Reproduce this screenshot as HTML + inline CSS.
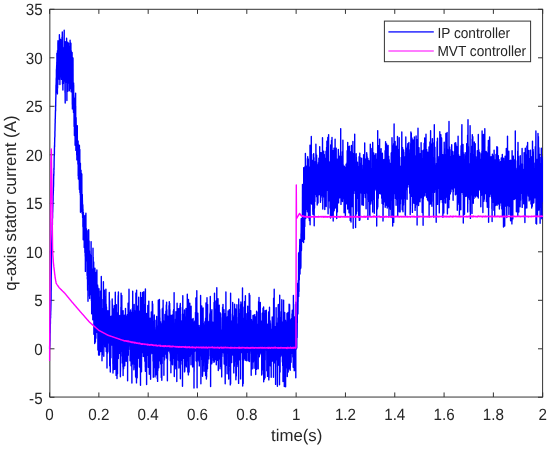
<!DOCTYPE html>
<html><head><meta charset="utf-8"><style>
html,body{margin:0;padding:0;background:#fff;}
svg{display:block;filter:blur(0.35px);}
text{font-family:"Liberation Sans",Arial,Helvetica,sans-serif;fill:#262626;text-rendering:geometricPrecision;}
</style></head><body>
<svg width="550" height="451" viewBox="0 0 550 451">
<rect width="550" height="451" fill="#fff"/>
<defs><clipPath id="ax"><rect x="48.55" y="8.80" width="494.46" height="388.75"/></clipPath></defs>
<g fill="none" stroke="#333333" stroke-width="1">
<rect x="49.85" y="9.30" width="492.75" height="387.75"/>
<path d="M49.55 397.05V392.45M49.55 9.30V13.90M98.87 397.05V392.45M98.87 9.30V13.90M148.18 397.05V392.45M148.18 9.30V13.90M197.50 397.05V392.45M197.50 9.30V13.90M246.81 397.05V392.45M246.81 9.30V13.90M296.13 397.05V392.45M296.13 9.30V13.90M345.45 397.05V392.45M345.45 9.30V13.90M394.76 397.05V392.45M394.76 9.30V13.90M444.08 397.05V392.45M444.08 9.30V13.90M493.39 397.05V392.45M493.39 9.30V13.90M542.71 397.05V392.45M542.71 9.30V13.90M49.85 397.30H54.45M542.60 397.30H538.00M49.85 348.80H54.45M542.60 348.80H538.00M49.85 300.30H54.45M542.60 300.30H538.00M49.85 251.80H54.45M542.60 251.80H538.00M49.85 203.30H54.45M542.60 203.30H538.00M49.85 154.80H54.45M542.60 154.80H538.00M49.85 106.30H54.45M542.60 106.30H538.00M49.85 57.80H54.45M542.60 57.80H538.00M49.85 9.30H54.45M542.60 9.30H538.00"/>
</g>
<g clip-path="url(#ax)" fill="none" stroke-linejoin="round">
<path d="M49.5 348.8L49.6 346.3L49.7 345.1L49.7 344.0L49.8 341.3L49.9 340.0L49.9 336.4L50.0 332.5L50.1 333.1L50.1 331.3L50.2 327.6L50.2 325.7L50.3 324.0L50.4 323.6L50.4 320.2L50.5 317.0L50.6 318.1L50.6 314.7L50.7 314.8L50.7 311.9L50.8 310.7L50.9 306.1L50.9 305.7L51.0 301.2L51.1 297.9L51.1 292.1L51.2 289.3L51.2 279.8L51.3 272.7L51.4 266.0L51.4 262.2L51.5 254.2L51.6 250.5L51.6 248.2L51.7 243.2L51.7 244.2L51.8 240.9L51.9 237.4L51.9 237.7L52.0 234.9L52.1 232.5L52.1 230.6L52.2 230.6L52.2 226.5L52.3 222.3L52.4 225.1L52.4 219.1L52.5 218.3L52.6 217.5L52.6 211.0L52.7 211.1L52.7 212.4L52.8 208.2L52.9 205.3L52.9 204.6L53.0 201.0L53.1 200.3L53.1 197.0L53.2 193.6L53.2 195.2L53.3 191.7L53.4 190.8L53.4 187.5L53.5 187.5L53.6 184.1L53.6 181.1L53.7 176.9L53.7 174.1L53.8 176.1L53.9 172.9L53.9 168.0L54.0 170.4L54.1 165.3L54.1 162.3L54.2 157.6L54.2 156.3L54.3 155.8L54.4 153.6L54.4 151.0L54.5 145.5L54.6 146.7L54.6 144.1L54.7 140.6L54.7 139.2L54.8 137.0L54.9 136.4L54.9 132.0L55.0 130.5L55.1 125.2L55.1 123.9L55.2 122.8L55.2 119.2L55.3 118.8L55.4 113.9L55.4 113.6L55.5 110.1L55.6 111.1L55.6 105.2L55.7 106.3L55.7 104.2L55.8 98.1L55.9 96.5L55.9 91.7L56.0 84.9L56.1 88.0L56.1 85.2L56.2 81.5L56.2 78.7L56.3 78.3L56.4 76.5L56.4 70.3L56.5 68.7L56.6 76.1L56.6 68.0L56.7 65.1L56.7 73.7L56.8 61.9L56.9 73.1L56.9 53.3L57.0 61.7L57.1 62.7L57.1 71.7L57.2 65.3L57.2 92.5L57.3 79.8L57.4 57.9L57.4 93.9L57.5 50.6L57.6 88.2L57.6 51.6L57.7 74.8L57.7 51.0L57.8 60.3L57.9 84.5L57.9 43.8L58.0 40.8L58.1 62.6L58.1 65.5L58.2 63.7L58.2 75.5L58.3 45.2L58.4 68.9L58.4 61.6L58.5 72.3L58.6 69.7L58.6 79.1L58.7 42.1L58.7 62.5L58.8 46.0L58.9 59.8L58.9 69.9L59.0 64.4L59.1 67.7L59.1 59.3L59.2 64.7L59.2 63.5L59.3 79.1L59.4 70.6L59.4 34.7L59.5 68.6L59.6 74.1L59.6 53.9L59.7 38.3L59.7 80.0L59.8 61.9L59.9 68.1L59.9 84.5L60.0 48.2L60.1 59.2L60.1 57.9L60.2 69.9L60.2 52.3L60.3 66.8L60.4 61.0L60.4 75.1L60.5 76.7L60.6 39.6L60.6 66.4L60.7 54.8L60.7 59.5L60.8 65.5L60.9 66.4L60.9 49.9L61.0 63.5L61.1 61.3L61.1 58.8L61.2 42.0L61.2 49.2L61.3 53.6L61.4 67.4L61.4 79.3L61.5 45.4L61.6 45.1L61.6 61.3L61.7 51.3L61.7 47.9L61.8 47.1L61.9 45.8L61.9 65.9L62.0 37.2L62.1 77.4L62.1 46.8L62.2 52.1L62.2 46.6L62.3 32.0L62.4 37.8L62.4 76.0L62.5 83.9L62.6 47.5L62.6 74.2L62.7 59.6L62.7 47.2L62.8 83.4L62.9 90.1L62.9 55.7L63.0 58.8L63.1 63.1L63.1 58.9L63.2 72.0L63.2 81.5L63.3 62.0L63.4 73.7L63.4 83.5L63.5 52.2L63.6 60.5L63.6 53.7L63.7 74.0L63.7 69.2L63.8 74.2L63.9 72.5L63.9 56.8L64.0 71.1L64.1 54.5L64.1 54.8L64.2 30.3L64.2 80.0L64.3 46.8L64.4 61.1L64.4 60.1L64.5 81.1L64.6 66.8L64.6 49.4L64.7 61.5L64.7 59.2L64.8 64.7L64.9 43.8L64.9 61.0L65.0 92.6L65.1 70.9L65.1 89.6L65.2 103.1L65.2 68.9L65.3 41.8L65.4 60.7L65.4 78.5L65.5 75.2L65.6 45.2L65.6 59.4L65.7 61.1L65.7 62.7L65.8 61.5L65.9 50.4L65.9 54.2L66.0 59.2L66.1 77.6L66.1 55.1L66.2 72.6L66.2 46.8L66.3 81.3L66.4 64.9L66.4 63.1L66.5 82.4L66.6 38.2L66.6 42.1L66.7 70.2L66.7 52.3L66.8 58.1L66.9 100.6L66.9 60.2L67.0 64.8L67.1 62.8L67.1 79.8L67.2 68.1L67.2 66.9L67.3 47.1L67.4 59.6L67.4 64.7L67.5 42.4L67.6 72.9L67.6 70.6L67.7 91.4L67.7 42.3L67.8 51.2L67.9 51.9L67.9 55.6L68.0 63.9L68.1 62.4L68.1 69.3L68.2 68.7L68.2 65.1L68.3 44.0L68.4 58.0L68.4 67.0L68.5 74.7L68.6 75.6L68.6 43.1L68.7 59.2L68.7 65.7L68.8 71.8L68.9 83.0L68.9 67.9L69.0 54.3L69.1 72.9L69.1 70.6L69.2 70.6L69.2 65.9L69.3 90.7L69.4 71.1L69.4 80.3L69.5 55.2L69.6 79.4L69.6 59.9L69.7 46.3L69.7 73.2L69.8 77.6L69.9 66.2L69.9 69.1L70.0 83.7L70.1 62.7L70.1 40.3L70.2 73.5L70.2 72.8L70.3 85.2L70.4 65.5L70.4 88.5L70.5 86.6L70.6 52.0L70.6 84.0L70.7 55.2L70.7 48.9L70.8 67.5L70.9 63.4L70.9 43.2L71.0 74.6L71.1 80.5L71.1 91.7L71.2 71.6L71.2 50.8L71.3 58.8L71.4 87.0L71.4 86.2L71.5 81.6L71.6 70.5L71.6 78.2L71.7 72.6L71.7 71.9L71.8 81.1L71.9 77.8L71.9 74.7L72.0 79.4L72.1 71.5L72.1 52.5L72.2 71.3L72.2 79.4L72.3 104.4L72.4 75.7L72.4 108.9L72.5 101.8L72.6 70.7L72.6 73.3L72.7 85.7L72.7 107.8L72.8 90.4L72.9 95.6L72.9 78.7L73.0 58.0L73.1 86.5L73.1 101.1L73.2 107.4L73.2 93.4L73.3 96.1L73.4 110.3L73.4 94.2L73.5 112.4L73.6 83.0L73.6 84.7L73.7 85.5L73.7 107.4L73.8 95.2L73.9 105.0L73.9 109.4L74.0 109.8L74.1 123.7L74.1 126.6L74.2 97.9L74.2 112.1L74.3 107.7L74.4 98.3L74.4 135.6L74.5 123.9L74.6 111.9L74.6 109.7L74.7 120.6L74.7 102.7L74.8 114.2L74.9 133.6L74.9 130.6L75.0 108.5L75.1 113.7L75.1 145.3L75.2 103.5L75.2 114.0L75.3 105.0L75.4 128.2L75.4 127.8L75.5 139.3L75.6 93.1L75.6 128.3L75.7 106.1L75.7 135.8L75.8 125.9L75.9 150.4L75.9 134.4L76.0 117.5L76.1 147.0L76.1 117.7L76.2 127.9L76.2 146.3L76.3 140.0L76.4 140.2L76.4 135.6L76.5 142.5L76.6 146.9L76.6 141.0L76.7 150.9L76.7 154.9L76.8 139.8L76.9 128.6L76.9 159.9L77.0 141.2L77.1 150.2L77.1 155.0L77.2 132.5L77.2 150.5L77.3 125.8L77.4 155.2L77.4 141.1L77.5 149.5L77.6 156.8L77.6 140.7L77.7 150.7L77.7 141.8L77.8 150.7L77.9 164.3L77.9 152.7L78.0 151.5L78.1 140.9L78.1 164.7L78.2 154.6L78.2 176.1L78.3 147.4L78.4 169.5L78.4 179.1L78.5 158.2L78.6 144.6L78.6 177.6L78.7 172.9L78.7 169.3L78.8 174.7L78.9 156.9L78.9 172.1L79.0 171.7L79.1 156.5L79.1 173.5L79.2 159.7L79.2 177.5L79.3 181.2L79.4 189.5L79.4 145.4L79.5 172.6L79.6 166.5L79.6 170.5L79.7 169.0L79.7 171.0L79.8 149.4L79.9 185.6L79.9 192.6L80.0 186.7L80.1 191.3L80.1 167.1L80.2 167.0L80.2 189.0L80.3 194.9L80.4 183.2L80.4 163.2L80.5 212.2L80.6 175.0L80.6 194.7L80.7 170.4L80.7 196.2L80.8 187.5L80.9 202.7L80.9 197.2L81.0 170.1L81.1 177.5L81.1 192.6L81.2 198.8L81.2 211.5L81.3 194.7L81.4 191.2L81.4 192.5L81.5 193.4L81.6 206.1L81.6 194.5L81.7 194.9L81.7 180.1L81.8 173.9L81.9 198.3L81.9 206.6L82.0 199.0L82.1 206.2L82.1 208.6L82.2 201.1L82.2 213.8L82.3 194.5L82.4 203.9L82.4 200.3L82.5 206.3L82.6 213.8L82.6 217.4L82.7 209.3L82.7 213.9L82.8 204.8L82.9 208.6L82.9 226.5L83.0 209.1L83.1 227.9L83.1 219.4L83.2 216.0L83.2 239.7L83.3 212.5L83.4 212.4L83.4 217.2L83.5 221.5L83.6 221.6L83.6 230.3L83.7 221.7L83.7 226.2L83.8 218.4L83.9 236.5L83.9 217.9L84.0 219.9L84.1 224.5L84.1 229.2L84.2 216.5L84.2 247.6L84.3 219.1L84.4 222.9L84.4 223.0L84.5 222.4L84.6 237.6L84.6 232.6L84.7 220.5L84.7 224.0L84.8 227.6L84.9 252.6L84.9 223.9L85.0 215.4L85.1 218.2L85.1 229.8L85.2 256.2L85.2 220.6L85.3 236.9L85.4 271.4L85.4 230.3L85.5 258.3L85.6 256.0L85.6 246.8L85.7 219.0L85.7 243.9L85.8 234.9L85.9 213.2L85.9 216.0L86.0 242.1L86.1 244.7L86.1 260.7L86.2 252.7L86.2 236.1L86.3 237.1L86.4 242.0L86.4 228.8L86.5 256.7L86.6 246.1L86.6 234.3L86.7 237.1L86.7 230.0L86.8 241.1L86.9 252.7L86.9 242.6L87.0 264.8L87.1 275.5L87.1 240.7L87.2 251.3L87.2 246.0L87.3 278.9L87.4 257.9L87.4 262.3L87.5 267.1L87.6 290.2L87.6 259.6L87.7 239.9L87.7 248.9L87.8 265.6L87.9 256.5L87.9 244.2L88.0 301.2L88.1 259.9L88.1 249.2L88.2 247.4L88.2 230.7L88.3 240.7L88.4 255.1L88.4 255.8L88.5 248.0L88.6 271.2L88.6 263.2L88.7 247.4L88.7 229.8L88.8 266.8L88.9 265.4L88.9 261.7L89.0 242.2L89.1 266.7L89.1 241.0L89.2 284.1L89.2 271.0L89.3 271.7L89.4 255.0L89.4 251.0L89.5 296.3L89.6 286.4L89.6 265.0L89.7 283.0L89.7 298.6L89.8 254.3L89.9 264.3L89.9 264.9L90.0 282.4L90.1 256.5L90.1 279.3L90.2 256.3L90.2 292.1L90.3 291.5L90.4 273.2L90.4 289.6L90.5 265.7L90.6 273.4L90.6 294.6L90.7 277.4L90.7 285.3L90.8 263.3L90.9 291.0L90.9 287.9L91.0 259.1L91.1 241.6L91.1 246.0L91.2 280.5L91.2 278.1L91.3 255.3L91.4 284.9L91.4 300.4L91.5 281.4L91.6 275.9L91.6 298.9L91.7 313.8L91.7 310.4L91.8 273.5L91.9 299.2L91.9 288.6L92.0 282.7L92.1 275.8L92.1 293.1L92.2 278.7L92.2 303.7L92.3 294.7L92.4 306.9L92.4 268.9L92.5 289.9L92.6 302.9L92.6 296.4L92.7 294.4L92.7 278.4L92.8 319.7L92.9 310.1L92.9 298.7L93.0 248.2L93.1 275.6L93.1 295.1L93.2 280.7L93.2 257.1L93.3 298.4L93.4 301.1L93.4 273.2L93.5 286.4L93.6 283.6L93.6 305.1L93.7 261.9L93.7 266.1L93.8 287.0L93.9 285.2L93.9 334.2L94.0 286.8L94.1 302.1L94.1 291.2L94.2 287.1L94.2 305.9L94.3 330.5L94.4 293.8L94.4 314.2L94.5 307.1L94.6 312.4L94.6 308.1L94.7 343.5L94.7 280.7L94.8 298.5L94.9 283.4L94.9 268.1L95.0 303.7L95.1 337.1L95.1 321.0L95.2 327.0L95.2 314.5L95.3 304.2L95.4 342.0L95.4 299.9L95.5 333.6L95.6 301.1L95.6 308.7L95.7 312.6L95.7 308.4L95.8 317.1L95.9 318.7L95.9 338.3L96.0 308.5L96.1 274.7L96.1 272.5L96.2 284.6L96.2 296.0L96.3 321.3L96.4 283.0L96.4 310.5L96.5 310.9L96.6 315.2L96.6 308.4L96.7 318.2L96.7 312.1L96.8 330.5L96.9 317.8L96.9 269.9L97.0 312.7L97.1 316.0L97.1 302.1L97.2 299.1L97.2 332.6L97.3 316.2L97.4 295.9L97.4 307.9L97.5 310.9L97.6 284.9L97.6 325.9L97.7 312.2L97.7 323.5L97.8 286.8L97.9 350.1L97.9 326.9L98.0 324.5L98.1 302.8L98.1 304.1L98.2 289.8L98.2 344.6L98.3 302.1L98.4 321.5L98.4 328.5L98.5 306.6L98.6 333.6L98.6 355.1L98.7 324.0L98.7 344.9L98.8 329.5L98.9 310.9L98.9 312.1L99.0 288.8L99.1 321.7L99.1 346.3L99.2 332.1L99.2 335.2L99.3 340.7L99.4 310.6L99.4 330.4L99.5 355.0L99.6 306.2L99.6 320.9L99.7 312.6L99.7 317.2L99.8 307.9L99.9 318.6L99.9 297.2L100.0 311.9L100.1 312.6L100.1 312.4L100.2 346.2L100.2 322.8L100.3 324.6L100.4 316.4L100.4 344.7L100.5 291.1L100.6 318.6L100.6 342.2L100.7 351.6L100.7 325.6L100.8 322.3L100.9 333.6L100.9 319.4L101.0 332.3L101.1 311.6L101.1 334.0L101.2 322.0L101.2 304.5L101.3 276.5L101.4 339.4L101.4 329.8L101.5 336.5L101.6 308.5L101.6 342.3L101.7 330.5L101.7 322.7L101.8 339.4L101.9 339.1L101.9 330.7L102.0 360.7L102.1 348.4L102.1 329.8L102.2 320.4L102.2 326.1L102.3 354.9L102.4 331.1L102.4 309.9L102.5 314.2L102.6 324.8L102.6 338.8L102.7 313.2L102.7 333.6L102.8 344.2L102.9 337.6L102.9 299.4L103.0 320.6L103.1 304.9L103.1 332.3L103.2 308.9L103.2 334.6L103.3 327.2L103.4 281.7L103.4 312.3L103.5 333.2L103.6 326.4L103.6 319.9L103.7 305.2L103.7 333.4L103.8 356.3L103.9 330.0L103.9 325.3L104.0 324.0L104.1 304.1L104.1 320.9L104.2 313.0L104.2 344.8L104.3 312.3L104.4 290.3L104.4 314.1L104.5 322.6L104.6 324.2L104.6 296.6L104.7 342.2L104.7 328.6L104.8 319.9L104.9 315.4L104.9 334.1L105.0 322.6L105.1 331.7L105.1 325.6L105.2 329.6L105.2 346.8L105.3 328.0L105.4 314.1L105.4 343.9L105.5 331.7L105.6 317.9L105.6 346.0L105.7 325.6L105.7 346.0L105.8 310.6L105.9 289.1L105.9 294.6L106.0 332.1L106.1 317.7L106.1 327.2L106.2 327.6L106.2 304.2L106.3 351.5L106.4 312.9L106.4 330.0L106.5 306.9L106.6 326.6L106.6 340.0L106.7 325.4L106.7 318.4L106.8 328.9L106.9 322.3L106.9 337.5L107.0 368.0L107.1 316.0L107.1 319.3L107.2 327.5L107.2 328.6L107.3 314.0L107.4 336.6L107.4 340.7L107.5 332.4L107.6 311.6L107.6 353.1L107.7 311.6L107.7 339.7L107.8 347.7L107.9 310.6L107.9 331.2L108.0 351.5L108.1 335.2L108.1 316.3L108.2 312.0L108.2 336.3L108.3 324.4L108.4 319.9L108.4 339.9L108.5 325.2L108.6 330.5L108.6 338.2L108.7 337.5L108.7 329.3L108.8 329.8L108.9 338.7L108.9 336.5L109.0 313.9L109.1 327.5L109.1 317.7L109.2 312.5L109.2 322.3L109.3 292.4L109.4 343.2L109.4 319.1L109.5 335.0L109.6 300.8L109.6 303.9L109.7 365.7L109.7 345.8L109.8 321.5L109.9 319.7L109.9 320.5L110.0 331.6L110.1 324.7L110.1 321.9L110.2 331.8L110.2 316.2L110.3 372.1L110.4 322.3L110.4 347.1L110.5 317.5L110.6 334.0L110.6 344.6L110.7 326.1L110.7 345.0L110.8 345.0L110.9 357.7L110.9 331.4L111.0 324.6L111.1 316.8L111.1 333.0L111.2 316.5L111.2 330.9L111.3 332.4L111.4 323.8L111.4 316.5L111.5 336.0L111.6 334.6L111.6 333.4L111.7 330.3L111.7 345.1L111.8 317.2L111.9 337.0L111.9 325.6L112.0 343.8L112.1 327.1L112.1 326.7L112.2 337.4L112.2 299.0L112.3 327.0L112.4 304.1L112.4 318.7L112.5 341.2L112.6 336.9L112.6 326.4L112.7 331.0L112.7 331.2L112.8 335.6L112.9 364.0L112.9 334.8L113.0 373.1L113.1 327.4L113.1 342.5L113.2 342.3L113.3 334.8L113.3 328.8L113.4 355.8L113.4 362.9L113.5 348.6L113.6 369.8L113.6 346.8L113.7 308.6L113.8 348.5L113.8 324.2L113.9 354.8L113.9 328.8L114.0 336.6L114.1 333.1L114.1 325.5L114.2 305.7L114.3 330.3L114.3 331.1L114.4 347.4L114.4 325.5L114.5 335.9L114.6 322.1L114.6 333.3L114.7 306.3L114.8 369.2L114.8 336.8L114.9 321.5L114.9 337.7L115.0 344.6L115.1 336.5L115.1 355.8L115.2 331.8L115.3 292.2L115.3 317.7L115.4 350.6L115.4 346.3L115.5 338.8L115.6 320.1L115.6 345.6L115.7 343.4L115.8 322.1L115.8 322.4L115.9 338.6L115.9 351.2L116.0 360.1L116.1 343.8L116.1 375.4L116.2 324.4L116.3 342.7L116.3 328.1L116.4 304.7L116.4 317.8L116.5 352.0L116.6 322.7L116.6 318.1L116.7 344.7L116.8 348.3L116.8 335.3L116.9 361.4L116.9 312.6L117.0 378.5L117.1 351.2L117.1 337.5L117.2 336.9L117.3 332.1L117.3 330.8L117.4 336.7L117.4 318.5L117.5 373.8L117.6 334.0L117.6 344.3L117.7 332.5L117.8 331.5L117.8 347.7L117.9 343.2L117.9 324.0L118.0 330.0L118.1 343.8L118.1 301.3L118.2 295.6L118.3 358.6L118.3 330.6L118.4 292.0L118.4 324.2L118.5 331.6L118.6 336.8L118.6 341.7L118.7 336.9L118.8 341.9L118.8 324.8L118.9 339.6L118.9 340.2L119.0 353.4L119.1 334.8L119.1 347.6L119.2 336.6L119.3 320.4L119.3 330.0L119.4 328.2L119.4 330.1L119.5 333.6L119.6 335.9L119.6 338.4L119.7 324.7L119.8 351.2L119.8 315.4L119.9 333.9L119.9 345.2L120.0 341.1L120.1 344.1L120.1 332.6L120.2 344.8L120.3 318.9L120.3 345.8L120.4 376.8L120.4 345.0L120.5 371.4L120.6 334.9L120.6 320.3L120.7 326.5L120.8 356.3L120.8 345.6L120.9 307.2L120.9 330.8L121.0 334.4L121.1 320.4L121.1 293.3L121.2 316.4L121.3 333.0L121.3 330.4L121.4 327.0L121.4 343.2L121.5 351.0L121.6 334.0L121.6 348.9L121.7 335.4L121.8 333.5L121.8 295.5L121.9 347.3L121.9 336.2L122.0 336.8L122.1 329.5L122.1 320.7L122.2 341.4L122.3 346.8L122.3 363.1L122.4 348.7L122.4 328.2L122.5 334.2L122.6 350.3L122.6 339.8L122.7 334.4L122.8 328.7L122.8 343.1L122.9 338.1L122.9 367.3L123.0 353.0L123.1 310.7L123.1 375.6L123.2 339.3L123.3 332.3L123.3 339.9L123.4 346.8L123.4 335.6L123.5 334.9L123.6 335.9L123.6 368.8L123.7 336.8L123.8 347.6L123.8 342.6L123.9 332.3L123.9 327.0L124.0 323.3L124.1 341.8L124.1 322.9L124.2 318.9L124.3 319.6L124.3 315.2L124.4 336.9L124.4 337.2L124.5 324.5L124.6 357.5L124.6 332.7L124.7 342.4L124.8 340.0L124.8 365.8L124.9 348.4L124.9 335.3L125.0 323.6L125.1 322.0L125.1 336.1L125.2 337.6L125.3 347.4L125.3 330.4L125.4 338.4L125.4 327.8L125.5 308.5L125.6 335.6L125.6 360.4L125.7 348.0L125.8 359.6L125.8 354.3L125.9 316.9L125.9 332.7L126.0 361.0L126.1 327.2L126.1 317.7L126.2 340.1L126.3 345.0L126.3 339.8L126.4 332.0L126.4 327.4L126.5 319.1L126.6 318.6L126.6 319.1L126.7 316.0L126.8 327.2L126.8 361.3L126.9 337.0L126.9 331.8L127.0 340.6L127.1 323.6L127.1 340.2L127.2 349.4L127.3 314.6L127.3 327.2L127.4 333.0L127.4 323.4L127.5 321.2L127.6 331.5L127.6 380.8L127.7 345.2L127.8 341.8L127.8 350.5L127.9 333.3L127.9 319.2L128.0 342.2L128.1 353.4L128.1 303.1L128.2 341.7L128.3 355.3L128.3 332.9L128.4 330.6L128.4 345.8L128.5 325.6L128.6 342.3L128.6 349.5L128.7 333.6L128.8 325.9L128.8 344.7L128.9 331.8L128.9 336.8L129.0 289.2L129.1 345.9L129.1 316.0L129.2 336.4L129.3 337.3L129.3 326.7L129.4 324.2L129.4 318.1L129.5 332.0L129.6 344.2L129.6 343.3L129.7 329.7L129.8 328.7L129.8 315.9L129.9 330.9L129.9 321.6L130.0 313.7L130.1 334.0L130.1 360.8L130.2 354.6L130.3 359.8L130.3 312.3L130.4 348.5L130.4 318.9L130.5 328.8L130.6 309.9L130.6 322.7L130.7 337.2L130.8 338.5L130.8 335.0L130.9 334.0L130.9 343.4L131.0 336.4L131.1 312.1L131.1 365.8L131.2 333.1L131.3 349.6L131.3 333.9L131.4 325.3L131.4 336.8L131.5 326.3L131.6 363.3L131.6 321.1L131.7 344.6L131.8 328.5L131.8 334.0L131.9 383.0L131.9 347.1L132.0 333.6L132.1 313.3L132.1 332.8L132.2 333.2L132.3 359.6L132.3 315.6L132.4 308.4L132.4 335.9L132.5 339.1L132.6 364.1L132.6 324.8L132.7 291.2L132.8 327.3L132.8 318.7L132.9 329.7L132.9 351.3L133.0 317.4L133.1 356.1L133.1 339.0L133.2 333.1L133.3 324.9L133.3 331.4L133.4 331.8L133.4 347.4L133.5 357.2L133.6 335.7L133.6 346.6L133.7 357.6L133.8 356.8L133.8 343.2L133.9 369.8L133.9 358.5L134.0 364.7L134.1 334.4L134.1 331.6L134.2 304.4L134.3 361.7L134.3 346.2L134.4 324.6L134.4 339.3L134.5 340.9L134.6 310.7L134.6 341.0L134.7 354.8L134.8 358.0L134.8 332.6L134.9 333.0L134.9 359.1L135.0 351.6L135.1 330.1L135.1 329.6L135.2 345.8L135.3 329.0L135.3 329.7L135.4 368.3L135.4 340.8L135.5 331.8L135.6 344.7L135.6 376.5L135.7 340.4L135.8 327.2L135.8 313.3L135.9 377.6L135.9 292.9L136.0 354.4L136.1 324.2L136.1 319.6L136.2 323.8L136.3 335.0L136.3 355.1L136.4 329.0L136.4 347.0L136.5 382.9L136.6 290.2L136.6 327.9L136.7 308.7L136.8 350.4L136.8 315.5L136.9 313.2L136.9 313.9L137.0 337.0L137.1 355.9L137.1 339.0L137.2 377.8L137.3 366.5L137.3 335.7L137.4 351.9L137.4 338.8L137.5 338.1L137.6 306.3L137.6 318.6L137.7 337.3L137.8 320.1L137.8 348.2L137.9 341.2L137.9 324.9L138.0 356.7L138.1 340.4L138.1 358.3L138.2 335.4L138.3 312.4L138.3 347.7L138.4 334.2L138.4 350.2L138.5 354.9L138.6 356.6L138.6 315.8L138.7 297.3L138.8 331.0L138.8 347.1L138.9 328.0L138.9 341.2L139.0 326.6L139.1 333.4L139.1 333.6L139.2 329.4L139.3 344.9L139.3 342.3L139.4 367.0L139.4 342.8L139.5 360.4L139.6 338.6L139.6 351.3L139.7 335.7L139.8 331.4L139.8 360.4L139.9 348.8L139.9 351.1L140.0 327.4L140.1 311.0L140.1 325.9L140.2 341.5L140.3 315.6L140.3 362.4L140.4 315.0L140.4 346.2L140.5 385.3L140.6 292.5L140.6 313.5L140.7 352.7L140.8 334.9L140.8 339.6L140.9 335.7L140.9 361.8L141.0 346.6L141.1 331.3L141.1 334.3L141.2 320.4L141.3 335.9L141.3 297.6L141.4 347.2L141.4 333.9L141.5 371.7L141.6 357.0L141.6 318.1L141.7 351.1L141.8 330.5L141.8 337.6L141.9 353.0L141.9 341.5L142.0 344.0L142.1 343.6L142.1 327.4L142.2 328.8L142.3 345.0L142.3 350.5L142.4 333.6L142.4 338.1L142.5 323.2L142.6 292.5L142.6 326.1L142.7 337.3L142.8 339.1L142.8 349.6L142.9 350.5L142.9 352.2L143.0 342.2L143.1 342.7L143.1 327.5L143.2 342.3L143.3 339.4L143.3 356.4L143.4 312.3L143.4 330.8L143.5 309.4L143.6 326.8L143.6 315.3L143.7 340.2L143.8 327.9L143.8 291.8L143.9 356.5L143.9 320.8L144.0 311.3L144.1 331.9L144.1 327.3L144.2 319.1L144.3 346.5L144.3 332.0L144.4 350.2L144.4 346.9L144.5 345.9L144.6 338.8L144.6 335.2L144.7 331.4L144.8 361.2L144.8 304.5L144.9 320.7L144.9 327.6L145.0 341.9L145.1 338.1L145.1 330.1L145.2 332.0L145.3 367.2L145.3 327.4L145.4 289.0L145.4 371.3L145.5 323.4L145.6 332.5L145.6 338.4L145.7 316.8L145.8 356.3L145.8 335.1L145.9 315.1L145.9 339.6L146.0 342.8L146.1 335.6L146.1 343.2L146.2 313.5L146.3 351.0L146.3 325.4L146.4 357.8L146.4 328.4L146.5 338.3L146.6 384.5L146.6 337.0L146.7 354.1L146.8 343.2L146.8 313.6L146.9 355.1L146.9 354.0L147.0 315.5L147.1 335.7L147.1 313.6L147.2 333.1L147.3 350.6L147.3 337.8L147.4 319.4L147.4 324.3L147.5 337.0L147.6 336.4L147.6 338.5L147.7 345.4L147.8 305.4L147.8 336.9L147.9 355.4L147.9 343.8L148.0 327.6L148.1 328.9L148.1 338.8L148.2 346.9L148.3 336.7L148.3 367.3L148.4 358.9L148.4 326.5L148.5 343.8L148.6 332.5L148.6 319.6L148.7 328.8L148.8 336.8L148.8 301.1L148.9 328.5L148.9 341.9L149.0 327.6L149.1 332.1L149.1 350.2L149.2 336.2L149.3 339.2L149.3 374.3L149.4 339.3L149.4 340.9L149.5 343.2L149.6 366.6L149.6 342.0L149.7 337.6L149.8 335.9L149.8 355.5L149.9 329.0L149.9 357.2L150.0 340.1L150.1 318.1L150.1 347.3L150.2 344.4L150.3 322.2L150.3 342.4L150.4 341.1L150.4 334.5L150.5 322.6L150.6 379.3L150.6 349.7L150.7 353.0L150.8 354.5L150.8 350.2L150.9 349.9L150.9 333.5L151.0 350.8L151.1 335.7L151.1 332.3L151.2 348.0L151.3 335.6L151.3 311.9L151.4 333.3L151.4 346.4L151.5 337.9L151.6 351.3L151.6 333.9L151.7 325.7L151.8 349.5L151.8 339.9L151.9 321.7L151.9 344.2L152.0 334.9L152.1 353.3L152.1 349.5L152.2 344.4L152.3 301.4L152.3 342.7L152.4 344.5L152.4 345.0L152.5 339.3L152.6 329.0L152.6 335.0L152.7 304.0L152.8 334.7L152.8 316.3L152.9 334.0L152.9 329.7L153.0 361.2L153.1 338.8L153.1 338.0L153.2 340.3L153.3 377.3L153.3 325.8L153.4 342.4L153.4 343.1L153.5 340.5L153.6 340.1L153.6 332.4L153.7 357.7L153.8 351.2L153.8 333.8L153.9 335.5L153.9 342.2L154.0 345.2L154.1 349.5L154.1 337.9L154.2 321.0L154.3 353.6L154.3 314.9L154.4 326.4L154.4 343.4L154.5 327.3L154.6 361.8L154.6 367.7L154.7 358.1L154.8 342.7L154.8 341.5L154.9 344.3L154.9 336.1L155.0 376.9L155.1 331.3L155.1 360.8L155.2 346.6L155.3 342.8L155.3 355.5L155.4 359.8L155.4 352.6L155.5 337.3L155.6 330.0L155.6 330.4L155.7 352.4L155.8 348.8L155.8 351.1L155.9 331.9L155.9 374.9L156.0 320.1L156.1 343.9L156.1 348.7L156.2 333.3L156.3 323.5L156.3 333.3L156.4 323.2L156.4 335.7L156.5 320.2L156.6 320.0L156.6 338.5L156.7 316.5L156.8 335.4L156.8 336.3L156.9 351.1L156.9 341.1L157.0 327.4L157.1 358.6L157.1 329.2L157.2 333.2L157.3 334.1L157.3 378.4L157.4 338.6L157.4 329.3L157.5 348.4L157.6 336.3L157.6 381.4L157.7 329.0L157.8 346.7L157.8 326.0L157.9 370.4L157.9 328.7L158.0 340.4L158.1 327.0L158.1 351.2L158.2 346.0L158.3 300.2L158.3 349.6L158.4 347.5L158.4 340.9L158.5 353.0L158.6 321.0L158.6 311.1L158.7 347.4L158.8 367.7L158.8 321.3L158.9 322.3L158.9 326.8L159.0 321.5L159.1 350.2L159.1 339.5L159.2 360.1L159.3 360.9L159.3 324.4L159.4 346.9L159.4 299.5L159.5 336.5L159.6 346.4L159.6 327.2L159.7 309.6L159.8 331.5L159.8 356.8L159.9 333.0L159.9 317.8L160.0 344.1L160.1 348.6L160.1 323.9L160.2 335.8L160.3 354.6L160.3 342.5L160.4 348.3L160.4 333.9L160.5 336.1L160.6 321.7L160.6 328.5L160.7 364.0L160.8 332.6L160.8 325.7L160.9 331.9L160.9 323.7L161.0 345.0L161.1 351.8L161.1 325.2L161.2 353.9L161.3 377.6L161.3 323.7L161.4 347.8L161.4 341.4L161.5 360.5L161.6 359.0L161.6 355.6L161.7 342.2L161.8 333.1L161.8 380.2L161.9 327.9L161.9 356.1L162.0 353.9L162.1 329.0L162.1 338.3L162.2 363.5L162.3 308.8L162.3 350.2L162.4 334.6L162.4 335.1L162.5 317.2L162.6 343.6L162.6 324.1L162.7 348.2L162.8 322.2L162.8 348.5L162.9 342.3L162.9 307.7L163.0 333.7L163.1 336.2L163.1 300.3L163.2 333.2L163.3 349.5L163.3 328.2L163.4 356.2L163.4 322.1L163.5 320.8L163.6 345.5L163.6 346.3L163.7 335.4L163.8 337.3L163.8 352.3L163.9 330.5L163.9 375.2L164.0 343.3L164.1 342.9L164.1 341.0L164.2 333.9L164.3 357.1L164.3 330.3L164.4 339.8L164.4 346.7L164.5 359.9L164.6 356.2L164.6 333.3L164.7 352.1L164.8 336.7L164.8 323.3L164.9 323.7L164.9 314.5L165.0 341.4L165.1 354.3L165.1 323.9L165.2 333.9L165.3 322.3L165.3 337.3L165.4 321.1L165.4 326.6L165.5 328.5L165.6 331.4L165.6 332.8L165.7 334.8L165.8 334.9L165.8 324.4L165.9 344.6L165.9 311.1L166.0 338.8L166.1 324.5L166.1 338.6L166.2 340.7L166.3 304.9L166.3 341.6L166.4 358.1L166.4 347.8L166.5 341.7L166.6 302.3L166.6 335.2L166.7 325.3L166.8 352.8L166.8 333.4L166.9 329.2L166.9 309.8L167.0 347.5L167.1 330.1L167.1 334.0L167.2 353.2L167.3 337.7L167.3 341.0L167.4 380.8L167.4 330.2L167.5 331.0L167.6 343.5L167.6 359.4L167.7 316.1L167.8 334.5L167.8 324.1L167.9 317.4L167.9 344.8L168.0 327.2L168.1 340.7L168.1 338.3L168.2 338.6L168.3 337.5L168.3 322.5L168.4 336.2L168.4 339.5L168.5 341.2L168.6 333.6L168.6 351.0L168.7 344.5L168.8 338.2L168.8 345.5L168.9 339.1L168.9 346.2L169.0 305.6L169.1 318.8L169.1 332.2L169.2 338.2L169.3 301.6L169.3 333.8L169.4 338.7L169.4 334.1L169.5 334.0L169.6 317.4L169.6 337.8L169.7 303.5L169.8 350.8L169.8 329.0L169.9 352.9L169.9 309.6L170.0 342.0L170.1 338.3L170.1 325.6L170.2 320.2L170.3 355.0L170.3 342.2L170.4 360.7L170.4 336.1L170.5 338.9L170.6 342.3L170.6 347.4L170.7 342.8L170.8 348.5L170.8 331.2L170.9 315.5L170.9 372.8L171.0 339.1L171.1 343.3L171.1 331.7L171.2 352.0L171.3 339.5L171.3 353.7L171.4 329.0L171.4 336.5L171.5 339.7L171.6 333.3L171.6 340.9L171.7 364.1L171.8 330.4L171.8 334.3L171.9 339.6L171.9 324.7L172.0 320.8L172.1 354.7L172.1 349.1L172.2 314.9L172.3 317.3L172.3 348.4L172.4 356.4L172.4 346.7L172.5 344.5L172.6 364.8L172.6 337.3L172.7 358.4L172.8 357.0L172.8 325.8L172.9 347.5L172.9 338.6L173.0 329.9L173.1 327.3L173.1 342.2L173.2 337.2L173.3 349.9L173.3 311.0L173.4 329.6L173.4 354.9L173.5 337.6L173.6 328.7L173.6 331.9L173.7 309.4L173.8 318.2L173.8 345.2L173.9 338.8L173.9 358.4L174.0 334.8L174.1 335.9L174.1 292.6L174.2 336.5L174.3 376.5L174.3 347.3L174.4 336.4L174.4 357.8L174.5 350.6L174.6 342.5L174.6 333.7L174.7 339.7L174.8 350.9L174.8 327.6L174.9 345.1L174.9 344.5L175.0 360.4L175.1 349.1L175.1 329.6L175.2 365.5L175.3 338.5L175.3 328.6L175.4 342.7L175.4 334.9L175.5 355.1L175.6 319.2L175.6 322.8L175.7 334.9L175.8 368.7L175.8 353.8L175.9 324.8L175.9 311.7L176.0 334.2L176.1 320.3L176.1 346.2L176.2 340.0L176.3 337.6L176.3 332.6L176.4 363.5L176.5 325.3L176.5 319.0L176.6 355.7L176.6 359.8L176.7 333.5L176.8 346.9L176.8 381.6L176.9 327.3L177.0 335.8L177.0 344.1L177.1 303.2L177.1 336.0L177.2 348.6L177.3 336.4L177.3 353.6L177.4 348.7L177.5 333.0L177.5 345.3L177.6 343.7L177.6 312.5L177.7 326.5L177.8 327.4L177.8 331.2L177.9 331.8L178.0 316.5L178.0 337.8L178.1 308.7L178.1 352.0L178.2 340.9L178.3 360.3L178.3 342.2L178.4 331.3L178.5 316.6L178.5 347.0L178.6 337.5L178.6 342.4L178.7 348.3L178.8 356.4L178.8 336.9L178.9 368.1L179.0 336.3L179.0 337.3L179.1 346.9L179.1 353.0L179.2 360.4L179.3 308.4L179.3 359.5L179.4 314.6L179.5 330.2L179.5 342.4L179.6 355.8L179.6 323.6L179.7 311.3L179.8 351.6L179.8 341.5L179.9 323.5L180.0 333.6L180.0 305.6L180.1 345.5L180.1 331.0L180.2 357.6L180.3 303.5L180.3 348.1L180.4 378.7L180.5 339.1L180.5 339.3L180.6 307.4L180.6 342.0L180.7 337.6L180.8 330.3L180.8 314.1L180.9 338.3L181.0 323.7L181.0 331.3L181.1 341.4L181.1 336.6L181.2 337.2L181.3 351.3L181.3 320.8L181.4 360.4L181.5 321.5L181.5 325.0L181.6 338.7L181.6 348.7L181.7 340.4L181.8 331.9L181.8 328.2L181.9 334.2L182.0 324.4L182.0 345.3L182.1 334.8L182.1 364.3L182.2 327.8L182.3 335.8L182.3 343.1L182.4 321.6L182.5 328.9L182.5 386.2L182.6 337.0L182.6 361.8L182.7 323.2L182.8 295.6L182.8 344.7L182.9 336.6L183.0 340.8L183.0 333.4L183.1 329.5L183.1 319.5L183.2 352.5L183.3 314.3L183.3 351.5L183.4 334.3L183.5 321.7L183.5 328.5L183.6 351.6L183.6 347.6L183.7 343.8L183.8 338.1L183.8 321.9L183.9 358.4L184.0 331.9L184.0 330.0L184.1 330.7L184.1 331.9L184.2 315.3L184.3 331.6L184.3 326.4L184.4 330.6L184.5 309.9L184.5 371.9L184.6 319.5L184.6 340.9L184.7 341.1L184.8 352.2L184.8 371.2L184.9 342.6L185.0 347.3L185.0 331.5L185.1 362.1L185.1 316.9L185.2 334.3L185.3 340.7L185.3 347.7L185.4 349.0L185.5 355.2L185.5 345.0L185.6 337.3L185.6 339.7L185.7 360.9L185.8 340.9L185.8 350.8L185.9 335.6L186.0 308.4L186.0 329.7L186.1 341.6L186.1 365.5L186.2 360.9L186.3 366.9L186.3 328.3L186.4 348.6L186.5 336.7L186.5 346.2L186.6 336.4L186.6 317.4L186.7 347.2L186.8 341.9L186.8 349.3L186.9 326.1L187.0 353.2L187.0 355.2L187.1 360.3L187.1 360.7L187.2 331.8L187.3 294.2L187.3 352.6L187.4 324.9L187.5 334.5L187.5 354.6L187.6 341.0L187.6 340.4L187.7 347.3L187.8 307.0L187.8 372.0L187.9 332.9L188.0 333.5L188.0 345.5L188.1 335.7L188.1 326.0L188.2 335.6L188.3 332.4L188.3 328.7L188.4 374.9L188.5 315.9L188.5 299.5L188.6 324.4L188.6 323.9L188.7 360.7L188.8 338.9L188.8 349.3L188.9 345.6L189.0 324.7L189.0 349.2L189.1 339.0L189.1 372.0L189.2 339.4L189.3 336.3L189.3 347.5L189.4 347.8L189.5 307.9L189.5 356.6L189.6 353.6L189.6 349.2L189.7 320.9L189.8 303.2L189.8 333.5L189.9 347.7L190.0 343.1L190.0 323.1L190.1 351.0L190.1 316.4L190.2 317.0L190.3 336.5L190.3 329.4L190.4 327.9L190.5 314.5L190.5 353.6L190.6 321.1L190.6 342.4L190.7 348.5L190.8 336.2L190.8 340.1L190.9 352.4L191.0 364.7L191.0 351.6L191.1 316.4L191.1 306.2L191.2 329.3L191.3 321.1L191.3 344.5L191.4 338.3L191.5 334.1L191.5 354.1L191.6 352.4L191.6 336.2L191.7 341.6L191.8 353.8L191.8 332.8L191.9 340.7L192.0 323.7L192.0 337.3L192.1 341.3L192.1 335.9L192.2 339.5L192.3 346.8L192.3 342.7L192.4 327.9L192.5 329.3L192.5 319.3L192.6 366.9L192.6 342.6L192.7 342.9L192.8 335.3L192.8 343.5L192.9 344.4L193.0 327.4L193.0 335.3L193.1 355.7L193.1 318.5L193.2 324.1L193.3 345.3L193.3 326.6L193.4 347.9L193.5 322.0L193.5 340.1L193.6 349.1L193.6 342.3L193.7 348.4L193.8 335.1L193.8 335.3L193.9 336.8L194.0 345.0L194.0 388.0L194.1 336.2L194.1 371.6L194.2 334.5L194.3 321.9L194.3 334.1L194.4 342.5L194.5 339.6L194.5 338.9L194.6 344.9L194.6 345.4L194.7 351.2L194.8 320.9L194.8 337.4L194.9 324.7L195.0 340.5L195.0 336.4L195.1 339.4L195.1 331.7L195.2 326.7L195.3 334.5L195.3 346.9L195.4 348.6L195.5 312.4L195.5 340.9L195.6 341.1L195.6 316.0L195.7 322.6L195.8 330.8L195.8 342.6L195.9 297.9L196.0 332.6L196.0 330.6L196.1 339.4L196.1 360.7L196.2 359.0L196.3 332.4L196.3 332.6L196.4 340.3L196.5 355.7L196.5 361.2L196.6 341.6L196.6 361.6L196.7 325.6L196.8 321.5L196.8 290.7L196.9 325.9L197.0 345.5L197.0 350.2L197.1 387.8L197.1 345.6L197.2 339.5L197.3 324.5L197.3 329.7L197.4 330.0L197.5 334.8L197.5 329.0L197.6 316.3L197.6 353.7L197.7 343.4L197.8 360.1L197.8 313.1L197.9 319.0L198.0 327.7L198.0 356.2L198.1 335.2L198.1 340.2L198.2 336.3L198.3 339.6L198.3 330.9L198.4 342.5L198.5 326.2L198.5 334.4L198.6 341.0L198.6 338.6L198.7 343.2L198.8 326.8L198.8 340.7L198.9 333.8L199.0 342.5L199.0 362.1L199.1 325.4L199.1 353.5L199.2 328.7L199.3 332.2L199.3 365.9L199.4 351.4L199.5 344.3L199.5 349.3L199.6 355.9L199.6 327.8L199.7 340.3L199.8 332.6L199.8 343.0L199.9 333.6L200.0 348.1L200.0 337.4L200.1 330.0L200.1 336.6L200.2 343.4L200.3 354.0L200.3 335.2L200.4 333.1L200.5 340.5L200.5 348.4L200.6 330.6L200.6 295.4L200.7 341.1L200.8 333.2L200.8 332.7L200.9 383.8L201.0 335.7L201.0 347.3L201.1 317.4L201.1 340.4L201.2 348.5L201.3 339.9L201.3 335.2L201.4 344.9L201.5 337.7L201.5 359.3L201.6 340.0L201.6 327.3L201.7 305.9L201.8 328.3L201.8 334.0L201.9 320.9L202.0 323.6L202.0 312.1L202.1 322.6L202.1 338.6L202.2 334.1L202.3 335.1L202.3 333.6L202.4 334.8L202.5 348.5L202.5 376.2L202.6 346.7L202.6 374.5L202.7 336.3L202.8 337.0L202.8 366.3L202.9 328.5L203.0 325.9L203.0 336.0L203.1 312.0L203.1 307.9L203.2 356.3L203.3 323.3L203.3 331.8L203.4 332.1L203.5 324.9L203.5 347.5L203.6 345.4L203.6 349.3L203.7 348.1L203.8 338.3L203.8 361.3L203.9 353.2L204.0 330.0L204.0 337.9L204.1 332.6L204.1 371.3L204.2 348.5L204.3 344.8L204.3 336.7L204.4 345.3L204.5 324.9L204.5 337.8L204.6 336.8L204.6 336.9L204.7 328.2L204.8 343.5L204.8 321.8L204.9 331.6L205.0 335.3L205.0 336.6L205.1 330.8L205.1 323.6L205.2 324.7L205.3 332.6L205.3 325.7L205.4 335.7L205.5 319.6L205.5 337.3L205.6 375.5L205.6 318.1L205.7 335.8L205.8 355.6L205.8 339.6L205.9 350.2L206.0 302.9L206.0 331.1L206.1 363.8L206.1 330.4L206.2 342.4L206.3 306.9L206.3 353.3L206.4 379.0L206.5 336.3L206.5 341.7L206.6 342.7L206.6 376.9L206.7 332.0L206.8 311.9L206.8 371.7L206.9 321.0L207.0 345.0L207.0 297.7L207.1 331.8L207.1 339.4L207.2 322.1L207.3 330.7L207.3 345.3L207.4 328.1L207.5 344.1L207.5 368.8L207.6 304.4L207.6 341.7L207.7 345.6L207.8 333.0L207.8 363.6L207.9 359.2L208.0 343.9L208.0 344.2L208.1 336.2L208.1 321.8L208.2 343.5L208.3 331.1L208.3 329.6L208.4 353.8L208.5 334.4L208.5 351.2L208.6 322.7L208.6 331.6L208.7 336.8L208.8 358.9L208.8 335.7L208.9 348.2L209.0 328.2L209.0 338.5L209.1 348.9L209.1 324.9L209.2 327.9L209.3 345.3L209.3 321.1L209.4 340.9L209.5 341.0L209.5 335.6L209.6 347.9L209.6 343.0L209.7 339.0L209.8 314.5L209.8 315.1L209.9 340.3L210.0 313.0L210.0 337.5L210.1 332.5L210.1 325.5L210.2 333.6L210.3 296.4L210.3 334.2L210.4 356.0L210.5 318.6L210.5 342.5L210.6 341.0L210.6 386.6L210.7 323.7L210.8 326.5L210.8 326.8L210.9 324.0L211.0 311.4L211.0 337.5L211.1 324.7L211.1 347.7L211.2 341.6L211.3 322.8L211.3 332.3L211.4 358.7L211.5 332.7L211.5 339.3L211.6 349.0L211.6 331.8L211.7 342.4L211.8 363.7L211.8 354.3L211.9 309.8L212.0 362.5L212.0 334.4L212.1 329.4L212.1 329.0L212.2 356.5L212.3 341.2L212.3 335.3L212.4 326.7L212.5 346.1L212.5 355.3L212.6 323.6L212.6 322.0L212.7 332.6L212.8 345.5L212.8 332.1L212.9 335.7L213.0 326.2L213.0 357.0L213.1 335.6L213.1 338.9L213.2 354.2L213.3 334.4L213.3 336.5L213.4 342.4L213.5 332.2L213.5 360.4L213.6 337.5L213.6 331.8L213.7 333.6L213.8 322.4L213.8 356.0L213.9 362.3L214.0 334.1L214.0 331.5L214.1 302.4L214.1 329.3L214.2 349.9L214.3 326.6L214.3 349.4L214.4 361.8L214.5 293.1L214.5 333.1L214.6 327.9L214.6 330.0L214.7 308.9L214.8 333.6L214.8 320.1L214.9 352.6L215.0 359.8L215.0 316.4L215.1 315.5L215.1 330.7L215.2 334.3L215.3 335.0L215.3 346.7L215.4 314.3L215.5 328.7L215.5 330.8L215.6 332.4L215.6 322.8L215.7 330.8L215.8 327.5L215.8 355.3L215.9 330.7L216.0 300.9L216.0 344.0L216.1 338.4L216.1 325.3L216.2 324.3L216.3 329.1L216.3 364.7L216.4 330.8L216.5 355.6L216.5 349.0L216.6 330.2L216.6 340.7L216.7 326.5L216.8 287.8L216.8 327.0L216.9 327.8L217.0 350.2L217.0 345.9L217.1 353.3L217.1 344.2L217.2 353.8L217.3 346.2L217.3 339.5L217.4 352.1L217.5 360.4L217.5 359.1L217.6 331.4L217.6 336.1L217.7 323.2L217.8 322.9L217.8 341.3L217.9 328.5L218.0 360.8L218.0 298.8L218.1 320.4L218.1 339.6L218.2 355.2L218.3 332.3L218.3 370.5L218.4 348.2L218.5 327.4L218.5 335.9L218.6 343.5L218.6 324.3L218.7 352.8L218.8 333.5L218.8 343.6L218.9 349.3L219.0 331.2L219.0 351.9L219.1 307.0L219.1 345.0L219.2 305.1L219.3 353.8L219.3 329.3L219.4 355.8L219.5 358.7L219.5 334.9L219.6 328.3L219.6 357.3L219.7 320.5L219.8 348.5L219.8 335.3L219.9 332.3L220.0 329.5L220.0 368.8L220.1 312.7L220.1 329.9L220.2 342.5L220.3 352.5L220.3 366.4L220.4 359.1L220.5 330.1L220.5 341.3L220.6 354.5L220.6 344.0L220.7 313.7L220.8 341.1L220.8 344.9L220.9 317.6L221.0 331.2L221.0 336.2L221.1 345.3L221.1 363.2L221.2 355.2L221.3 343.3L221.3 339.6L221.4 332.6L221.5 330.0L221.5 334.2L221.6 334.2L221.6 352.1L221.7 376.9L221.8 343.9L221.8 351.2L221.9 346.0L222.0 340.3L222.0 356.7L222.1 354.1L222.1 338.0L222.2 335.4L222.3 346.1L222.3 330.7L222.4 339.6L222.5 352.4L222.5 336.2L222.6 307.3L222.6 346.4L222.7 320.8L222.8 317.1L222.8 314.9L222.9 348.9L223.0 304.5L223.0 335.4L223.1 340.0L223.1 339.7L223.2 329.4L223.3 336.1L223.3 339.0L223.4 318.8L223.5 347.2L223.5 352.8L223.6 326.7L223.6 328.0L223.7 322.0L223.8 353.4L223.8 322.2L223.9 331.0L224.0 309.8L224.0 356.8L224.1 334.3L224.1 340.4L224.2 364.0L224.3 347.1L224.3 321.5L224.4 343.2L224.5 347.2L224.5 325.6L224.6 323.7L224.6 323.8L224.7 348.3L224.8 337.5L224.8 323.1L224.9 346.1L225.0 347.7L225.0 326.2L225.1 313.8L225.1 354.9L225.2 383.7L225.3 361.0L225.3 352.3L225.4 338.5L225.5 329.2L225.5 338.7L225.6 346.9L225.6 335.1L225.7 351.4L225.8 337.4L225.8 345.9L225.9 292.0L226.0 326.4L226.0 349.2L226.1 352.0L226.1 342.8L226.2 365.3L226.3 347.4L226.3 347.5L226.4 325.4L226.5 342.6L226.5 348.4L226.6 358.7L226.6 355.5L226.7 337.6L226.8 339.6L226.8 321.4L226.9 345.7L227.0 322.7L227.0 333.9L227.1 336.9L227.1 373.8L227.2 357.7L227.3 327.5L227.3 316.9L227.4 334.5L227.5 327.2L227.5 342.4L227.6 341.8L227.6 346.3L227.7 324.0L227.8 332.9L227.8 339.9L227.9 341.2L228.0 330.1L228.0 333.1L228.1 349.2L228.1 310.9L228.2 333.9L228.3 336.7L228.3 315.5L228.4 323.3L228.5 338.0L228.5 330.4L228.6 353.5L228.6 346.0L228.7 379.1L228.8 320.0L228.8 371.3L228.9 328.4L229.0 349.2L229.0 351.8L229.1 339.4L229.1 333.8L229.2 329.4L229.3 309.8L229.3 332.7L229.4 325.5L229.5 345.3L229.5 328.0L229.6 335.2L229.6 343.2L229.7 338.1L229.8 337.7L229.8 334.7L229.9 332.2L230.0 343.9L230.0 347.7L230.1 327.5L230.1 366.6L230.2 345.7L230.3 314.1L230.3 384.9L230.4 346.9L230.5 328.4L230.5 365.5L230.6 293.3L230.6 383.8L230.7 316.3L230.8 314.0L230.8 325.0L230.9 339.8L231.0 332.8L231.0 350.4L231.1 326.6L231.1 354.5L231.2 340.5L231.3 323.8L231.3 354.4L231.4 341.8L231.5 335.1L231.5 358.9L231.6 321.1L231.6 333.0L231.7 362.6L231.8 337.5L231.8 348.3L231.9 346.3L232.0 336.1L232.0 347.2L232.1 324.3L232.1 347.1L232.2 324.0L232.3 337.5L232.3 326.0L232.4 344.5L232.5 344.0L232.5 355.1L232.6 329.9L232.6 324.7L232.7 302.5L232.8 318.9L232.8 334.1L232.9 339.7L233.0 332.4L233.0 337.3L233.1 315.8L233.1 324.6L233.2 349.4L233.3 346.9L233.3 317.6L233.4 333.4L233.5 340.0L233.5 320.7L233.6 342.2L233.6 340.7L233.7 343.3L233.8 372.9L233.8 325.9L233.9 356.3L234.0 345.0L234.0 347.8L234.1 327.9L234.1 337.9L234.2 336.8L234.3 366.3L234.3 338.1L234.4 361.8L234.5 333.5L234.5 332.7L234.6 337.2L234.6 304.2L234.7 330.7L234.8 329.8L234.8 335.4L234.9 339.5L235.0 324.4L235.0 322.2L235.1 358.2L235.1 323.0L235.2 330.9L235.3 324.4L235.3 331.5L235.4 357.0L235.5 355.6L235.5 308.9L235.6 334.2L235.6 360.6L235.7 333.0L235.8 341.9L235.8 370.2L235.9 379.8L236.0 364.6L236.0 333.9L236.1 337.6L236.1 340.3L236.2 333.8L236.3 329.7L236.3 376.1L236.4 341.1L236.5 349.3L236.5 356.8L236.6 344.7L236.6 338.6L236.7 340.6L236.8 361.4L236.8 343.7L236.9 304.8L237.0 353.4L237.0 366.6L237.1 333.9L237.1 329.8L237.2 331.6L237.3 354.6L237.3 323.9L237.4 348.6L237.5 354.9L237.5 345.7L237.6 338.5L237.6 328.2L237.7 329.4L237.8 337.4L237.8 324.9L237.9 336.2L238.0 325.5L238.0 360.4L238.1 364.0L238.1 327.3L238.2 360.1L238.3 341.1L238.3 338.4L238.4 343.8L238.5 343.3L238.5 317.3L238.6 383.4L238.6 325.7L238.7 299.0L238.8 336.9L238.8 337.4L238.9 328.0L239.0 308.9L239.0 356.0L239.1 336.2L239.1 339.5L239.2 330.4L239.3 335.4L239.3 329.0L239.4 342.9L239.5 336.6L239.5 346.7L239.6 346.7L239.7 339.0L239.7 339.0L239.8 355.7L239.8 314.0L239.9 338.9L240.0 360.0L240.0 322.3L240.1 348.0L240.2 331.1L240.2 337.4L240.3 334.3L240.3 335.2L240.4 345.2L240.5 336.7L240.5 304.6L240.6 378.9L240.7 336.4L240.7 332.0L240.8 353.5L240.8 359.7L240.9 301.9L241.0 342.2L241.0 303.6L241.1 330.7L241.2 336.3L241.2 331.5L241.3 329.4L241.3 321.1L241.4 332.0L241.5 335.6L241.5 335.2L241.6 318.1L241.7 326.8L241.7 352.5L241.8 346.2L241.8 333.4L241.9 346.0L242.0 342.3L242.0 351.7L242.1 340.7L242.2 332.2L242.2 324.1L242.3 337.1L242.3 303.7L242.4 338.2L242.5 288.0L242.5 324.0L242.6 331.3L242.7 344.1L242.7 386.0L242.8 339.2L242.8 335.2L242.9 307.0L243.0 360.0L243.0 307.4L243.1 340.5L243.2 328.2L243.2 383.6L243.3 335.7L243.3 341.8L243.4 328.8L243.5 336.2L243.5 355.2L243.6 324.9L243.7 328.6L243.7 330.0L243.8 323.9L243.8 322.4L243.9 337.5L244.0 359.6L244.0 360.1L244.1 318.2L244.2 328.4L244.2 336.1L244.3 343.2L244.3 336.9L244.4 337.0L244.5 341.8L244.5 347.3L244.6 301.8L244.7 334.7L244.7 345.8L244.8 358.4L244.8 347.8L244.9 328.3L245.0 327.7L245.0 340.1L245.1 336.7L245.2 341.3L245.2 354.6L245.3 319.1L245.3 332.9L245.4 295.7L245.5 348.3L245.5 339.1L245.6 325.9L245.7 340.5L245.7 360.2L245.8 351.7L245.8 336.2L245.9 333.3L246.0 338.5L246.0 324.1L246.1 324.2L246.2 333.6L246.2 337.0L246.3 340.6L246.3 330.7L246.4 325.4L246.5 336.7L246.5 332.0L246.6 341.7L246.7 360.7L246.7 352.7L246.8 327.7L246.8 332.0L246.9 313.8L247.0 336.7L247.0 326.2L247.1 318.7L247.2 324.2L247.2 346.0L247.3 339.7L247.3 335.9L247.4 352.4L247.5 331.7L247.5 323.8L247.6 344.0L247.7 306.1L247.7 341.2L247.8 340.0L247.8 340.5L247.9 347.6L248.0 332.4L248.0 337.1L248.1 312.5L248.2 329.9L248.2 330.9L248.3 340.3L248.3 360.8L248.4 338.5L248.5 350.0L248.5 324.9L248.6 337.8L248.7 312.4L248.7 328.2L248.8 326.7L248.8 334.8L248.9 335.0L249.0 329.3L249.0 325.4L249.1 347.7L249.2 331.5L249.2 293.5L249.3 338.5L249.3 340.8L249.4 347.4L249.5 361.6L249.5 321.1L249.6 336.7L249.7 334.0L249.7 308.8L249.8 295.3L249.8 350.7L249.9 323.3L250.0 329.8L250.0 332.7L250.1 331.7L250.2 337.7L250.2 313.9L250.3 329.9L250.3 333.4L250.4 320.1L250.5 325.8L250.5 331.9L250.6 333.6L250.7 310.6L250.7 331.3L250.8 338.5L250.8 350.1L250.9 342.0L251.0 353.6L251.0 336.2L251.1 334.5L251.2 375.3L251.2 337.2L251.3 329.4L251.3 335.6L251.4 351.9L251.5 319.8L251.5 347.4L251.6 357.1L251.7 354.2L251.7 337.6L251.8 324.5L251.8 321.5L251.9 335.1L252.0 356.4L252.0 346.8L252.1 350.9L252.2 339.8L252.2 368.9L252.3 336.2L252.3 329.5L252.4 339.4L252.5 332.0L252.5 351.7L252.6 361.8L252.7 346.5L252.7 321.7L252.8 323.8L252.8 343.7L252.9 320.9L253.0 341.8L253.0 315.4L253.1 331.7L253.2 343.7L253.2 327.4L253.3 348.8L253.3 351.6L253.4 361.8L253.5 334.6L253.5 338.2L253.6 338.5L253.7 343.1L253.7 316.8L253.8 343.3L253.8 348.0L253.9 320.3L254.0 317.2L254.0 333.6L254.1 368.2L254.2 346.0L254.2 330.0L254.3 337.3L254.3 314.7L254.4 360.0L254.5 329.1L254.5 346.4L254.6 318.9L254.7 338.5L254.7 323.8L254.8 346.8L254.8 360.9L254.9 354.9L255.0 346.1L255.0 353.3L255.1 321.1L255.2 318.7L255.2 334.4L255.3 353.5L255.3 339.1L255.4 347.4L255.5 316.6L255.5 333.9L255.6 331.7L255.7 343.0L255.7 374.6L255.8 348.8L255.8 355.1L255.9 333.3L256.0 336.5L256.0 349.4L256.1 342.8L256.2 314.5L256.2 352.2L256.3 351.4L256.3 340.6L256.4 347.7L256.5 343.4L256.5 331.2L256.6 311.3L256.7 369.2L256.7 337.8L256.8 337.1L256.8 338.7L256.9 340.0L257.0 342.2L257.0 324.3L257.1 344.0L257.2 339.2L257.2 337.6L257.3 336.4L257.3 339.8L257.4 324.4L257.5 337.7L257.5 335.7L257.6 338.3L257.7 353.0L257.7 349.9L257.8 353.9L257.8 335.5L257.9 347.9L258.0 354.1L258.0 334.9L258.1 331.3L258.2 368.8L258.2 312.2L258.3 337.3L258.3 339.0L258.4 323.4L258.5 336.9L258.5 346.2L258.6 301.6L258.7 354.3L258.7 338.9L258.8 326.8L258.8 354.3L258.9 338.9L259.0 333.1L259.0 297.4L259.1 351.0L259.2 338.2L259.2 329.5L259.3 336.8L259.3 356.8L259.4 332.9L259.5 336.5L259.5 332.4L259.6 322.3L259.7 324.3L259.7 332.9L259.8 334.1L259.8 354.8L259.9 339.4L260.0 335.2L260.0 343.1L260.1 336.6L260.2 349.9L260.2 315.2L260.3 302.5L260.3 343.0L260.4 333.0L260.5 340.8L260.5 320.1L260.6 332.6L260.7 336.8L260.7 340.6L260.8 336.3L260.8 353.0L260.9 329.3L261.0 348.0L261.0 331.3L261.1 336.3L261.2 323.0L261.2 337.9L261.3 324.2L261.3 351.6L261.4 330.3L261.5 340.7L261.5 335.5L261.6 336.9L261.7 325.5L261.7 375.0L261.8 334.0L261.8 362.9L261.9 321.2L262.0 373.9L262.0 353.1L262.1 366.9L262.2 313.3L262.2 358.6L262.3 336.5L262.3 345.2L262.4 369.9L262.5 342.3L262.5 329.6L262.6 340.2L262.7 325.5L262.7 342.6L262.8 337.7L262.8 343.0L262.9 333.8L263.0 308.1L263.0 333.6L263.1 335.6L263.2 346.6L263.2 348.8L263.3 316.6L263.3 355.2L263.4 351.5L263.5 339.0L263.5 343.6L263.6 306.9L263.7 381.8L263.7 333.6L263.8 328.9L263.8 355.4L263.9 347.0L264.0 332.7L264.0 313.5L264.1 351.7L264.2 364.9L264.2 325.0L264.3 315.6L264.3 342.3L264.4 379.2L264.5 316.9L264.5 340.4L264.6 322.6L264.7 338.4L264.7 342.9L264.8 344.0L264.8 316.5L264.9 317.2L265.0 377.7L265.0 352.0L265.1 310.6L265.2 342.8L265.2 360.2L265.3 337.8L265.3 339.2L265.4 339.1L265.5 344.5L265.5 342.0L265.6 344.1L265.7 334.0L265.7 349.9L265.8 341.7L265.8 339.7L265.9 319.6L266.0 333.5L266.0 339.3L266.1 331.4L266.2 333.1L266.2 323.3L266.3 331.8L266.3 310.3L266.4 318.9L266.5 338.4L266.5 343.5L266.6 326.5L266.7 331.7L266.7 339.1L266.8 362.7L266.8 370.8L266.9 333.9L267.0 328.2L267.0 327.7L267.1 358.8L267.2 324.1L267.2 345.4L267.3 333.4L267.3 333.0L267.4 349.7L267.5 346.3L267.5 376.4L267.6 351.7L267.7 370.1L267.7 332.8L267.8 337.3L267.8 326.1L267.9 333.8L268.0 347.0L268.0 333.9L268.1 343.2L268.2 330.5L268.2 334.3L268.3 353.1L268.3 337.9L268.4 337.3L268.5 342.1L268.5 326.4L268.6 312.0L268.7 342.9L268.7 342.7L268.8 379.9L268.8 339.6L268.9 343.9L269.0 378.3L269.0 334.7L269.1 330.8L269.2 348.6L269.2 343.0L269.3 352.7L269.3 328.4L269.4 363.7L269.5 342.2L269.5 307.2L269.6 337.4L269.7 332.4L269.7 339.9L269.8 356.6L269.8 338.4L269.9 333.2L270.0 353.7L270.0 334.1L270.1 320.8L270.2 323.7L270.2 365.1L270.3 352.9L270.3 365.8L270.4 323.7L270.5 330.6L270.5 329.3L270.6 351.2L270.7 356.5L270.7 337.2L270.8 336.9L270.8 350.7L270.9 336.5L271.0 330.1L271.0 335.5L271.1 354.1L271.2 377.3L271.2 341.5L271.3 336.2L271.3 341.5L271.4 343.9L271.5 348.0L271.5 329.1L271.6 338.7L271.7 336.7L271.7 352.9L271.8 346.9L271.8 336.2L271.9 353.5L272.0 358.4L272.0 342.5L272.1 321.6L272.2 335.9L272.2 317.0L272.3 339.8L272.3 342.2L272.4 361.1L272.5 346.2L272.5 317.5L272.6 334.3L272.7 328.9L272.7 329.3L272.8 338.2L272.8 340.8L272.9 336.8L273.0 329.8L273.0 332.7L273.1 332.2L273.2 336.4L273.2 349.4L273.3 341.6L273.3 352.4L273.4 324.8L273.5 377.2L273.5 341.0L273.6 298.2L273.7 342.7L273.7 356.0L273.8 338.4L273.8 320.1L273.9 340.2L274.0 330.6L274.0 337.0L274.1 343.2L274.2 289.2L274.2 337.4L274.3 345.6L274.3 344.9L274.4 333.7L274.5 333.4L274.5 328.4L274.6 336.6L274.7 362.0L274.7 331.8L274.8 342.3L274.8 342.0L274.9 363.1L275.0 346.2L275.0 348.7L275.1 338.6L275.2 362.5L275.2 337.6L275.3 336.8L275.3 355.7L275.4 347.1L275.5 351.0L275.5 326.4L275.6 384.4L275.7 342.8L275.7 367.1L275.8 344.1L275.8 327.4L275.9 347.2L276.0 336.7L276.0 350.7L276.1 307.6L276.2 326.4L276.2 323.0L276.3 359.9L276.3 355.4L276.4 323.7L276.5 340.7L276.5 341.6L276.6 334.4L276.7 358.4L276.7 328.5L276.8 338.0L276.8 332.5L276.9 347.8L277.0 332.1L277.0 348.4L277.1 325.8L277.2 322.9L277.2 326.4L277.3 332.1L277.3 330.5L277.4 386.2L277.5 327.6L277.5 341.9L277.6 337.2L277.7 342.0L277.7 361.3L277.8 345.8L277.8 330.1L277.9 318.0L278.0 347.1L278.0 351.9L278.1 317.4L278.2 351.5L278.2 304.8L278.3 337.7L278.3 351.5L278.4 325.3L278.5 312.8L278.5 362.2L278.6 315.4L278.7 342.0L278.7 316.7L278.8 343.4L278.8 365.3L278.9 332.3L279.0 326.2L279.0 304.3L279.1 312.2L279.2 329.7L279.2 341.4L279.3 345.6L279.3 342.2L279.4 350.6L279.5 341.9L279.5 384.7L279.6 336.3L279.7 338.7L279.7 295.3L279.8 328.8L279.8 345.0L279.9 331.5L280.0 358.0L280.0 346.9L280.1 372.1L280.2 317.7L280.2 331.1L280.3 357.0L280.3 339.1L280.4 325.9L280.5 332.4L280.5 333.9L280.6 351.1L280.7 347.4L280.7 337.3L280.8 326.4L280.8 350.6L280.9 356.0L281.0 322.8L281.0 352.4L281.1 323.9L281.2 335.6L281.2 327.0L281.3 311.8L281.3 329.8L281.4 328.6L281.5 352.2L281.5 348.4L281.6 330.5L281.7 315.9L281.7 318.6L281.8 299.8L281.8 334.8L281.9 336.1L282.0 325.1L282.0 338.2L282.1 339.2L282.2 354.6L282.2 325.3L282.3 355.1L282.3 332.3L282.4 362.0L282.5 323.7L282.5 354.3L282.6 327.6L282.7 365.7L282.7 344.4L282.8 322.3L282.8 350.3L282.9 337.7L283.0 345.0L283.0 381.5L283.1 334.9L283.2 333.3L283.2 355.8L283.3 331.5L283.3 350.1L283.4 353.8L283.5 338.4L283.5 348.2L283.6 300.3L283.7 365.0L283.7 329.2L283.8 325.4L283.8 374.8L283.9 369.0L284.0 331.7L284.0 345.1L284.1 334.0L284.2 323.0L284.2 343.5L284.3 355.0L284.3 386.6L284.4 336.2L284.5 352.5L284.5 334.9L284.6 335.9L284.7 361.3L284.7 312.4L284.8 324.0L284.8 327.6L284.9 357.3L285.0 344.0L285.0 346.1L285.1 344.1L285.2 356.1L285.2 333.4L285.3 335.9L285.3 334.3L285.4 345.5L285.5 320.5L285.5 336.4L285.6 386.7L285.7 347.6L285.7 339.2L285.8 325.9L285.8 342.5L285.9 341.8L286.0 348.0L286.0 330.3L286.1 344.7L286.2 347.1L286.2 349.3L286.3 331.8L286.3 346.0L286.4 367.8L286.5 330.9L286.5 348.7L286.6 334.4L286.7 334.2L286.7 322.0L286.8 324.6L286.8 346.6L286.9 340.7L287.0 359.5L287.0 313.4L287.1 333.4L287.2 318.7L287.2 342.8L287.3 376.5L287.3 316.2L287.4 337.5L287.5 337.1L287.5 338.0L287.6 330.7L287.7 332.2L287.7 365.9L287.8 324.0L287.8 346.0L287.9 345.0L288.0 312.4L288.0 326.6L288.1 343.1L288.2 372.1L288.2 336.8L288.3 332.1L288.3 339.6L288.4 358.6L288.5 350.2L288.5 358.8L288.6 336.2L288.7 328.2L288.7 325.0L288.8 349.3L288.8 336.0L288.9 331.9L289.0 345.7L289.0 340.5L289.1 304.1L289.2 336.3L289.2 327.2L289.3 344.6L289.3 338.2L289.4 368.7L289.5 338.9L289.5 322.3L289.6 304.6L289.7 322.2L289.7 330.1L289.8 338.0L289.8 347.1L289.9 340.7L290.0 331.1L290.0 350.1L290.1 326.5L290.2 353.6L290.2 370.3L290.3 354.2L290.3 367.6L290.4 361.2L290.5 323.3L290.5 341.2L290.6 336.2L290.7 322.9L290.7 321.1L290.8 345.6L290.8 319.9L290.9 334.1L291.0 338.6L291.0 333.4L291.1 362.3L291.2 350.2L291.2 340.0L291.3 331.2L291.3 343.6L291.4 340.3L291.5 325.9L291.5 318.4L291.6 329.0L291.7 321.0L291.7 344.1L291.8 342.7L291.8 335.0L291.9 342.6L292.0 345.7L292.0 313.9L292.1 341.2L292.2 353.3L292.2 332.8L292.3 310.2L292.3 337.7L292.4 321.6L292.5 344.6L292.5 345.4L292.6 348.6L292.7 340.5L292.7 310.2L292.8 356.9L292.8 314.2L292.9 354.1L293.0 341.7L293.0 327.9L293.1 330.9L293.2 335.4L293.2 367.2L293.3 334.4L293.3 354.3L293.4 295.5L293.5 341.4L293.5 336.5L293.6 356.7L293.7 345.2L293.7 359.6L293.8 325.7L293.8 342.1L293.9 331.8L294.0 348.5L294.0 345.6L294.1 320.6L294.2 353.4L294.2 370.8L294.3 333.9L294.3 356.6L294.4 344.6L294.5 326.8L294.5 350.7L294.6 327.3L294.7 348.4L294.7 317.0L294.8 320.0L294.8 345.1L294.9 341.4L295.0 350.9L295.0 336.4L295.1 323.0L295.2 362.8L295.2 326.7L295.3 360.2L295.3 351.4L295.4 370.5L295.5 304.5L295.5 338.0L295.6 335.8L295.7 348.3L295.7 324.3L295.8 377.7L295.8 338.3L295.9 302.3L296.0 343.8L296.0 342.8L296.1 336.4L296.2 349.3L296.2 340.2L296.3 330.1L296.3 335.3L296.4 332.0L296.5 336.9L296.5 329.1L296.6 329.8L296.7 314.6L296.7 320.0L296.8 327.6L296.8 347.9L296.9 314.8L297.0 312.7L297.0 327.8L297.1 337.8L297.2 327.0L297.2 303.8L297.3 323.0L297.3 314.9L297.4 306.3L297.5 294.1L297.5 306.1L297.6 305.6L297.7 309.2L297.7 283.4L297.8 288.5L297.8 300.1L297.9 313.9L298.0 305.4L298.0 288.4L298.1 302.0L298.2 281.9L298.2 286.7L298.3 286.1L298.3 280.5L298.4 280.9L298.5 295.7L298.5 287.9L298.6 252.9L298.7 296.4L298.7 285.7L298.8 265.3L298.8 279.1L298.9 286.1L299.0 291.6L299.0 266.5L299.1 258.8L299.2 252.1L299.2 268.3L299.3 254.1L299.3 279.9L299.4 262.8L299.5 272.4L299.5 260.0L299.6 251.0L299.7 245.2L299.7 271.5L299.8 239.5L299.8 261.8L299.9 268.8L300.0 256.2L300.0 274.0L300.1 252.2L300.2 247.7L300.2 253.4L300.3 242.7L300.3 253.4L300.4 248.2L300.5 268.7L300.5 246.1L300.6 258.0L300.7 251.3L300.7 245.6L300.8 240.9L300.8 267.9L300.9 265.7L301.0 245.3L301.0 233.7L301.1 234.5L301.2 225.9L301.2 218.6L301.3 230.1L301.3 236.5L301.4 250.8L301.5 248.7L301.5 240.5L301.6 229.4L301.7 229.2L301.7 231.4L301.8 232.8L301.8 220.9L301.9 226.2L302.0 224.1L302.0 223.2L302.1 234.6L302.2 241.4L302.2 218.1L302.3 218.4L302.3 226.6L302.4 228.6L302.5 184.5L302.5 232.3L302.6 223.3L302.7 215.8L302.7 236.5L302.8 216.2L302.9 188.4L302.9 202.5L303.0 206.4L303.0 206.2L303.1 212.3L303.2 198.9L303.2 214.4L303.3 217.5L303.4 209.2L303.4 196.5L303.5 204.4L303.5 198.6L303.6 242.6L303.7 189.5L303.7 167.7L303.8 186.3L303.9 211.1L303.9 219.1L304.0 202.1L304.0 220.8L304.1 194.7L304.2 212.5L304.2 190.3L304.3 183.0L304.4 239.2L304.4 199.5L304.5 213.6L304.5 225.7L304.6 211.6L304.7 205.2L304.7 186.3L304.8 226.6L304.9 185.4L304.9 166.8L305.0 191.9L305.0 192.4L305.1 199.9L305.2 218.0L305.2 191.5L305.3 193.4L305.4 187.9L305.4 153.5L305.5 187.2L305.5 191.5L305.6 172.0L305.7 218.5L305.7 214.3L305.8 201.3L305.9 205.3L305.9 185.4L306.0 199.4L306.0 166.1L306.1 170.1L306.2 182.9L306.2 199.0L306.3 184.6L306.4 181.2L306.4 209.2L306.5 187.5L306.5 181.9L306.6 188.7L306.7 166.1L306.7 172.4L306.8 202.8L306.9 188.5L306.9 202.3L307.0 181.5L307.0 202.1L307.1 175.5L307.2 183.3L307.2 174.0L307.3 189.9L307.4 211.7L307.4 158.7L307.5 189.8L307.5 166.1L307.6 181.5L307.7 177.8L307.7 156.6L307.8 182.3L307.9 165.0L307.9 210.9L308.0 174.0L308.0 189.3L308.1 187.7L308.2 185.7L308.2 181.2L308.3 159.0L308.4 217.7L308.4 184.6L308.5 195.3L308.5 167.8L308.6 190.5L308.7 178.7L308.7 189.8L308.8 175.4L308.9 169.8L308.9 189.4L309.0 183.3L309.0 206.8L309.1 179.8L309.2 171.7L309.2 191.1L309.3 167.0L309.4 220.6L309.4 215.3L309.5 205.2L309.5 189.3L309.6 182.3L309.7 183.4L309.7 183.1L309.8 172.4L309.9 188.5L309.9 201.8L310.0 201.3L310.0 145.3L310.1 224.8L310.2 183.6L310.2 158.7L310.3 174.8L310.4 193.0L310.4 180.7L310.5 168.7L310.5 162.7L310.6 193.6L310.7 169.9L310.7 176.9L310.8 164.0L310.9 158.6L310.9 184.2L311.0 203.2L311.0 174.3L311.1 150.3L311.2 169.9L311.2 176.1L311.3 136.5L311.4 194.5L311.4 166.0L311.5 186.4L311.5 177.7L311.6 177.1L311.7 154.4L311.7 191.8L311.8 185.1L311.9 204.2L311.9 171.2L312.0 183.6L312.0 171.8L312.1 193.4L312.2 181.7L312.2 161.9L312.3 178.9L312.4 168.2L312.4 169.5L312.5 180.9L312.5 202.0L312.6 162.0L312.7 173.7L312.7 161.7L312.8 211.6L312.9 203.3L312.9 214.3L313.0 188.0L313.0 160.1L313.1 167.4L313.2 175.1L313.2 173.0L313.3 164.1L313.4 178.3L313.4 169.2L313.5 172.5L313.5 214.2L313.6 179.4L313.7 153.6L313.7 179.5L313.8 176.0L313.9 182.6L313.9 180.8L314.0 157.8L314.0 177.6L314.1 189.6L314.2 225.8L314.2 182.1L314.3 209.1L314.4 205.8L314.4 163.2L314.5 164.5L314.5 207.9L314.6 162.3L314.7 168.1L314.7 185.4L314.8 164.1L314.9 201.4L314.9 192.8L315.0 197.4L315.0 191.1L315.1 161.8L315.2 195.3L315.2 191.8L315.3 188.2L315.4 171.5L315.4 178.5L315.5 162.0L315.5 184.1L315.6 194.4L315.7 180.8L315.7 173.5L315.8 187.8L315.9 170.5L315.9 144.2L316.0 182.1L316.0 173.4L316.1 153.6L316.2 183.1L316.2 186.4L316.3 190.8L316.4 168.9L316.4 167.3L316.5 175.9L316.5 173.5L316.6 155.1L316.7 162.0L316.7 196.8L316.8 174.1L316.9 172.7L316.9 164.4L317.0 177.0L317.0 183.2L317.1 180.3L317.2 205.0L317.2 174.4L317.3 182.5L317.4 168.1L317.4 189.7L317.5 180.0L317.5 188.9L317.6 190.5L317.7 164.7L317.7 180.5L317.8 168.4L317.9 191.5L317.9 172.9L318.0 203.1L318.0 180.7L318.1 181.1L318.2 166.5L318.2 171.9L318.3 176.4L318.4 162.6L318.4 171.7L318.5 167.1L318.5 163.7L318.6 174.9L318.7 178.0L318.7 170.0L318.8 179.8L318.9 169.2L318.9 158.2L319.0 162.4L319.0 179.2L319.1 194.7L319.2 174.7L319.2 175.6L319.3 158.2L319.4 179.2L319.4 176.8L319.5 164.2L319.5 180.6L319.6 176.1L319.7 146.8L319.7 151.3L319.8 165.7L319.9 170.6L319.9 188.7L320.0 166.7L320.0 173.2L320.1 171.2L320.2 181.2L320.2 174.1L320.3 176.3L320.4 170.0L320.4 152.4L320.5 169.3L320.5 202.3L320.6 188.6L320.7 200.6L320.7 185.5L320.8 166.6L320.9 168.8L320.9 182.4L321.0 170.6L321.0 185.0L321.1 197.3L321.2 197.0L321.2 186.7L321.3 152.6L321.4 195.7L321.4 155.8L321.5 154.3L321.5 176.4L321.6 174.7L321.7 182.8L321.7 174.4L321.8 165.4L321.9 174.0L321.9 160.2L322.0 157.0L322.0 169.9L322.1 170.1L322.2 175.0L322.2 169.9L322.3 191.6L322.4 169.1L322.4 171.7L322.5 187.1L322.5 137.7L322.6 189.1L322.7 187.3L322.7 170.9L322.8 209.1L322.9 186.0L322.9 199.9L323.0 189.1L323.0 176.1L323.1 170.4L323.2 158.7L323.2 163.6L323.3 157.4L323.4 166.8L323.4 181.0L323.5 158.6L323.5 181.3L323.6 183.3L323.7 151.1L323.7 164.0L323.8 171.9L323.9 164.6L323.9 162.6L324.0 196.9L324.0 175.9L324.1 193.3L324.2 173.2L324.2 184.4L324.3 154.5L324.4 168.1L324.4 186.8L324.5 175.0L324.5 194.1L324.6 174.3L324.7 167.7L324.7 171.6L324.8 209.5L324.9 179.4L324.9 168.3L325.0 171.1L325.0 158.3L325.1 195.7L325.2 168.2L325.2 184.3L325.3 172.6L325.4 169.9L325.4 165.9L325.5 183.2L325.5 172.8L325.6 193.5L325.7 198.3L325.7 167.9L325.8 175.8L325.9 202.8L325.9 187.8L326.0 174.9L326.0 151.3L326.1 160.5L326.2 164.4L326.2 206.5L326.3 176.5L326.4 169.2L326.4 170.3L326.5 170.0L326.5 178.4L326.6 147.4L326.7 153.0L326.7 176.5L326.8 190.2L326.9 141.2L326.9 183.1L327.0 158.2L327.0 144.4L327.1 189.6L327.2 171.8L327.2 180.1L327.3 168.9L327.4 171.5L327.4 143.8L327.5 167.9L327.5 175.6L327.6 159.6L327.7 179.1L327.7 180.5L327.8 137.5L327.9 187.6L327.9 182.3L328.0 175.0L328.0 191.7L328.1 213.8L328.2 161.0L328.2 187.0L328.3 183.2L328.4 180.7L328.4 190.4L328.5 192.1L328.5 173.8L328.6 134.6L328.7 166.1L328.7 166.0L328.8 200.5L328.9 176.1L328.9 194.2L329.0 165.7L329.0 178.8L329.1 175.4L329.2 177.0L329.2 184.0L329.3 200.9L329.4 168.5L329.4 198.1L329.5 194.2L329.5 179.9L329.6 186.0L329.7 172.8L329.7 162.2L329.8 173.0L329.9 173.6L329.9 175.7L330.0 164.7L330.0 208.0L330.1 171.6L330.2 189.8L330.2 195.2L330.3 176.0L330.4 181.3L330.4 168.8L330.5 161.0L330.5 218.0L330.6 177.1L330.7 144.9L330.7 164.7L330.8 155.1L330.9 175.0L330.9 199.2L331.0 193.3L331.0 167.1L331.1 163.4L331.2 186.6L331.2 179.8L331.3 173.2L331.4 205.8L331.4 180.9L331.5 152.1L331.5 140.4L331.6 177.7L331.7 148.0L331.7 183.5L331.8 188.0L331.9 216.3L331.9 163.7L332.0 181.4L332.0 137.4L332.1 172.5L332.2 174.3L332.2 207.1L332.3 154.6L332.4 181.3L332.4 178.6L332.5 215.7L332.5 164.4L332.6 163.4L332.7 184.9L332.7 175.5L332.8 171.9L332.9 163.9L332.9 175.4L333.0 150.6L333.0 179.8L333.1 184.9L333.2 182.9L333.2 221.0L333.3 188.1L333.4 163.3L333.4 173.6L333.5 188.3L333.5 172.6L333.6 211.7L333.7 180.4L333.7 170.4L333.8 168.0L333.9 187.6L333.9 164.9L334.0 148.1L334.0 182.4L334.1 167.5L334.2 201.8L334.2 210.4L334.3 169.4L334.4 176.4L334.4 174.6L334.5 184.8L334.5 180.7L334.6 166.6L334.7 151.3L334.7 179.7L334.8 203.7L334.9 159.4L334.9 169.6L335.0 168.6L335.0 175.0L335.1 139.1L335.2 176.2L335.2 170.9L335.3 208.0L335.4 184.8L335.4 186.5L335.5 177.5L335.5 173.1L335.6 187.4L335.7 151.4L335.7 192.7L335.8 183.1L335.9 174.5L335.9 196.0L336.0 170.3L336.0 169.5L336.1 181.0L336.2 148.1L336.2 176.4L336.3 174.1L336.4 190.9L336.4 204.2L336.5 185.8L336.5 181.4L336.6 183.3L336.7 167.8L336.7 218.5L336.8 194.0L336.9 207.4L336.9 158.9L337.0 184.9L337.0 184.2L337.1 193.4L337.2 166.1L337.2 182.8L337.3 175.0L337.4 211.9L337.4 161.9L337.5 173.0L337.5 171.0L337.6 160.9L337.7 180.0L337.7 179.7L337.8 168.8L337.9 172.7L337.9 180.7L338.0 177.2L338.0 184.2L338.1 168.9L338.2 165.8L338.2 177.7L338.3 149.5L338.4 201.6L338.4 180.6L338.5 152.7L338.5 183.1L338.6 202.9L338.7 158.5L338.7 171.3L338.8 195.3L338.9 168.2L338.9 192.3L339.0 197.9L339.0 179.7L339.1 184.0L339.2 193.6L339.2 182.5L339.3 192.1L339.4 177.2L339.4 178.2L339.5 168.7L339.5 183.7L339.6 197.9L339.7 197.7L339.7 181.0L339.8 156.1L339.9 167.3L339.9 186.5L340.0 165.9L340.0 194.9L340.1 164.9L340.2 182.9L340.2 168.5L340.3 170.5L340.4 181.5L340.4 174.3L340.5 193.3L340.5 179.0L340.6 163.9L340.7 128.6L340.7 169.5L340.8 177.1L340.9 192.5L340.9 164.3L341.0 204.4L341.0 189.1L341.1 174.0L341.2 195.8L341.2 156.3L341.3 163.8L341.4 185.6L341.4 185.5L341.5 197.9L341.5 199.5L341.6 173.1L341.7 170.7L341.7 174.2L341.8 175.2L341.9 185.6L341.9 174.1L342.0 200.9L342.0 178.2L342.1 157.6L342.2 160.2L342.2 184.3L342.3 182.5L342.4 159.3L342.4 151.8L342.5 201.5L342.5 183.8L342.6 175.7L342.7 162.0L342.7 189.9L342.8 170.6L342.9 182.2L342.9 140.1L343.0 173.4L343.0 180.1L343.1 182.7L343.2 164.7L343.2 170.2L343.3 194.1L343.4 176.1L343.4 198.6L343.5 188.8L343.5 197.9L343.6 198.4L343.7 187.8L343.7 192.4L343.8 172.3L343.9 168.7L343.9 181.6L344.0 194.8L344.0 168.6L344.1 212.7L344.2 210.7L344.2 169.7L344.3 170.7L344.4 166.1L344.4 181.3L344.5 197.4L344.5 185.3L344.6 171.9L344.7 189.1L344.7 188.2L344.8 199.9L344.9 195.7L344.9 168.2L345.0 173.5L345.0 195.7L345.1 194.3L345.2 186.2L345.2 172.3L345.3 195.9L345.4 180.9L345.4 215.4L345.5 197.5L345.5 174.0L345.6 167.5L345.7 195.7L345.7 189.4L345.8 169.0L345.9 183.9L345.9 186.0L346.0 172.8L346.0 176.8L346.1 164.3L346.2 169.1L346.2 186.5L346.3 180.4L346.4 179.7L346.4 199.5L346.5 192.7L346.5 166.5L346.6 203.9L346.7 166.2L346.7 175.8L346.8 180.8L346.9 172.7L346.9 173.5L347.0 162.8L347.0 184.2L347.1 181.9L347.2 182.2L347.2 150.7L347.3 167.0L347.4 192.0L347.4 183.3L347.5 188.6L347.5 179.0L347.6 176.8L347.7 142.4L347.7 209.0L347.8 165.8L347.9 174.1L347.9 188.6L348.0 181.1L348.0 185.6L348.1 178.7L348.2 166.2L348.2 202.7L348.3 161.3L348.4 184.0L348.4 158.0L348.5 174.5L348.5 162.7L348.6 172.5L348.7 165.0L348.7 178.7L348.8 190.7L348.9 171.1L348.9 170.6L349.0 146.5L349.0 212.8L349.1 181.8L349.2 165.5L349.2 197.8L349.3 182.2L349.4 146.1L349.4 159.6L349.5 191.5L349.5 159.5L349.6 163.6L349.7 169.8L349.7 175.0L349.8 176.8L349.9 191.4L349.9 186.1L350.0 170.4L350.0 177.9L350.1 151.7L350.2 183.7L350.2 220.4L350.3 183.7L350.4 176.4L350.4 175.1L350.5 178.8L350.5 190.7L350.6 158.4L350.7 188.3L350.7 170.8L350.8 183.1L350.9 197.0L350.9 159.9L351.0 222.1L351.0 191.2L351.1 174.5L351.2 184.1L351.2 170.3L351.3 180.8L351.4 185.4L351.4 145.4L351.5 182.3L351.5 181.6L351.6 195.0L351.7 189.7L351.7 171.8L351.8 172.9L351.9 179.7L351.9 189.0L352.0 171.3L352.0 206.6L352.1 183.9L352.2 182.8L352.2 191.2L352.3 178.0L352.4 188.5L352.4 190.6L352.5 152.8L352.5 170.6L352.6 163.6L352.7 179.2L352.7 167.3L352.8 170.0L352.9 163.4L352.9 141.5L353.0 182.5L353.0 176.8L353.1 180.4L353.2 228.3L353.2 200.6L353.3 179.6L353.4 172.1L353.4 187.2L353.5 164.6L353.5 162.2L353.6 185.0L353.7 159.8L353.7 153.8L353.8 174.3L353.9 193.4L353.9 159.0L354.0 181.8L354.0 184.5L354.1 178.6L354.2 186.7L354.2 165.7L354.3 170.1L354.4 163.3L354.4 172.8L354.5 190.5L354.5 181.8L354.6 168.7L354.7 185.0L354.7 134.3L354.8 182.9L354.9 187.5L354.9 164.5L355.0 170.6L355.0 180.3L355.1 182.8L355.2 175.0L355.2 169.4L355.3 170.5L355.4 183.7L355.4 174.9L355.5 169.3L355.5 170.4L355.6 227.5L355.7 192.1L355.7 190.3L355.8 182.8L355.9 178.0L355.9 168.2L356.0 172.5L356.0 181.5L356.1 179.8L356.2 153.8L356.2 187.9L356.3 176.5L356.4 157.4L356.4 176.0L356.5 213.9L356.5 175.7L356.6 184.8L356.7 181.4L356.7 166.2L356.8 174.5L356.9 183.2L356.9 168.6L357.0 174.9L357.0 178.9L357.1 176.6L357.2 177.1L357.2 184.2L357.3 185.8L357.4 179.7L357.4 193.1L357.5 198.3L357.5 162.1L357.6 182.9L357.7 180.3L357.7 181.6L357.8 179.8L357.9 179.8L357.9 179.3L358.0 190.8L358.0 168.0L358.1 189.1L358.2 166.4L358.2 211.2L358.3 194.9L358.4 167.1L358.4 181.8L358.5 188.8L358.5 175.6L358.6 194.6L358.7 179.2L358.7 217.4L358.8 185.7L358.9 188.5L358.9 173.5L359.0 168.8L359.0 191.5L359.1 156.6L359.2 187.6L359.2 214.1L359.3 220.4L359.4 157.9L359.4 181.0L359.5 188.4L359.5 189.9L359.6 195.4L359.7 161.2L359.7 181.0L359.8 153.2L359.9 182.4L359.9 219.9L360.0 169.3L360.0 184.6L360.1 182.9L360.2 157.4L360.2 183.2L360.3 164.4L360.4 180.1L360.4 190.0L360.5 174.0L360.5 187.8L360.6 163.3L360.7 167.6L360.7 179.3L360.8 172.6L360.9 173.2L360.9 183.4L361.0 168.5L361.0 182.8L361.1 172.5L361.2 193.1L361.2 178.9L361.3 175.1L361.4 190.5L361.4 185.2L361.5 186.8L361.5 170.9L361.6 189.5L361.7 174.8L361.7 158.1L361.8 175.8L361.9 204.8L361.9 178.6L362.0 166.2L362.0 183.4L362.1 165.1L362.2 172.4L362.2 175.0L362.3 183.1L362.4 186.4L362.4 183.0L362.5 179.2L362.5 173.6L362.6 175.0L362.7 183.6L362.7 179.2L362.8 175.4L362.9 204.9L362.9 190.1L363.0 190.5L363.0 182.3L363.1 183.2L363.2 183.0L363.2 191.6L363.3 171.6L363.4 176.7L363.4 205.2L363.5 179.7L363.5 195.7L363.6 154.6L363.7 185.5L363.7 184.7L363.8 178.9L363.9 182.2L363.9 180.5L364.0 157.5L364.0 177.3L364.1 169.2L364.2 164.7L364.2 193.2L364.3 154.8L364.4 171.3L364.4 167.4L364.5 191.4L364.5 169.4L364.6 174.9L364.7 186.6L364.7 142.9L364.8 172.9L364.9 182.7L364.9 177.6L365.0 168.0L365.0 164.6L365.1 172.7L365.2 163.2L365.2 158.8L365.3 197.5L365.4 185.9L365.4 192.6L365.5 178.7L365.5 159.3L365.6 171.7L365.7 194.3L365.7 183.3L365.8 166.2L365.9 186.5L365.9 180.9L366.0 176.3L366.1 208.7L366.1 169.9L366.2 175.8L366.2 172.9L366.3 193.2L366.4 189.9L366.4 187.4L366.5 176.9L366.6 179.0L366.6 178.4L366.7 152.7L366.7 161.7L366.8 189.2L366.9 188.2L366.9 154.2L367.0 183.6L367.1 160.4L367.1 156.4L367.2 186.7L367.2 183.0L367.3 178.9L367.4 191.4L367.4 193.2L367.5 184.7L367.6 168.9L367.6 185.4L367.7 182.2L367.7 185.6L367.8 199.8L367.9 158.5L367.9 219.4L368.0 188.2L368.1 173.0L368.1 200.4L368.2 172.4L368.2 162.6L368.3 191.3L368.4 177.4L368.4 195.4L368.5 173.7L368.6 178.8L368.6 177.4L368.7 160.6L368.7 174.2L368.8 161.0L368.9 172.0L368.9 196.9L369.0 176.8L369.1 173.9L369.1 201.3L369.2 161.2L369.2 179.1L369.3 175.5L369.4 191.9L369.4 179.0L369.5 176.3L369.6 183.8L369.6 178.9L369.7 215.1L369.7 160.7L369.8 195.5L369.9 216.3L369.9 192.9L370.0 191.0L370.1 173.2L370.1 192.2L370.2 176.5L370.2 192.9L370.3 144.3L370.4 173.2L370.4 149.4L370.5 193.7L370.6 171.5L370.6 192.7L370.7 172.6L370.7 171.3L370.8 204.0L370.9 195.7L370.9 196.2L371.0 202.3L371.1 189.2L371.1 192.7L371.2 201.1L371.2 178.5L371.3 173.0L371.4 198.7L371.4 186.6L371.5 179.4L371.6 182.3L371.6 188.6L371.7 169.2L371.7 168.7L371.8 171.0L371.9 181.9L371.9 148.5L372.0 153.4L372.1 184.4L372.1 180.8L372.2 163.3L372.2 190.0L372.3 174.7L372.4 178.8L372.4 188.5L372.5 182.1L372.6 203.3L372.6 186.2L372.7 212.0L372.7 142.4L372.8 157.7L372.9 162.5L372.9 175.7L373.0 166.1L373.1 161.7L373.1 165.8L373.2 167.3L373.2 191.6L373.3 174.1L373.4 185.9L373.4 196.0L373.5 195.3L373.6 174.1L373.6 165.2L373.7 199.3L373.7 153.0L373.8 158.2L373.9 183.7L373.9 184.8L374.0 179.9L374.1 166.2L374.1 183.7L374.2 194.6L374.2 175.0L374.3 213.2L374.4 177.4L374.4 163.4L374.5 175.4L374.6 169.1L374.6 173.0L374.7 169.8L374.7 177.3L374.8 190.0L374.9 181.5L374.9 179.7L375.0 161.6L375.1 155.1L375.1 173.8L375.2 188.7L375.2 188.4L375.3 181.0L375.4 159.3L375.4 174.8L375.5 179.3L375.6 188.8L375.6 167.4L375.7 175.3L375.7 179.2L375.8 177.5L375.9 153.7L375.9 180.5L376.0 153.7L376.1 161.6L376.1 178.0L376.2 167.2L376.2 180.0L376.3 189.6L376.4 181.7L376.4 190.8L376.5 172.3L376.6 178.3L376.6 171.6L376.7 167.9L376.7 226.0L376.8 174.8L376.9 207.1L376.9 176.5L377.0 190.2L377.1 177.2L377.1 159.3L377.2 205.1L377.2 176.1L377.3 179.2L377.4 208.9L377.4 170.3L377.5 177.8L377.6 184.6L377.6 187.7L377.7 130.6L377.7 183.0L377.8 206.9L377.9 190.9L377.9 182.6L378.0 182.9L378.1 179.0L378.1 192.7L378.2 171.5L378.2 184.2L378.3 198.2L378.4 189.0L378.4 182.8L378.5 167.1L378.6 172.1L378.6 182.1L378.7 177.7L378.7 175.4L378.8 145.7L378.9 185.9L378.9 172.3L379.0 168.7L379.1 191.1L379.1 175.6L379.2 175.9L379.2 183.8L379.3 170.8L379.4 164.1L379.4 162.4L379.5 180.0L379.6 175.5L379.6 139.1L379.7 193.5L379.7 175.1L379.8 166.1L379.9 175.9L379.9 169.4L380.0 175.6L380.1 168.0L380.1 159.6L380.2 180.3L380.2 175.3L380.3 178.2L380.4 182.6L380.4 177.7L380.5 193.9L380.6 168.0L380.6 151.7L380.7 151.7L380.7 159.5L380.8 191.0L380.9 155.1L380.9 187.0L381.0 178.0L381.1 148.7L381.1 192.7L381.2 166.3L381.2 174.0L381.3 179.1L381.4 189.4L381.4 172.1L381.5 183.2L381.6 163.0L381.6 160.1L381.7 198.2L381.7 183.7L381.8 181.2L381.9 194.6L381.9 193.4L382.0 176.1L382.1 179.7L382.1 203.6L382.2 184.1L382.2 170.6L382.3 194.9L382.4 190.1L382.4 153.2L382.5 158.1L382.6 202.9L382.6 197.6L382.7 172.4L382.7 194.6L382.8 180.1L382.9 182.8L382.9 169.9L383.0 221.1L383.1 215.4L383.1 195.2L383.2 163.0L383.2 178.7L383.3 204.7L383.4 170.6L383.4 167.6L383.5 179.8L383.6 180.9L383.6 171.3L383.7 159.6L383.7 174.9L383.8 170.0L383.9 177.2L383.9 181.6L384.0 189.7L384.1 173.5L384.1 180.4L384.2 179.6L384.2 164.0L384.3 170.4L384.4 164.9L384.4 201.8L384.5 169.4L384.6 184.4L384.6 187.8L384.7 188.5L384.7 159.1L384.8 165.4L384.9 186.3L384.9 193.4L385.0 176.2L385.1 182.4L385.1 150.7L385.2 199.5L385.2 207.2L385.3 179.5L385.4 176.1L385.4 174.7L385.5 166.3L385.6 141.8L385.6 180.7L385.7 183.5L385.7 205.6L385.8 173.2L385.9 164.7L385.9 179.5L386.0 159.2L386.1 175.7L386.1 153.1L386.2 172.0L386.2 191.8L386.3 184.8L386.4 200.8L386.4 205.1L386.5 172.7L386.6 164.2L386.6 143.9L386.7 176.6L386.7 179.0L386.8 192.6L386.9 162.2L386.9 171.0L387.0 184.0L387.1 166.8L387.1 168.6L387.2 208.0L387.2 165.9L387.3 174.2L387.4 181.0L387.4 181.3L387.5 147.9L387.6 152.1L387.6 146.2L387.7 193.2L387.7 184.8L387.8 163.2L387.9 194.3L387.9 185.8L388.0 206.5L388.1 145.4L388.1 160.5L388.2 169.7L388.2 172.9L388.3 181.1L388.4 180.8L388.4 167.4L388.5 185.6L388.6 157.5L388.6 182.2L388.7 188.2L388.7 156.1L388.8 177.3L388.9 168.2L388.9 181.0L389.0 216.5L389.1 168.2L389.1 196.8L389.2 159.8L389.2 201.0L389.3 207.9L389.4 171.4L389.4 169.8L389.5 174.0L389.6 194.2L389.6 162.9L389.7 199.1L389.7 181.5L389.8 186.6L389.9 180.2L389.9 163.4L390.0 184.1L390.1 167.8L390.1 165.8L390.2 204.3L390.2 193.2L390.3 180.3L390.4 183.4L390.4 171.3L390.5 209.3L390.6 165.4L390.6 165.0L390.7 177.3L390.7 197.4L390.8 175.0L390.9 182.5L390.9 167.7L391.0 176.2L391.1 165.2L391.1 181.0L391.2 152.9L391.2 217.5L391.3 190.4L391.4 168.7L391.4 200.0L391.5 165.1L391.6 194.1L391.6 173.9L391.7 188.6L391.7 181.0L391.8 172.9L391.9 176.4L391.9 180.2L392.0 137.8L392.1 174.9L392.1 189.5L392.2 162.0L392.2 163.7L392.3 156.9L392.4 145.9L392.4 189.0L392.5 159.8L392.6 158.4L392.6 175.0L392.7 172.0L392.7 226.1L392.8 183.0L392.9 145.8L392.9 205.9L393.0 182.4L393.1 171.4L393.1 167.4L393.2 149.1L393.2 205.3L393.3 174.4L393.4 163.0L393.4 195.9L393.5 175.4L393.6 143.7L393.6 155.1L393.7 167.9L393.7 222.4L393.8 176.6L393.9 170.0L393.9 179.0L394.0 175.7L394.1 124.0L394.1 177.7L394.2 189.4L394.2 171.9L394.3 179.1L394.4 179.0L394.4 176.0L394.5 164.3L394.6 171.9L394.6 193.6L394.7 176.6L394.7 168.7L394.8 181.2L394.9 158.1L394.9 164.2L395.0 189.7L395.1 170.8L395.1 141.4L395.2 150.4L395.2 175.5L395.3 162.3L395.4 184.4L395.4 198.4L395.5 167.5L395.6 171.7L395.6 168.1L395.7 175.1L395.7 170.7L395.8 181.8L395.9 168.7L395.9 163.3L396.0 175.5L396.1 163.6L396.1 205.3L396.2 186.1L396.2 152.6L396.3 146.2L396.4 171.6L396.4 176.1L396.5 194.8L396.6 170.1L396.6 164.1L396.7 199.0L396.7 167.4L396.8 168.4L396.9 169.1L396.9 192.1L397.0 167.6L397.1 199.3L397.1 151.6L397.2 173.1L397.2 192.7L397.3 154.4L397.4 157.8L397.4 183.9L397.5 136.4L397.6 189.8L397.6 170.7L397.7 157.3L397.7 216.4L397.8 160.4L397.9 175.5L397.9 174.8L398.0 191.1L398.1 170.5L398.1 191.7L398.2 189.1L398.2 180.7L398.3 193.9L398.4 149.9L398.4 195.8L398.5 185.5L398.6 178.8L398.6 174.6L398.7 163.8L398.7 163.3L398.8 178.6L398.9 179.7L398.9 174.2L399.0 163.3L399.1 165.2L399.1 181.7L399.2 211.7L399.2 137.6L399.3 161.2L399.4 171.3L399.4 170.3L399.5 181.7L399.6 189.6L399.6 179.0L399.7 177.4L399.7 183.3L399.8 198.3L399.9 178.7L399.9 166.9L400.0 181.3L400.1 174.2L400.1 211.9L400.2 177.2L400.2 176.1L400.3 193.7L400.4 204.1L400.4 169.2L400.5 186.2L400.6 168.2L400.6 180.2L400.7 166.2L400.7 179.0L400.8 199.3L400.9 175.5L400.9 178.8L401.0 165.7L401.1 180.6L401.1 179.7L401.2 162.5L401.2 157.4L401.3 164.1L401.4 159.6L401.4 168.6L401.5 163.9L401.6 162.2L401.6 169.3L401.7 173.6L401.7 172.7L401.8 132.0L401.9 174.2L401.9 177.5L402.0 179.3L402.1 174.8L402.1 171.3L402.2 191.8L402.2 209.7L402.3 170.7L402.4 201.3L402.4 171.1L402.5 172.6L402.6 157.5L402.6 147.6L402.7 169.7L402.7 182.0L402.8 192.6L402.9 185.8L402.9 173.8L403.0 211.7L403.1 173.4L403.1 174.5L403.2 165.7L403.2 178.8L403.3 173.1L403.4 184.8L403.4 180.6L403.5 204.9L403.6 172.8L403.6 150.0L403.7 172.3L403.7 169.6L403.8 189.0L403.9 152.3L403.9 185.3L404.0 163.3L404.1 172.9L404.1 188.6L404.2 159.6L404.2 174.0L404.3 172.0L404.4 168.4L404.4 174.5L404.5 179.3L404.6 168.2L404.6 179.7L404.7 173.4L404.7 183.7L404.8 198.7L404.9 183.7L404.9 181.0L405.0 174.0L405.1 156.8L405.1 202.9L405.2 172.6L405.2 214.7L405.3 190.0L405.4 181.1L405.4 215.5L405.5 206.6L405.6 172.3L405.6 173.2L405.7 175.6L405.7 185.8L405.8 136.9L405.9 176.2L405.9 186.8L406.0 147.3L406.1 166.0L406.1 179.1L406.2 156.6L406.2 172.2L406.3 165.5L406.4 171.2L406.4 189.6L406.5 160.4L406.6 172.1L406.6 189.3L406.7 185.1L406.7 160.6L406.8 179.0L406.9 173.5L406.9 165.3L407.0 172.5L407.1 199.3L407.1 165.6L407.2 160.9L407.2 162.0L407.3 148.4L407.4 169.4L407.4 163.4L407.5 149.0L407.6 177.9L407.6 145.9L407.7 146.0L407.7 163.3L407.8 143.7L407.9 162.2L407.9 187.0L408.0 157.4L408.1 169.9L408.1 168.7L408.2 172.1L408.2 153.4L408.3 166.7L408.4 183.9L408.4 167.7L408.5 164.1L408.6 184.3L408.6 179.8L408.7 179.1L408.7 182.4L408.8 169.5L408.9 159.4L408.9 142.5L409.0 156.4L409.1 159.3L409.1 157.3L409.2 153.8L409.2 179.0L409.3 164.6L409.4 169.8L409.4 175.5L409.5 180.1L409.6 180.8L409.6 177.4L409.7 193.3L409.7 167.1L409.8 174.1L409.9 172.6L409.9 169.6L410.0 164.1L410.1 182.1L410.1 175.2L410.2 200.8L410.2 214.5L410.3 208.2L410.4 149.8L410.4 205.6L410.5 167.7L410.6 151.0L410.6 180.0L410.7 147.9L410.7 143.4L410.8 160.5L410.9 132.0L410.9 165.5L411.0 184.2L411.1 167.0L411.1 179.8L411.2 194.4L411.2 193.9L411.3 133.1L411.4 181.2L411.4 174.0L411.5 183.0L411.6 172.0L411.6 176.8L411.7 179.2L411.7 192.5L411.8 196.4L411.9 184.2L411.9 169.9L412.0 137.9L412.1 158.4L412.1 143.5L412.2 167.2L412.2 174.6L412.3 194.5L412.4 173.5L412.4 212.4L412.5 177.4L412.6 147.5L412.6 169.3L412.7 157.0L412.7 178.5L412.8 195.4L412.9 179.9L412.9 178.7L413.0 155.5L413.1 139.9L413.1 183.9L413.2 178.1L413.2 175.2L413.3 178.0L413.4 192.7L413.4 172.2L413.5 168.7L413.6 168.4L413.6 192.0L413.7 174.7L413.7 202.9L413.8 160.4L413.9 188.5L413.9 176.8L414.0 179.3L414.1 181.3L414.1 189.2L414.2 203.4L414.2 145.0L414.3 170.0L414.4 169.9L414.4 136.9L414.5 174.5L414.6 165.9L414.6 172.9L414.7 155.6L414.7 166.6L414.8 169.2L414.9 176.5L414.9 169.6L415.0 155.9L415.1 210.4L415.1 174.8L415.2 178.7L415.2 177.0L415.3 208.0L415.4 163.1L415.4 185.3L415.5 176.0L415.6 179.9L415.6 201.1L415.7 179.1L415.7 204.9L415.8 186.9L415.9 177.2L415.9 173.1L416.0 172.4L416.1 174.8L416.1 135.9L416.2 167.4L416.2 192.0L416.3 181.5L416.4 182.2L416.4 175.3L416.5 181.4L416.6 185.4L416.6 146.5L416.7 172.5L416.7 177.4L416.8 176.3L416.9 175.8L416.9 151.5L417.0 166.7L417.1 156.5L417.1 225.0L417.2 168.8L417.2 157.6L417.3 139.4L417.4 172.6L417.4 201.9L417.5 165.1L417.6 181.2L417.6 203.6L417.7 181.5L417.7 157.6L417.8 155.0L417.9 163.0L417.9 188.6L418.0 128.3L418.1 190.8L418.1 173.8L418.2 196.1L418.2 152.8L418.3 167.1L418.4 160.3L418.4 171.7L418.5 173.7L418.6 170.7L418.6 205.6L418.7 158.5L418.7 159.9L418.8 178.0L418.9 172.9L418.9 169.0L419.0 147.8L419.1 167.2L419.1 172.2L419.2 179.6L419.2 197.1L419.3 180.9L419.4 171.9L419.4 176.0L419.5 171.8L419.6 162.4L419.6 167.0L419.7 169.2L419.7 163.8L419.8 170.4L419.9 173.0L419.9 166.5L420.0 201.8L420.1 153.7L420.1 192.7L420.2 160.9L420.2 172.5L420.3 156.3L420.4 172.2L420.4 186.4L420.5 156.9L420.6 170.3L420.6 171.1L420.7 171.6L420.7 158.1L420.8 161.1L420.9 169.7L420.9 197.8L421.0 177.9L421.1 171.2L421.1 142.7L421.2 167.5L421.2 173.6L421.3 154.6L421.4 173.9L421.4 172.8L421.5 170.5L421.6 196.7L421.6 158.7L421.7 166.9L421.7 176.1L421.8 189.7L421.9 169.8L421.9 150.7L422.0 181.3L422.1 188.3L422.1 167.0L422.2 198.6L422.2 212.6L422.3 178.3L422.4 182.0L422.4 176.0L422.5 179.9L422.6 168.1L422.6 175.2L422.7 180.6L422.7 178.5L422.8 163.8L422.9 158.6L422.9 159.5L423.0 162.8L423.1 225.3L423.1 187.1L423.2 176.4L423.2 169.8L423.3 198.9L423.4 150.1L423.4 168.4L423.5 180.8L423.6 170.3L423.6 176.8L423.7 183.0L423.7 165.6L423.8 178.3L423.9 194.7L423.9 181.0L424.0 173.7L424.1 188.4L424.1 153.1L424.2 188.5L424.2 143.2L424.3 159.5L424.4 185.9L424.4 170.6L424.5 154.5L424.6 174.6L424.6 190.4L424.7 170.8L424.7 138.0L424.8 196.1L424.9 164.7L424.9 172.0L425.0 173.6L425.1 177.2L425.1 176.3L425.2 157.0L425.2 164.1L425.3 186.8L425.4 147.1L425.4 192.2L425.5 163.0L425.6 169.8L425.6 154.0L425.7 167.5L425.7 156.6L425.8 172.4L425.9 158.0L425.9 167.6L426.0 134.2L426.1 181.7L426.1 154.0L426.2 165.9L426.2 169.8L426.3 179.7L426.4 166.1L426.4 195.5L426.5 193.4L426.6 162.1L426.6 197.2L426.7 149.4L426.7 175.5L426.8 168.8L426.9 171.0L426.9 166.4L427.0 175.5L427.1 176.7L427.1 173.5L427.2 156.5L427.2 155.0L427.3 152.4L427.4 167.2L427.4 174.4L427.5 199.7L427.6 163.1L427.6 160.0L427.7 177.2L427.7 160.5L427.8 152.1L427.9 170.7L427.9 156.3L428.0 167.9L428.1 200.8L428.1 178.1L428.2 177.2L428.2 164.8L428.3 184.2L428.4 177.6L428.4 185.8L428.5 172.3L428.6 171.0L428.6 157.7L428.7 160.6L428.7 169.8L428.8 168.8L428.9 170.5L428.9 170.4L429.0 147.0L429.1 217.1L429.1 174.0L429.2 167.8L429.3 154.9L429.3 188.1L429.4 167.3L429.4 159.5L429.5 177.6L429.6 204.6L429.6 176.4L429.7 190.0L429.8 162.9L429.8 183.9L429.9 142.0L429.9 170.0L430.0 183.1L430.1 178.5L430.1 188.0L430.2 166.7L430.3 148.0L430.3 174.4L430.4 158.4L430.4 185.4L430.5 167.8L430.6 130.7L430.6 193.9L430.7 153.0L430.8 154.1L430.8 203.9L430.9 194.4L430.9 185.9L431.0 157.7L431.1 177.3L431.1 173.8L431.2 161.9L431.3 170.2L431.3 168.8L431.4 175.8L431.4 154.9L431.5 182.6L431.6 144.2L431.6 176.0L431.7 182.9L431.8 162.8L431.8 165.7L431.9 206.2L431.9 168.9L432.0 192.7L432.1 183.4L432.1 160.6L432.2 184.0L432.3 167.1L432.3 176.6L432.4 138.6L432.4 172.8L432.5 189.4L432.6 188.2L432.6 184.7L432.7 170.1L432.8 171.7L432.8 157.7L432.9 169.6L432.9 170.1L433.0 167.5L433.1 173.3L433.1 168.0L433.2 160.8L433.3 160.8L433.3 179.1L433.4 201.5L433.4 183.2L433.5 168.1L433.6 217.1L433.6 178.0L433.7 165.8L433.8 179.4L433.8 188.5L433.9 142.7L433.9 150.2L434.0 175.0L434.1 151.4L434.1 151.9L434.2 188.8L434.3 124.7L434.3 185.4L434.4 175.1L434.4 188.2L434.5 170.8L434.6 192.3L434.6 171.8L434.7 155.8L434.8 169.1L434.8 175.1L434.9 147.1L434.9 184.7L435.0 157.8L435.1 175.7L435.1 169.1L435.2 171.4L435.3 170.2L435.3 172.4L435.4 182.9L435.4 179.5L435.5 166.0L435.6 173.1L435.6 189.5L435.7 181.7L435.8 181.5L435.8 172.5L435.9 169.6L435.9 170.7L436.0 180.9L436.1 171.6L436.1 193.5L436.2 222.3L436.3 172.5L436.3 199.4L436.4 185.8L436.4 190.4L436.5 163.4L436.6 190.6L436.6 168.4L436.7 178.5L436.8 191.1L436.8 197.9L436.9 165.9L436.9 167.0L437.0 161.3L437.1 141.6L437.1 168.6L437.2 168.5L437.3 173.6L437.3 170.7L437.4 176.7L437.4 185.1L437.5 138.2L437.6 204.4L437.6 168.9L437.7 166.4L437.8 170.2L437.8 186.4L437.9 174.6L437.9 178.4L438.0 188.4L438.1 172.7L438.1 177.6L438.2 179.8L438.3 163.0L438.3 188.2L438.4 166.5L438.4 180.7L438.5 166.7L438.6 171.4L438.6 169.2L438.7 186.9L438.8 183.4L438.8 184.8L438.9 170.1L438.9 162.1L439.0 156.7L439.1 179.1L439.1 171.2L439.2 199.4L439.3 212.9L439.3 185.0L439.4 181.7L439.4 198.1L439.5 203.0L439.6 165.4L439.6 184.0L439.7 200.9L439.8 131.7L439.8 170.2L439.9 176.6L439.9 163.3L440.0 183.3L440.1 147.5L440.1 197.9L440.2 193.2L440.3 174.2L440.3 183.5L440.4 151.1L440.4 199.4L440.5 182.9L440.6 169.5L440.6 165.1L440.7 158.4L440.8 168.2L440.8 134.6L440.9 179.0L440.9 170.3L441.0 160.8L441.1 176.7L441.1 176.4L441.2 178.9L441.3 181.7L441.3 190.0L441.4 180.3L441.4 198.4L441.5 167.8L441.6 199.4L441.6 137.9L441.7 145.7L441.8 156.8L441.8 175.4L441.9 180.9L441.9 154.8L442.0 170.4L442.1 165.4L442.1 183.0L442.2 157.5L442.3 184.3L442.3 171.3L442.4 202.5L442.4 182.0L442.5 166.2L442.6 178.8L442.6 178.8L442.7 162.0L442.8 173.6L442.8 154.6L442.9 217.2L442.9 165.3L443.0 166.1L443.1 198.5L443.1 193.5L443.2 160.7L443.3 189.1L443.3 181.7L443.4 164.9L443.4 177.1L443.5 166.6L443.6 185.6L443.6 168.9L443.7 157.3L443.8 168.6L443.8 213.0L443.9 164.1L443.9 171.9L444.0 186.2L444.1 151.8L444.1 202.9L444.2 142.2L444.3 181.6L444.3 148.4L444.4 173.2L444.4 194.1L444.5 171.4L444.6 168.5L444.6 165.6L444.7 157.7L444.8 186.0L444.8 166.3L444.9 162.8L444.9 176.2L445.0 186.7L445.1 187.1L445.1 162.6L445.2 161.8L445.3 184.8L445.3 194.3L445.4 154.6L445.4 198.7L445.5 170.6L445.6 184.4L445.6 203.1L445.7 171.0L445.8 175.1L445.8 150.9L445.9 133.5L445.9 175.0L446.0 158.2L446.1 157.9L446.1 179.9L446.2 185.5L446.3 147.6L446.3 177.5L446.4 172.9L446.4 176.4L446.5 174.3L446.6 181.1L446.6 162.6L446.7 154.3L446.8 177.6L446.8 195.0L446.9 171.9L446.9 197.2L447.0 181.6L447.1 154.7L447.1 132.4L447.2 167.8L447.3 188.9L447.3 162.0L447.4 213.9L447.4 182.5L447.5 149.3L447.6 162.6L447.6 195.0L447.7 200.9L447.8 160.9L447.8 173.1L447.9 180.9L447.9 167.3L448.0 180.6L448.1 206.8L448.1 161.6L448.2 181.7L448.3 187.7L448.3 194.0L448.4 169.4L448.4 184.3L448.5 164.3L448.6 176.0L448.6 157.2L448.7 177.7L448.8 181.8L448.8 207.8L448.9 189.5L448.9 162.9L449.0 121.5L449.1 192.4L449.1 188.3L449.2 168.2L449.3 166.3L449.3 182.1L449.4 171.4L449.4 199.6L449.5 176.4L449.6 160.1L449.6 147.0L449.7 174.5L449.8 175.8L449.8 166.6L449.9 156.7L449.9 166.1L450.0 183.3L450.1 167.9L450.1 158.9L450.2 182.6L450.3 193.9L450.3 165.8L450.4 167.7L450.4 158.9L450.5 171.2L450.6 181.5L450.6 178.3L450.7 188.0L450.8 186.6L450.8 180.2L450.9 179.0L450.9 156.4L451.0 191.7L451.1 172.8L451.1 180.6L451.2 149.7L451.3 169.0L451.3 177.3L451.4 161.2L451.4 171.4L451.5 178.8L451.6 148.7L451.6 162.8L451.7 144.8L451.8 155.6L451.8 161.8L451.9 170.5L451.9 188.9L452.0 162.7L452.1 171.2L452.1 163.2L452.2 172.2L452.3 182.0L452.3 187.4L452.4 162.8L452.4 153.1L452.5 175.9L452.6 166.3L452.6 151.4L452.7 184.3L452.8 176.6L452.8 189.4L452.9 155.1L452.9 168.8L453.0 178.4L453.1 200.2L453.1 174.3L453.2 158.1L453.3 175.9L453.3 177.8L453.4 163.6L453.4 191.4L453.5 171.3L453.6 164.2L453.6 183.3L453.7 184.1L453.8 168.9L453.8 173.2L453.9 175.0L453.9 169.4L454.0 169.2L454.1 185.7L454.1 181.4L454.2 166.2L454.3 155.9L454.3 151.8L454.4 184.3L454.4 156.4L454.5 161.7L454.6 172.2L454.6 165.6L454.7 160.6L454.8 143.3L454.8 187.9L454.9 164.0L454.9 173.6L455.0 174.5L455.1 155.4L455.1 160.8L455.2 187.1L455.3 175.5L455.3 169.0L455.4 194.7L455.4 160.0L455.5 172.7L455.6 169.8L455.6 167.6L455.7 142.8L455.8 171.3L455.8 176.5L455.9 144.2L455.9 178.6L456.0 179.0L456.1 194.0L456.1 156.4L456.2 168.4L456.3 165.7L456.3 169.7L456.4 173.4L456.4 183.0L456.5 183.0L456.6 166.3L456.6 170.2L456.7 146.4L456.8 182.6L456.8 178.4L456.9 187.1L456.9 151.2L457.0 191.0L457.1 161.4L457.1 150.1L457.2 173.5L457.3 162.1L457.3 210.2L457.4 176.9L457.4 199.7L457.5 169.7L457.6 171.7L457.6 182.8L457.7 158.8L457.8 167.4L457.8 179.0L457.9 178.8L457.9 195.7L458.0 174.2L458.1 136.2L458.1 181.9L458.2 166.6L458.3 179.4L458.3 161.1L458.4 166.3L458.4 174.9L458.5 202.5L458.6 178.9L458.6 154.6L458.7 175.1L458.8 163.7L458.8 178.4L458.9 204.4L458.9 166.5L459.0 168.0L459.1 180.0L459.1 176.9L459.2 168.4L459.3 180.2L459.3 167.7L459.4 174.6L459.4 215.0L459.5 173.8L459.6 180.3L459.6 184.1L459.7 166.9L459.8 178.7L459.8 165.1L459.9 156.5L459.9 170.3L460.0 197.5L460.1 182.4L460.1 159.5L460.2 175.4L460.3 183.7L460.3 173.2L460.4 165.6L460.4 168.9L460.5 163.6L460.6 184.0L460.6 175.7L460.7 175.4L460.8 172.3L460.8 209.7L460.9 175.2L460.9 193.4L461.0 151.4L461.1 148.2L461.1 145.8L461.2 161.2L461.3 178.7L461.3 158.9L461.4 174.7L461.4 164.2L461.5 185.4L461.6 180.3L461.6 166.3L461.7 143.9L461.8 172.5L461.8 133.5L461.9 124.6L461.9 192.3L462.0 172.5L462.1 186.3L462.1 174.0L462.2 179.5L462.3 173.0L462.3 158.8L462.4 159.3L462.4 169.0L462.5 172.2L462.6 170.8L462.6 170.7L462.7 164.8L462.8 172.2L462.8 165.8L462.9 192.9L462.9 161.6L463.0 144.5L463.1 170.0L463.1 195.0L463.2 152.2L463.3 176.6L463.3 223.0L463.4 175.1L463.4 164.4L463.5 167.5L463.6 154.2L463.6 164.2L463.7 170.8L463.8 207.2L463.8 189.3L463.9 170.2L463.9 163.4L464.0 187.8L464.1 180.9L464.1 166.4L464.2 205.7L464.3 206.6L464.3 175.4L464.4 169.3L464.4 178.9L464.5 214.2L464.6 172.1L464.6 193.4L464.7 163.8L464.8 173.7L464.8 169.2L464.9 164.0L464.9 179.7L465.0 161.3L465.1 154.3L465.1 167.5L465.2 152.8L465.3 181.2L465.3 159.9L465.4 169.2L465.4 187.2L465.5 173.5L465.6 179.8L465.6 180.1L465.7 171.5L465.8 157.5L465.8 176.7L465.9 171.1L465.9 196.4L466.0 171.3L466.1 156.0L466.1 161.6L466.2 166.5L466.3 179.8L466.3 187.1L466.4 173.8L466.4 193.8L466.5 191.8L466.6 159.6L466.6 186.1L466.7 143.8L466.8 195.7L466.8 167.2L466.9 190.7L466.9 170.6L467.0 188.3L467.1 172.2L467.1 174.7L467.2 178.8L467.3 166.2L467.3 149.6L467.4 180.9L467.4 160.6L467.5 171.7L467.6 173.1L467.6 135.3L467.7 212.1L467.8 182.4L467.8 203.9L467.9 176.9L467.9 175.8L468.0 119.7L468.1 168.5L468.1 144.0L468.2 153.7L468.3 178.8L468.3 166.7L468.4 146.6L468.4 170.8L468.5 170.3L468.6 166.4L468.6 197.5L468.7 184.6L468.8 168.7L468.8 165.9L468.9 186.5L468.9 177.2L469.0 174.5L469.1 174.9L469.1 163.8L469.2 171.7L469.3 171.0L469.3 195.8L469.4 188.9L469.4 169.0L469.5 199.5L469.6 169.7L469.6 182.3L469.7 184.8L469.8 164.5L469.8 182.6L469.9 185.6L469.9 182.6L470.0 172.4L470.1 125.6L470.1 211.4L470.2 173.4L470.3 176.3L470.3 159.9L470.4 178.1L470.4 218.4L470.5 153.5L470.6 189.9L470.6 174.0L470.7 195.2L470.8 190.0L470.8 180.1L470.9 161.6L470.9 161.8L471.0 181.7L471.1 166.9L471.1 178.3L471.2 172.0L471.3 171.5L471.3 165.2L471.4 182.0L471.4 175.1L471.5 170.7L471.6 172.3L471.6 185.0L471.7 146.1L471.8 179.7L471.8 163.3L471.9 171.0L471.9 155.7L472.0 213.4L472.1 139.1L472.1 176.3L472.2 192.9L472.3 172.0L472.3 134.6L472.4 167.1L472.4 192.9L472.5 179.9L472.6 153.8L472.6 196.3L472.7 175.9L472.8 177.5L472.8 136.7L472.9 177.5L472.9 154.2L473.0 183.3L473.1 185.3L473.1 159.6L473.2 165.5L473.3 203.3L473.3 165.3L473.4 165.3L473.4 182.3L473.5 171.0L473.6 170.4L473.6 180.4L473.7 181.9L473.8 183.3L473.8 177.3L473.9 195.0L473.9 174.3L474.0 198.4L474.1 172.9L474.1 174.9L474.2 189.5L474.3 162.2L474.3 142.0L474.4 154.2L474.4 195.8L474.5 155.2L474.6 171.2L474.6 174.5L474.7 182.2L474.8 174.0L474.8 153.2L474.9 166.9L474.9 179.5L475.0 183.4L475.1 179.6L475.1 166.3L475.2 143.7L475.3 190.1L475.3 174.0L475.4 179.2L475.4 184.8L475.5 169.0L475.6 166.9L475.6 197.0L475.7 189.7L475.8 156.8L475.8 170.1L475.9 167.3L475.9 180.9L476.0 179.2L476.1 168.2L476.1 180.9L476.2 191.1L476.3 174.1L476.3 161.7L476.4 189.7L476.4 159.2L476.5 164.8L476.6 186.8L476.6 174.0L476.7 174.6L476.8 165.9L476.8 165.4L476.9 194.8L476.9 195.7L477.0 159.8L477.1 172.8L477.1 168.9L477.2 170.0L477.3 150.8L477.3 193.0L477.4 158.8L477.4 186.1L477.5 164.6L477.6 154.4L477.6 196.5L477.7 169.2L477.8 177.9L477.8 178.1L477.9 173.7L477.9 190.2L478.0 188.7L478.1 165.7L478.1 162.9L478.2 182.2L478.3 198.0L478.3 134.4L478.4 158.8L478.4 169.9L478.5 189.9L478.6 182.5L478.6 171.4L478.7 188.7L478.8 149.7L478.8 172.7L478.9 169.5L478.9 189.9L479.0 187.8L479.1 185.8L479.1 171.0L479.2 177.9L479.3 178.2L479.3 170.5L479.4 171.7L479.4 152.1L479.5 177.0L479.6 189.7L479.6 174.6L479.7 152.5L479.8 182.1L479.8 173.9L479.9 179.3L479.9 169.5L480.0 171.4L480.1 186.2L480.1 177.5L480.2 161.7L480.3 159.2L480.3 162.0L480.4 162.9L480.4 179.0L480.5 179.4L480.6 161.9L480.6 192.6L480.7 175.3L480.8 206.7L480.8 179.7L480.9 184.6L480.9 193.3L481.0 167.2L481.1 185.1L481.1 179.5L481.2 178.0L481.3 185.1L481.3 153.6L481.4 181.4L481.4 172.3L481.5 195.2L481.6 181.1L481.6 179.0L481.7 178.8L481.8 182.8L481.8 173.0L481.9 151.1L481.9 176.4L482.0 176.5L482.1 180.0L482.1 130.9L482.2 150.1L482.3 167.7L482.3 165.6L482.4 184.9L482.4 176.8L482.5 172.3L482.6 173.4L482.6 187.3L482.7 186.0L482.8 168.3L482.8 171.1L482.9 212.6L482.9 173.8L483.0 156.6L483.1 183.9L483.1 172.0L483.2 198.4L483.3 163.8L483.3 191.9L483.4 194.4L483.4 179.1L483.5 134.4L483.6 183.5L483.6 194.7L483.7 169.2L483.8 172.2L483.8 149.5L483.9 194.8L483.9 201.3L484.0 179.2L484.1 170.4L484.1 170.7L484.2 159.9L484.3 199.3L484.3 187.0L484.4 176.8L484.4 163.9L484.5 169.2L484.6 180.8L484.6 190.4L484.7 163.3L484.8 162.2L484.8 128.6L484.9 177.5L484.9 150.3L485.0 193.8L485.1 182.7L485.1 184.7L485.2 181.5L485.3 188.0L485.3 182.7L485.4 175.9L485.4 181.3L485.5 166.7L485.6 176.3L485.6 175.3L485.7 153.3L485.8 171.5L485.8 173.5L485.9 175.6L485.9 174.6L486.0 168.0L486.1 186.9L486.1 159.2L486.2 151.5L486.3 159.1L486.3 182.1L486.4 201.6L486.4 181.3L486.5 173.6L486.6 164.4L486.6 177.8L486.7 179.4L486.8 152.6L486.8 184.9L486.9 160.7L486.9 163.3L487.0 196.4L487.1 172.1L487.1 183.2L487.2 189.5L487.3 207.3L487.3 201.2L487.4 170.4L487.4 180.7L487.5 172.3L487.6 191.5L487.6 179.8L487.7 179.2L487.8 200.8L487.8 203.3L487.9 170.2L487.9 173.9L488.0 189.3L488.1 177.0L488.1 167.1L488.2 146.7L488.3 188.6L488.3 167.8L488.4 140.5L488.4 174.9L488.5 153.9L488.6 222.2L488.6 154.2L488.7 175.9L488.8 208.1L488.8 165.5L488.9 161.2L488.9 158.6L489.0 158.7L489.1 176.2L489.1 186.5L489.2 182.1L489.3 176.3L489.3 170.8L489.4 182.4L489.4 175.3L489.5 164.1L489.6 171.9L489.6 136.9L489.7 139.8L489.8 193.4L489.8 183.8L489.9 196.5L489.9 193.8L490.0 169.0L490.1 190.7L490.1 191.7L490.2 179.5L490.3 165.4L490.3 180.7L490.4 180.8L490.4 163.6L490.5 170.1L490.6 170.4L490.6 163.1L490.7 191.2L490.8 173.5L490.8 184.9L490.9 161.9L490.9 165.2L491.0 191.8L491.1 156.6L491.1 194.1L491.2 159.5L491.3 173.7L491.3 188.9L491.4 193.2L491.4 180.2L491.5 176.5L491.6 186.3L491.6 169.0L491.7 198.6L491.8 176.3L491.8 176.3L491.9 208.7L491.9 172.5L492.0 196.0L492.1 221.6L492.1 184.9L492.2 179.3L492.3 164.1L492.3 183.0L492.4 154.3L492.5 154.9L492.5 161.0L492.6 157.0L492.6 172.1L492.7 184.1L492.8 168.0L492.8 163.1L492.9 173.5L493.0 179.6L493.0 202.3L493.1 167.6L493.1 172.1L493.2 197.0L493.3 175.3L493.3 167.0L493.4 177.9L493.5 166.1L493.5 166.5L493.6 200.6L493.6 180.5L493.7 170.4L493.8 164.1L493.8 155.6L493.9 210.2L494.0 177.4L494.0 167.2L494.1 159.0L494.1 150.3L494.2 190.5L494.3 181.6L494.3 192.6L494.4 165.7L494.5 197.7L494.5 159.7L494.6 163.9L494.6 170.5L494.7 216.1L494.8 186.3L494.8 166.8L494.9 199.6L495.0 179.9L495.0 178.1L495.1 164.7L495.1 173.3L495.2 173.5L495.3 182.8L495.3 176.8L495.4 178.6L495.5 167.2L495.5 179.2L495.6 162.5L495.6 205.6L495.7 159.6L495.8 179.1L495.8 160.9L495.9 175.9L496.0 165.4L496.0 154.4L496.1 184.6L496.1 176.0L496.2 179.2L496.3 174.5L496.3 204.1L496.4 179.2L496.5 180.3L496.5 188.4L496.6 179.6L496.6 202.5L496.7 156.3L496.8 171.5L496.8 146.7L496.9 189.9L497.0 195.2L497.0 173.7L497.1 205.3L497.1 174.4L497.2 187.2L497.3 181.6L497.3 174.1L497.4 176.6L497.5 147.2L497.5 169.0L497.6 197.7L497.6 163.7L497.7 198.6L497.8 176.2L497.8 196.8L497.9 189.4L498.0 158.1L498.0 185.0L498.1 186.4L498.1 185.1L498.2 181.5L498.3 155.8L498.3 195.7L498.4 196.8L498.5 169.9L498.5 204.0L498.6 182.3L498.6 161.4L498.7 177.4L498.8 184.0L498.8 187.6L498.9 191.1L499.0 185.8L499.0 175.9L499.1 159.6L499.1 164.3L499.2 185.5L499.3 188.1L499.3 168.5L499.4 209.1L499.5 183.6L499.5 182.0L499.6 194.8L499.6 192.7L499.7 173.4L499.8 205.7L499.8 191.4L499.9 187.0L500.0 176.8L500.0 199.9L500.1 162.7L500.1 182.0L500.2 181.3L500.3 182.8L500.3 187.6L500.4 192.7L500.5 161.8L500.5 175.5L500.6 179.4L500.6 164.4L500.7 188.3L500.8 170.0L500.8 177.8L500.9 191.3L501.0 168.1L501.0 202.8L501.1 169.8L501.1 191.3L501.2 173.1L501.3 158.0L501.3 171.0L501.4 186.8L501.5 178.7L501.5 183.3L501.6 196.7L501.6 195.5L501.7 177.8L501.8 171.6L501.8 208.9L501.9 179.4L502.0 172.1L502.0 177.1L502.1 193.7L502.1 164.3L502.2 197.7L502.3 170.2L502.3 154.4L502.4 215.4L502.5 175.5L502.5 174.8L502.6 175.9L502.6 189.9L502.7 182.9L502.8 201.5L502.8 177.1L502.9 172.0L503.0 188.3L503.0 192.7L503.1 185.4L503.1 178.9L503.2 178.1L503.3 180.2L503.3 178.0L503.4 199.9L503.5 227.1L503.5 171.1L503.6 158.2L503.6 202.1L503.7 188.5L503.8 175.3L503.8 166.2L503.9 170.7L504.0 160.9L504.0 179.7L504.1 173.9L504.1 174.0L504.2 185.0L504.3 162.3L504.3 171.2L504.4 165.9L504.5 184.4L504.5 165.1L504.6 195.3L504.6 174.3L504.7 226.0L504.8 194.6L504.8 169.7L504.9 185.4L505.0 177.1L505.0 206.6L505.1 156.3L505.1 171.7L505.2 179.6L505.3 174.2L505.3 175.3L505.4 158.8L505.5 176.7L505.5 203.6L505.6 182.7L505.6 161.2L505.7 172.2L505.8 185.1L505.8 171.7L505.9 177.9L506.0 171.7L506.0 206.0L506.1 192.8L506.1 170.9L506.2 182.4L506.3 175.1L506.3 148.4L506.4 183.6L506.5 176.5L506.5 187.3L506.6 188.4L506.6 180.5L506.7 203.3L506.8 217.6L506.8 160.0L506.9 180.9L507.0 164.1L507.0 178.0L507.1 177.7L507.1 171.0L507.2 170.4L507.3 198.5L507.3 162.8L507.4 194.3L507.5 177.2L507.5 136.1L507.6 178.6L507.6 154.5L507.7 184.4L507.8 171.9L507.8 179.0L507.9 174.6L508.0 192.3L508.0 193.4L508.1 175.6L508.1 205.8L508.2 192.2L508.3 171.6L508.3 188.5L508.4 193.0L508.5 196.9L508.5 178.0L508.6 184.7L508.6 178.0L508.7 182.3L508.8 151.1L508.8 185.8L508.9 214.6L509.0 178.4L509.0 179.8L509.1 178.0L509.1 206.8L509.2 164.3L509.3 180.3L509.3 180.4L509.4 206.3L509.5 174.1L509.5 180.8L509.6 160.7L509.6 185.6L509.7 199.4L509.8 178.4L509.8 193.6L509.9 174.9L510.0 196.6L510.0 181.7L510.1 183.0L510.1 180.5L510.2 187.2L510.3 191.9L510.3 180.8L510.4 188.2L510.5 178.2L510.5 183.7L510.6 220.8L510.6 180.9L510.7 160.3L510.8 176.5L510.8 172.6L510.9 174.6L511.0 186.6L511.0 201.4L511.1 169.7L511.1 166.0L511.2 173.1L511.3 175.0L511.3 175.4L511.4 180.6L511.5 176.9L511.5 180.1L511.6 176.3L511.6 194.3L511.7 189.1L511.8 173.2L511.8 184.8L511.9 223.9L512.0 178.8L512.0 221.5L512.1 150.8L512.1 171.2L512.2 171.9L512.3 189.7L512.3 197.5L512.4 183.1L512.5 180.1L512.5 191.4L512.6 178.5L512.6 171.7L512.7 172.9L512.8 195.9L512.8 218.9L512.9 180.4L513.0 189.6L513.0 175.0L513.1 156.3L513.1 156.3L513.2 177.0L513.3 165.5L513.3 156.3L513.4 179.9L513.5 177.2L513.5 169.5L513.6 180.9L513.6 187.2L513.7 191.1L513.8 180.4L513.8 189.0L513.9 170.3L514.0 184.8L514.0 159.6L514.1 163.9L514.1 199.5L514.2 166.0L514.3 185.8L514.3 161.3L514.4 174.2L514.5 181.0L514.5 172.1L514.6 188.0L514.6 176.6L514.7 175.9L514.8 182.3L514.8 175.9L514.9 195.1L515.0 173.7L515.0 198.8L515.1 172.8L515.1 174.8L515.2 171.6L515.3 188.0L515.3 130.9L515.4 183.4L515.5 178.7L515.5 191.0L515.6 160.2L515.6 186.7L515.7 167.4L515.8 194.1L515.8 176.8L515.9 185.3L516.0 168.4L516.0 184.2L516.1 192.7L516.1 175.0L516.2 198.3L516.3 194.2L516.3 170.7L516.4 211.7L516.5 170.9L516.5 185.7L516.6 193.5L516.6 177.6L516.7 172.6L516.8 188.3L516.8 182.7L516.9 170.3L517.0 171.0L517.0 181.1L517.1 191.1L517.1 193.9L517.2 188.4L517.3 172.0L517.3 173.4L517.4 176.9L517.5 160.9L517.5 184.3L517.6 185.3L517.6 185.4L517.7 151.2L517.8 215.4L517.8 177.0L517.9 175.1L518.0 179.7L518.0 142.4L518.1 164.6L518.1 170.7L518.2 193.0L518.3 174.4L518.3 185.1L518.4 179.8L518.5 178.0L518.5 186.6L518.6 172.5L518.6 156.4L518.7 166.5L518.8 177.7L518.8 212.1L518.9 165.7L519.0 165.8L519.0 182.5L519.1 186.3L519.1 171.9L519.2 191.1L519.3 169.9L519.3 195.5L519.4 192.8L519.5 179.8L519.5 202.1L519.6 179.9L519.6 173.5L519.7 199.5L519.8 167.9L519.8 187.2L519.9 173.2L520.0 177.4L520.0 185.7L520.1 186.6L520.1 206.8L520.2 189.1L520.3 190.2L520.3 155.7L520.4 166.3L520.5 200.2L520.5 169.6L520.6 177.2L520.6 184.5L520.7 174.2L520.8 169.6L520.8 187.1L520.9 183.1L521.0 177.8L521.0 193.4L521.1 177.5L521.1 180.6L521.2 188.6L521.3 191.0L521.3 176.0L521.4 168.3L521.5 175.7L521.5 191.2L521.6 170.1L521.6 177.6L521.7 172.2L521.8 163.8L521.8 191.9L521.9 181.1L522.0 187.2L522.0 191.4L522.1 148.4L522.1 167.2L522.2 207.4L522.3 174.3L522.3 186.6L522.4 163.9L522.5 178.4L522.5 181.5L522.6 177.7L522.6 174.8L522.7 179.0L522.8 182.0L522.8 180.9L522.9 173.1L523.0 195.3L523.0 179.3L523.1 180.7L523.1 185.4L523.2 170.0L523.3 198.1L523.3 183.8L523.4 190.8L523.5 172.6L523.5 185.1L523.6 178.6L523.6 174.6L523.7 203.7L523.8 173.7L523.8 189.1L523.9 182.2L524.0 180.4L524.0 168.8L524.1 169.8L524.1 152.8L524.2 177.0L524.3 185.1L524.3 185.5L524.4 171.0L524.5 155.8L524.5 175.0L524.6 186.4L524.6 175.8L524.7 176.0L524.8 178.6L524.8 188.8L524.9 222.6L525.0 185.8L525.0 165.0L525.1 176.5L525.1 216.1L525.2 178.8L525.3 208.4L525.3 148.2L525.4 176.7L525.5 196.2L525.5 168.7L525.6 189.3L525.6 172.0L525.7 178.6L525.8 195.7L525.8 170.6L525.9 198.5L526.0 160.2L526.0 178.1L526.1 193.1L526.1 207.5L526.2 155.3L526.3 158.2L526.3 197.0L526.4 154.7L526.5 176.8L526.5 181.4L526.6 179.7L526.6 182.0L526.7 158.5L526.8 176.9L526.8 208.0L526.9 145.9L527.0 167.3L527.0 194.0L527.1 183.0L527.1 191.0L527.2 178.1L527.3 173.9L527.3 175.8L527.4 186.3L527.5 189.3L527.5 167.7L527.6 179.7L527.6 142.5L527.7 189.4L527.8 168.5L527.8 177.9L527.9 188.6L528.0 159.5L528.0 177.1L528.1 190.6L528.1 182.4L528.2 165.1L528.3 196.1L528.3 159.2L528.4 169.9L528.5 181.8L528.5 159.5L528.6 152.4L528.6 171.0L528.7 176.4L528.8 150.5L528.8 157.0L528.9 191.1L529.0 180.8L529.0 180.9L529.1 183.5L529.1 200.9L529.2 166.6L529.3 177.3L529.3 177.1L529.4 158.4L529.5 185.5L529.5 178.9L529.6 175.0L529.6 183.7L529.7 179.5L529.8 168.5L529.8 178.3L529.9 159.6L530.0 188.2L530.0 175.8L530.1 199.5L530.1 179.5L530.2 187.4L530.3 159.0L530.3 168.7L530.4 171.9L530.5 150.1L530.5 157.6L530.6 169.0L530.6 187.2L530.7 199.9L530.8 178.4L530.8 182.5L530.9 186.6L531.0 181.7L531.0 203.9L531.1 156.7L531.1 194.5L531.2 187.0L531.3 171.1L531.3 203.5L531.4 166.1L531.5 165.8L531.5 182.0L531.6 193.4L531.6 184.2L531.7 208.0L531.8 158.4L531.8 177.5L531.9 188.0L532.0 190.6L532.0 171.0L532.1 156.4L532.1 196.9L532.2 185.6L532.3 206.2L532.3 169.6L532.4 176.3L532.5 141.3L532.5 179.6L532.6 183.7L532.6 187.6L532.7 167.0L532.8 203.6L532.8 168.5L532.9 175.2L533.0 184.6L533.0 190.6L533.1 163.9L533.1 149.5L533.2 183.8L533.3 171.6L533.3 151.8L533.4 186.3L533.5 181.2L533.5 196.0L533.6 179.9L533.6 179.1L533.7 183.4L533.8 188.1L533.8 202.8L533.9 198.3L534.0 191.9L534.0 170.0L534.1 184.7L534.1 189.8L534.2 169.8L534.3 171.1L534.3 188.3L534.4 186.4L534.5 169.8L534.5 173.7L534.6 189.6L534.6 175.3L534.7 178.4L534.8 162.9L534.8 190.1L534.9 166.5L535.0 172.8L535.0 192.4L535.1 163.8L535.1 166.1L535.2 197.9L535.3 146.8L535.3 194.8L535.4 191.0L535.5 182.2L535.5 168.1L535.6 170.8L535.6 179.2L535.7 158.5L535.8 173.2L535.8 158.0L535.9 131.0L536.0 175.8L536.0 223.4L536.1 184.0L536.1 193.7L536.2 177.0L536.3 177.0L536.3 196.4L536.4 195.1L536.5 181.4L536.5 180.5L536.6 224.0L536.6 165.0L536.7 177.7L536.8 178.2L536.8 174.5L536.9 192.9L537.0 178.7L537.0 163.9L537.1 163.2L537.1 172.4L537.2 181.6L537.3 189.6L537.3 159.1L537.4 171.5L537.5 183.6L537.5 216.2L537.6 190.4L537.6 210.9L537.7 160.3L537.8 175.8L537.8 188.4L537.9 181.6L538.0 133.5L538.0 160.7L538.1 198.9L538.1 179.7L538.2 196.8L538.3 206.6L538.3 176.0L538.4 136.6L538.5 154.3L538.5 177.6L538.6 183.0L538.6 175.7L538.7 163.7L538.8 201.3L538.8 210.0L538.9 147.7L539.0 174.7L539.0 153.3L539.1 175.2L539.1 155.8L539.2 186.5L539.3 171.8L539.3 154.3L539.4 163.8L539.5 184.3L539.5 165.8L539.6 187.3L539.6 200.8L539.7 171.4L539.8 157.1L539.8 166.5L539.9 197.6L540.0 166.2L540.0 169.1L540.1 184.3L540.1 223.3L540.2 163.8L540.3 165.9L540.3 171.7L540.4 207.4L540.5 202.3L540.5 163.8L540.6 167.2L540.6 171.7L540.7 181.3L540.8 173.1L540.8 185.5L540.9 182.2L541.0 190.7L541.0 174.9L541.1 183.7L541.1 164.8L541.2 168.4L541.3 189.8L541.3 148.1L541.4 195.2L541.5 172.3L541.5 162.6L541.6 159.1L541.6 218.3L541.7 163.9L541.8 160.2L541.8 156.1L541.9 218.7L542.0 187.7L542.0 179.3L542.1 184.1L542.1 157.9L542.2 187.7L542.3 160.0L542.3 170.7L542.4 201.8L542.5 193.0L542.5 184.5L542.6 176.9L542.6 164.0L542.7 180.4" stroke="#0000ff" stroke-width="1.4"/>
<path d="M49.5 360.9L49.7 336.7L49.9 312.4L50.0 288.2L50.2 263.9L50.3 251.8L50.4 240.1L50.5 216.8L50.7 193.5L50.9 170.3L50.9 164.5L51.0 159.6L51.2 153.2L51.3 149.0L51.4 152.4L51.5 162.1L51.6 169.4L51.7 171.8L51.9 181.5L52.0 189.7L52.0 192.2L52.2 208.2L52.3 224.3L52.5 240.3L52.6 249.9L52.7 251.0L52.8 253.7L53.0 256.4L53.2 259.1L53.3 261.8L53.4 262.5L53.5 263.6L53.7 265.0L53.8 266.4L54.0 267.8L54.2 269.3L54.2 269.7L54.3 270.6L54.5 272.0L54.6 273.3L54.8 274.7L55.0 276.0L55.1 277.3L55.2 278.0L55.3 278.4L55.5 279.3L55.6 280.2L55.8 281.1L56.0 282.0L56.1 282.9L56.2 283.3L56.3 283.4L56.5 283.7L56.6 283.9L56.8 284.2L56.9 284.4L57.1 284.7L57.3 284.9L57.4 285.1L57.6 285.4L57.8 285.6L57.9 285.9L58.1 286.1L58.3 286.4L58.4 286.6L58.6 286.8L58.8 287.1L58.9 287.3L59.1 287.6L59.2 287.7L59.3 287.8L59.4 287.9L59.6 288.1L59.7 288.3L59.9 288.4L60.1 288.6L60.2 288.7L60.4 288.9L60.6 289.1L60.7 289.2L60.9 289.4L61.1 289.6L61.2 289.7L61.4 289.9L61.6 290.0L61.7 290.2L61.9 290.4L62.0 290.5L62.2 290.7L62.4 290.8L62.5 291.0L62.7 291.2L62.9 291.3L63.0 291.5L63.2 291.7L63.4 291.8L63.5 292.0L63.7 292.1L63.9 292.3L64.0 292.5L64.2 292.6L64.3 292.8L64.5 292.9L64.6 293.0L64.7 293.1L64.8 293.3L65.0 293.5L65.2 293.7L65.3 293.9L65.5 294.1L65.7 294.3L65.8 294.5L66.0 294.7L66.2 294.9L66.3 295.1L66.5 295.3L66.7 295.5L66.8 295.7L67.0 295.9L67.1 296.1L67.3 296.3L67.5 296.5L67.6 296.7L67.8 296.9L68.0 297.1L68.1 297.3L68.3 297.5L68.5 297.7L68.6 297.9L68.8 298.1L69.0 298.3L69.1 298.5L69.3 298.7L69.4 298.9L69.6 299.1L69.8 299.3L69.9 299.5L70.1 299.7L70.3 299.9L70.4 300.1L70.6 300.3L70.8 300.5L70.9 300.7L71.1 300.9L71.3 301.1L71.4 301.3L71.6 301.5L71.7 301.7L71.9 301.9L72.1 302.1L72.2 302.2L72.2 302.2L72.4 302.4L72.6 302.6L72.7 302.8L72.9 303.0L73.1 303.2L73.2 303.4L73.4 303.6L73.6 303.8L73.7 304.0L73.9 304.2L74.1 304.4L74.2 304.6L74.4 304.7L74.5 304.9L74.7 305.1L74.9 305.3L75.0 305.5L75.2 305.7L75.4 305.9L75.5 306.1L75.7 306.3L75.9 306.5L76.0 306.7L76.2 306.9L76.4 307.0L76.5 307.2L76.7 307.4L76.8 307.6L77.0 307.8L77.2 308.0L77.3 308.2L77.5 308.4L77.7 308.6L77.8 308.8L78.0 309.0L78.2 309.2L78.3 309.4L78.5 309.5L78.7 309.7L78.8 309.9L79.0 310.1L79.1 310.3L79.3 310.5L79.5 310.7L79.6 310.9L79.8 311.1L80.0 311.3L80.1 311.5L80.1 311.5L80.3 311.7L80.5 311.8L80.6 312.0L80.8 312.2L81.0 312.4L81.1 312.6L81.3 312.8L81.5 313.0L81.6 313.2L81.8 313.3L81.9 313.5L82.1 313.7L82.3 313.9L82.4 314.1L82.6 314.3L82.8 314.5L82.9 314.6L83.1 314.8L83.3 315.0L83.4 315.2L83.6 315.4L83.8 315.6L83.9 315.8L84.1 316.0L84.2 316.1L84.4 316.3L84.6 316.5L84.7 316.7L84.9 316.9L85.1 317.1L85.2 317.3L85.4 317.5L85.6 317.6L85.7 317.8L85.9 318.0L86.1 318.2L86.2 318.4L86.4 318.6L86.5 318.8L86.7 319.0L86.9 319.1L87.0 319.3L87.2 319.5L87.4 319.7L87.5 319.9L87.7 320.1L87.9 320.3L88.0 320.5L88.2 320.6L88.4 320.8L88.5 321.0L88.7 321.2L88.9 321.4L89.0 321.6L89.2 321.8L89.3 322.0L89.5 322.1L89.5 322.1L89.7 322.3L89.8 322.4L90.0 322.6L90.2 322.7L90.3 322.9L90.5 323.0L90.7 323.1L90.8 323.3L91.0 323.4L91.2 323.6L91.3 323.7L91.5 323.9L91.6 324.0L91.8 324.2L92.0 324.3L92.1 324.5L92.3 324.6L92.5 324.7L92.6 324.9L92.8 325.0L93.0 325.2L93.1 325.3L93.3 325.5L93.5 325.6L93.6 325.8L93.8 325.9L93.9 326.0L94.1 326.2L94.3 326.3L94.4 326.5L94.6 326.6L94.8 326.8L94.9 326.9L95.1 327.1L95.3 327.2L95.4 327.3L95.6 327.5L95.8 327.6L95.9 327.8L96.1 327.9L96.3 328.1L96.4 328.2L96.6 328.4L96.7 328.5L96.9 328.6L97.1 328.8L97.2 328.9L97.4 329.1L97.6 329.2L97.7 329.4L97.9 329.5L98.1 329.7L98.2 329.8L98.4 330.0L98.6 330.1L98.7 330.2L98.9 330.4L98.9 330.4L99.0 330.5L99.2 330.6L99.4 330.6L99.5 330.7L99.7 330.8L99.9 330.9L100.0 331.0L100.2 331.1L100.4 331.2L100.5 331.3L100.7 331.3L100.9 331.4L101.0 331.5L101.2 331.6L101.3 331.7L101.5 331.8L101.7 331.9L101.8 332.0L102.0 332.0L102.2 332.1L102.3 332.2L102.5 332.3L102.7 332.4L102.8 332.5L103.0 332.6L103.2 332.7L103.3 332.7L103.5 332.8L103.7 332.9L103.8 333.0L104.0 333.1L104.1 333.2L104.3 333.3L104.5 333.4L104.6 333.4L104.8 333.5L105.0 333.6L105.1 333.7L105.3 333.8L105.5 333.9L105.6 334.0L105.8 334.1L106.0 334.1L106.1 334.2L106.3 334.3L106.4 334.4L106.6 334.5L106.8 334.6L106.9 334.7L107.1 334.7L107.3 334.8L107.4 334.9L107.6 335.0L107.8 335.1L107.9 335.2L108.0 335.2L108.1 335.3L108.3 335.3L108.4 335.4L108.6 335.4L108.7 335.5L108.9 335.5L109.1 335.6L109.2 335.7L109.4 335.7L109.6 335.8L109.7 335.8L109.9 335.9L110.1 335.9L110.2 336.0L110.4 336.0L110.6 336.1L110.7 336.2L110.9 336.2L111.1 336.3L111.2 336.3L111.4 336.4L111.5 336.4L111.7 336.5L111.9 336.6L112.0 336.6L112.2 336.7L112.4 336.7L112.5 336.8L112.7 336.8L112.9 336.9L113.0 336.9L113.2 337.0L113.4 337.1L113.5 337.1L113.7 337.2L113.8 337.2L114.0 337.3L114.2 337.3L114.3 337.4L114.5 337.5L114.7 337.5L114.8 337.6L115.0 337.6L115.2 337.7L115.3 337.7L115.5 337.8L115.7 337.9L115.8 337.9L116.0 338.0L116.1 338.0L116.3 338.1L116.5 338.1L116.6 338.2L116.8 338.2L117.0 338.3L117.1 338.4L117.3 338.4L117.5 338.5L117.6 338.5L117.8 338.6L118.0 338.6L118.1 338.7L118.3 338.8L118.5 338.8L118.6 338.9L118.8 338.9L118.9 339.0L119.1 339.0L119.3 339.1L119.4 339.2L119.6 339.2L119.8 339.3L119.9 339.3L120.1 339.4L120.3 339.4L120.4 339.5L120.6 339.5L120.8 339.6L120.9 339.7L121.1 339.7L121.2 339.8L121.4 339.8L121.6 339.9L121.7 339.9L121.9 340.0L122.1 340.1L122.2 340.1L122.4 340.2L122.6 340.2L122.7 340.3L122.9 340.3L123.1 340.4L123.2 340.5L123.4 340.5L123.5 340.6L123.5 340.4L123.7 340.7L123.9 340.8L124.0 340.6L124.2 340.8L124.4 340.8L124.5 341.1L124.7 340.6L124.9 340.8L125.0 340.9L125.2 340.8L125.4 340.9L125.5 341.1L125.7 340.6L125.9 341.1L126.0 340.8L126.2 340.7L126.3 341.2L126.5 341.1L126.7 341.3L126.8 341.0L127.0 341.3L127.2 341.4L127.3 341.0L127.5 341.1L127.7 341.5L127.8 341.1L128.0 341.3L128.2 340.9L128.3 341.1L128.5 341.6L128.6 341.5L128.8 341.7L129.0 341.5L129.1 341.6L129.3 341.5L129.5 341.6L129.6 341.9L129.8 341.9L130.0 341.5L130.1 341.6L130.3 341.8L130.5 341.9L130.6 341.9L130.8 341.9L130.9 342.2L131.1 341.8L131.3 342.1L131.4 342.0L131.6 342.5L131.8 342.0L131.9 341.9L132.1 342.5L132.3 341.9L132.4 342.1L132.6 342.4L132.8 342.5L132.9 342.1L133.1 342.3L133.3 342.2L133.4 342.4L133.6 342.5L133.7 342.3L133.9 342.6L134.1 342.3L134.2 342.8L134.4 342.7L134.6 342.9L134.7 342.4L134.9 343.0L135.1 342.9L135.2 342.6L135.4 342.7L135.6 342.4L135.7 342.5L135.9 342.7L136.0 342.7L136.2 343.2L136.4 343.1L136.5 343.0L136.7 343.0L136.9 343.3L137.0 343.2L137.2 343.2L137.4 342.9L137.5 343.0L137.7 343.2L137.9 343.2L138.0 343.2L138.2 343.4L138.3 343.3L138.5 343.6L138.7 343.2L138.8 343.2L139.0 343.3L139.2 343.3L139.3 343.4L139.5 343.1L139.7 343.5L139.8 343.8L140.0 343.8L140.2 343.5L140.3 343.4L140.5 343.5L140.7 343.5L140.8 343.7L141.0 344.0L141.1 343.9L141.3 344.2L141.5 343.9L141.6 344.1L141.8 343.9L142.0 344.0L142.0 344.3L142.1 343.8L142.3 343.8L142.5 344.3L142.6 344.0L142.8 343.9L143.0 344.1L143.1 343.9L143.3 344.0L143.4 343.9L143.6 344.1L143.8 344.2L143.9 344.1L144.1 344.0L144.3 344.1L144.4 344.3L144.6 344.4L144.8 344.3L144.9 344.4L145.1 344.2L145.3 344.3L145.4 344.3L145.6 344.3L145.7 344.3L145.9 344.1L146.1 344.2L146.2 344.5L146.4 344.3L146.6 344.5L146.7 344.5L146.9 344.5L147.1 344.6L147.2 344.8L147.4 345.0L147.6 344.5L147.7 344.3L147.9 344.7L148.1 344.5L148.2 344.7L148.4 344.6L148.5 344.8L148.7 344.7L148.9 344.7L149.0 345.1L149.2 344.7L149.4 344.8L149.5 345.2L149.7 344.6L149.9 344.8L150.0 344.8L150.2 344.7L150.4 344.9L150.5 345.0L150.7 344.9L150.8 345.0L151.0 344.5L151.2 344.6L151.3 345.0L151.5 345.0L151.7 344.9L151.8 344.9L152.0 345.1L152.2 345.2L152.3 344.7L152.5 344.9L152.7 345.4L152.8 345.4L153.0 345.3L153.1 345.1L153.3 345.0L153.5 345.2L153.6 345.5L153.8 345.2L154.0 345.1L154.1 345.2L154.3 345.3L154.5 345.2L154.6 345.3L154.8 345.5L155.0 345.3L155.1 345.6L155.3 345.2L155.5 345.3L155.6 345.6L155.8 345.4L155.9 345.2L156.1 345.8L156.3 345.5L156.4 345.2L156.6 345.8L156.8 345.5L156.9 345.8L157.1 345.6L157.3 346.0L157.4 345.9L157.6 345.7L157.8 345.6L157.9 345.6L158.1 345.6L158.2 345.4L158.4 345.5L158.6 345.6L158.7 345.9L158.9 345.8L159.1 345.1L159.2 345.3L159.4 345.6L159.6 345.7L159.7 345.6L159.9 345.9L160.1 345.5L160.2 345.9L160.4 345.9L160.5 345.5L160.5 346.3L160.7 345.8L160.9 346.2L161.0 346.0L161.2 345.9L161.4 346.0L161.5 345.9L161.7 346.1L161.9 346.0L162.0 346.2L162.2 346.1L162.4 346.3L162.5 345.9L162.7 346.2L162.9 345.9L163.0 346.1L163.2 346.1L163.3 345.8L163.5 346.0L163.7 346.4L163.8 346.0L164.0 346.6L164.2 346.0L164.3 346.2L164.5 346.4L164.7 346.1L164.8 346.2L165.0 345.7L165.2 346.2L165.3 345.8L165.5 345.9L165.6 346.3L165.8 346.3L166.0 345.9L166.1 346.2L166.3 346.1L166.5 346.2L166.6 346.4L166.8 346.3L167.0 346.4L167.1 346.5L167.3 346.3L167.5 345.9L167.6 345.9L167.8 346.3L167.9 346.2L168.1 346.2L168.3 346.0L168.4 346.2L168.6 346.4L168.8 346.4L168.9 346.1L169.1 345.8L169.3 346.4L169.4 346.7L169.6 346.2L169.8 346.4L169.9 346.3L170.1 346.1L170.3 346.4L170.4 346.6L170.6 346.8L170.7 346.4L170.9 346.6L171.1 346.4L171.2 346.7L171.4 346.5L171.6 346.7L171.7 346.5L171.9 346.5L172.1 346.3L172.2 346.2L172.4 346.5L172.6 346.7L172.7 346.1L172.9 346.4L173.0 346.4L173.2 346.4L173.4 346.2L173.5 346.3L173.7 346.4L173.9 346.4L174.0 346.7L174.2 346.7L174.4 346.6L174.5 346.6L174.7 346.6L174.9 346.5L175.0 346.6L175.2 346.7L175.3 346.9L175.5 346.5L175.7 346.5L175.8 346.8L176.0 346.6L176.2 346.6L176.3 346.7L176.5 347.0L176.7 346.9L176.8 346.8L177.0 346.4L177.2 346.9L177.3 346.8L177.5 346.9L177.6 346.8L177.8 346.7L178.0 347.2L178.1 347.3L178.3 346.6L178.5 346.8L178.6 346.9L178.8 346.6L179.0 346.6L179.1 347.2L179.3 346.9L179.5 346.6L179.6 347.0L179.8 346.9L180.0 346.7L180.1 346.9L180.3 347.1L180.4 347.0L180.6 347.1L180.8 346.8L180.9 347.2L181.1 346.7L181.3 347.2L181.4 346.9L181.6 347.2L181.8 347.0L181.9 346.7L182.1 346.7L182.3 346.7L182.4 347.0L182.6 347.0L182.7 346.9L182.9 346.9L183.1 347.1L183.2 346.8L183.4 347.0L183.6 346.8L183.7 346.9L183.9 346.9L184.1 347.2L184.2 347.1L184.4 347.3L184.6 347.1L184.7 347.1L184.9 346.9L185.0 347.3L185.2 346.5L185.4 347.1L185.5 346.9L185.7 346.9L185.9 347.6L186.0 347.2L186.2 346.9L186.4 347.6L186.5 347.0L186.7 347.4L186.9 347.3L187.0 347.2L187.2 347.6L187.4 347.2L187.5 347.3L187.7 347.4L187.8 347.1L188.0 346.6L188.2 347.2L188.3 347.2L188.5 347.3L188.7 347.4L188.8 347.2L189.0 347.0L189.2 347.3L189.3 347.1L189.5 347.4L189.7 346.8L189.8 347.7L190.0 347.2L190.1 347.2L190.1 347.3L190.3 347.6L190.5 347.6L190.6 347.4L190.8 347.3L191.0 347.6L191.1 347.6L191.3 347.3L191.5 347.2L191.6 347.5L191.8 347.5L192.0 347.5L192.1 346.9L192.3 347.3L192.4 347.4L192.6 347.2L192.8 346.9L192.9 347.1L193.1 347.7L193.3 347.4L193.4 347.5L193.6 347.4L193.8 347.6L193.9 347.5L194.1 347.6L194.3 347.3L194.4 347.4L194.6 347.7L194.8 347.7L194.9 347.5L195.1 347.3L195.2 347.3L195.4 347.4L195.6 348.0L195.7 347.5L195.9 347.5L196.1 347.5L196.2 347.6L196.4 347.5L196.6 347.5L196.7 346.9L196.9 347.3L197.1 347.4L197.2 347.4L197.4 347.4L197.5 347.4L197.7 347.5L197.9 347.4L198.0 347.2L198.2 347.3L198.4 347.4L198.5 347.2L198.7 347.4L198.9 347.6L199.0 347.8L199.2 347.6L199.4 347.4L199.5 347.4L199.7 347.2L199.8 347.5L200.0 347.6L200.2 347.3L200.3 347.2L200.5 347.5L200.7 347.4L200.8 347.2L201.0 347.4L201.2 347.5L201.3 347.9L201.5 347.2L201.7 347.3L201.8 347.4L202.0 347.5L202.2 347.7L202.3 347.5L202.5 347.5L202.6 347.2L202.8 347.7L203.0 347.2L203.1 347.5L203.3 347.2L203.5 347.7L203.6 347.4L203.8 347.2L204.0 347.4L204.1 347.8L204.3 347.5L204.5 347.4L204.6 347.7L204.8 347.8L204.9 347.4L205.1 347.7L205.3 347.4L205.4 347.7L205.6 347.8L205.8 347.6L205.9 347.2L206.1 347.7L206.3 347.5L206.4 347.4L206.6 347.7L206.8 347.3L206.9 347.5L207.1 347.4L207.2 347.8L207.4 347.8L207.6 348.0L207.7 347.5L207.9 347.5L208.1 347.4L208.2 347.2L208.4 347.6L208.6 347.6L208.7 347.4L208.9 347.2L209.1 347.7L209.2 347.4L209.4 347.6L209.6 347.6L209.7 347.4L209.9 347.7L210.0 347.7L210.2 347.4L210.4 347.5L210.5 347.6L210.7 347.6L210.9 347.4L211.0 347.6L211.2 347.4L211.4 347.5L211.5 347.2L211.7 347.3L211.9 347.4L212.0 347.6L212.2 347.5L212.3 347.7L212.5 347.0L212.7 347.6L212.8 347.4L213.0 347.3L213.2 347.8L213.3 347.7L213.5 347.6L213.7 347.7L213.8 347.8L214.0 347.7L214.2 347.3L214.3 347.4L214.5 347.6L214.6 347.6L214.8 347.9L215.0 347.4L215.1 347.5L215.3 347.8L215.5 347.5L215.6 347.6L215.8 347.7L216.0 347.8L216.1 347.7L216.3 347.8L216.5 347.5L216.6 347.5L216.8 347.5L217.0 347.6L217.1 347.7L217.3 347.2L217.4 347.9L217.6 347.4L217.8 347.5L217.9 347.6L218.1 347.7L218.3 347.6L218.4 347.8L218.6 347.9L218.8 347.6L218.9 347.9L219.1 347.4L219.3 347.4L219.4 348.3L219.6 347.9L219.7 347.6L219.9 347.6L220.1 347.6L220.2 347.5L220.4 347.5L220.6 347.4L220.7 347.3L220.9 347.6L221.1 347.4L221.2 347.9L221.4 347.6L221.6 347.9L221.7 347.4L221.9 347.2L222.0 347.5L222.2 347.9L222.4 347.6L222.5 347.6L222.7 347.6L222.9 347.4L223.0 347.4L223.2 348.1L223.4 347.4L223.5 347.7L223.7 347.7L223.9 347.4L224.0 347.7L224.2 347.9L224.4 347.9L224.5 347.6L224.7 347.5L224.8 347.4L225.0 347.7L225.2 347.7L225.3 347.3L225.5 347.7L225.7 347.4L225.8 347.6L226.0 347.6L226.2 347.7L226.3 347.6L226.5 347.8L226.7 347.8L226.8 347.7L227.0 347.8L227.1 347.6L227.3 347.7L227.5 347.7L227.6 347.7L227.8 347.7L228.0 347.3L228.1 347.7L228.3 347.8L228.5 347.7L228.6 347.6L228.8 347.7L229.0 347.7L229.1 347.7L229.3 347.7L229.4 347.6L229.6 347.6L229.8 348.0L229.9 347.9L230.1 348.2L230.3 347.5L230.4 347.5L230.6 347.4L230.8 347.7L230.9 347.5L231.1 347.7L231.3 347.7L231.4 348.0L231.6 347.9L231.8 347.8L231.9 347.5L232.1 347.4L232.2 347.8L232.4 347.6L232.6 347.7L232.7 347.9L232.9 348.0L233.1 347.9L233.2 348.0L233.4 347.8L233.6 347.7L233.7 347.8L233.9 347.8L234.1 347.6L234.2 347.9L234.4 347.6L234.5 348.1L234.7 347.7L234.9 347.7L235.0 347.9L235.2 348.0L235.4 347.6L235.5 347.9L235.7 347.6L235.9 347.6L236.0 347.7L236.2 347.7L236.4 347.6L236.5 347.7L236.7 347.9L236.8 347.7L237.0 347.6L237.2 347.7L237.3 347.7L237.5 347.8L237.7 347.8L237.8 347.9L238.0 348.0L238.2 347.5L238.3 347.9L238.5 347.7L238.7 348.1L238.8 347.7L239.0 347.9L239.2 347.2L239.3 348.0L239.5 348.0L239.6 347.6L239.8 347.6L240.0 348.2L240.1 347.7L240.3 347.6L240.5 348.0L240.6 347.7L240.8 347.9L241.0 348.0L241.1 347.9L241.3 347.9L241.5 348.1L241.6 347.4L241.8 347.9L241.9 347.9L242.1 347.6L242.3 347.8L242.4 347.5L242.6 347.9L242.8 347.7L242.9 347.8L243.1 347.8L243.3 347.8L243.4 347.8L243.6 347.5L243.8 347.9L243.9 347.9L244.1 347.9L244.2 347.7L244.4 347.7L244.6 347.6L244.7 348.1L244.9 347.8L245.1 347.9L245.2 347.9L245.4 347.8L245.6 348.2L245.7 347.8L245.9 347.8L246.1 348.1L246.2 347.8L246.4 347.5L246.6 347.9L246.7 347.7L246.8 347.9L246.9 348.0L247.0 348.0L247.2 347.9L247.4 347.6L247.5 347.7L247.7 348.0L247.9 347.6L248.0 347.9L248.2 348.0L248.4 347.8L248.5 348.0L248.7 348.1L248.9 347.6L249.0 348.2L249.2 347.7L249.3 348.1L249.5 347.8L249.7 347.9L249.8 347.9L250.0 348.3L250.2 347.9L250.3 347.8L250.5 348.0L250.7 347.8L250.8 347.6L251.0 348.0L251.2 347.8L251.3 348.1L251.5 347.8L251.6 347.7L251.8 347.4L252.0 347.7L252.1 347.8L252.3 347.6L252.5 348.0L252.6 347.6L252.8 347.9L253.0 348.0L253.1 347.6L253.3 347.8L253.5 347.6L253.6 348.1L253.8 347.8L254.0 347.9L254.1 347.9L254.3 348.2L254.4 347.7L254.6 347.8L254.8 348.0L254.9 348.1L255.1 348.0L255.3 347.6L255.4 347.9L255.6 347.9L255.8 347.7L255.9 347.8L256.1 347.8L256.3 347.7L256.4 347.8L256.6 347.7L256.7 348.1L256.9 347.8L257.1 347.9L257.2 347.8L257.4 347.8L257.6 348.0L257.7 347.9L257.9 347.7L258.1 347.9L258.2 348.1L258.4 347.7L258.6 347.6L258.7 347.9L258.9 347.8L259.0 348.0L259.2 347.9L259.4 347.6L259.5 347.7L259.7 347.8L259.9 347.9L260.0 348.1L260.2 347.8L260.4 347.7L260.5 347.6L260.7 347.4L260.9 347.8L261.0 347.6L261.2 348.0L261.4 347.6L261.5 347.7L261.7 347.6L261.8 347.7L262.0 347.7L262.2 347.5L262.3 348.0L262.5 347.7L262.7 347.6L262.8 348.0L263.0 348.0L263.2 347.7L263.3 347.8L263.5 347.7L263.7 347.7L263.8 348.0L264.0 347.8L264.1 347.6L264.3 347.9L264.5 347.9L264.6 348.0L264.8 347.7L265.0 347.5L265.1 348.1L265.3 347.7L265.5 347.7L265.6 347.9L265.8 347.9L266.0 348.0L266.1 348.0L266.3 347.8L266.4 347.7L266.6 347.8L266.8 347.7L266.9 347.8L267.1 348.0L267.3 347.6L267.4 347.6L267.6 348.0L267.8 347.5L267.9 347.7L268.1 347.8L268.3 347.5L268.4 348.3L268.6 348.1L268.8 347.7L268.9 347.9L269.1 348.0L269.2 347.5L269.4 347.7L269.6 348.1L269.7 348.0L269.9 347.7L270.1 347.5L270.2 348.2L270.4 347.8L270.6 347.9L270.7 348.2L270.9 347.9L271.1 348.1L271.2 347.9L271.4 347.5L271.5 347.7L271.7 347.7L271.9 347.7L272.0 347.8L272.2 347.6L272.4 348.0L272.5 347.9L272.7 347.7L272.9 348.0L273.0 347.9L273.2 347.6L273.4 347.5L273.5 347.9L273.7 348.0L273.8 347.7L274.0 347.8L274.2 348.0L274.3 347.7L274.5 347.7L274.7 347.8L274.8 347.3L275.0 347.6L275.2 347.7L275.3 347.6L275.5 347.3L275.7 347.6L275.8 348.0L276.0 347.8L276.2 347.8L276.3 347.9L276.5 347.8L276.6 347.8L276.8 347.8L277.0 347.9L277.1 347.7L277.3 348.1L277.5 347.7L277.6 347.8L277.8 347.8L278.0 348.3L278.1 347.5L278.3 348.1L278.5 348.0L278.6 347.7L278.8 347.9L278.9 347.9L279.1 348.2L279.3 347.9L279.4 347.8L279.6 347.7L279.8 347.9L279.9 347.8L280.1 347.7L280.3 347.9L280.4 348.0L280.6 347.4L280.8 348.0L280.9 347.6L281.1 347.8L281.2 347.5L281.4 347.9L281.6 347.7L281.7 347.8L281.9 347.9L282.1 347.8L282.2 348.0L282.4 347.8L282.6 347.9L282.7 347.7L282.9 347.8L283.1 348.1L283.2 347.9L283.4 347.8L283.6 348.0L283.7 347.6L283.9 347.7L284.0 347.7L284.2 348.0L284.4 347.9L284.5 347.6L284.7 348.1L284.9 347.8L285.0 347.8L285.2 347.9L285.4 347.8L285.5 348.0L285.7 347.8L285.9 348.1L286.0 348.1L286.2 347.6L286.3 348.0L286.5 348.2L286.7 347.6L286.8 348.0L287.0 348.5L287.2 347.8L287.3 347.6L287.5 347.8L287.7 347.5L287.8 347.8L288.0 347.7L288.2 348.0L288.3 347.8L288.5 347.5L288.6 347.7L288.8 347.8L289.0 348.2L289.1 347.9L289.3 348.1L289.5 347.7L289.6 348.0L289.8 347.8L290.0 348.0L290.1 347.5L290.3 348.0L290.5 347.8L290.6 347.3L290.8 347.8L291.0 348.0L291.1 347.7L291.3 347.6L291.4 347.7L291.6 348.2L291.8 347.8L291.9 348.2L292.1 347.5L292.3 347.8L292.4 347.9L292.6 347.7L292.8 347.7L292.9 348.0L293.1 347.5L293.3 347.9L293.4 348.2L293.6 347.6L293.7 347.5L293.9 347.6L294.1 347.7L294.2 348.0L294.4 347.6L294.6 347.5L294.7 347.7L294.9 347.5L295.1 348.0L295.2 347.6L295.4 347.6L295.6 348.1L295.7 348.1L295.9 348.0L296.0 347.8L296.0 320.6L296.2 212.0L296.3 184.9L296.4 201.9L296.5 218.8L296.5 218.6L296.7 218.3L296.9 218.1L297.0 217.8L297.2 217.6L297.4 217.1L297.5 217.0L297.7 216.3L297.9 216.4L298.0 216.0L298.1 216.0L298.2 215.8L298.3 215.5L298.5 215.2L298.7 215.1L298.8 214.9L299.0 214.4L299.2 214.1L299.3 213.8L299.5 213.4L299.6 213.5L299.7 214.0L299.8 213.8L300.0 214.3L300.2 214.4L300.3 214.2L300.5 214.5L300.7 214.9L300.8 215.1L301.0 215.2L301.1 215.7L301.3 215.5L301.5 215.9L301.6 215.5L301.6 216.1L301.8 215.8L302.0 216.1L302.1 215.8L302.3 216.3L302.5 216.0L302.6 216.2L302.8 216.3L303.0 216.2L303.1 216.1L303.3 216.2L303.4 216.0L303.6 216.2L303.8 216.9L303.9 216.5L304.1 216.8L304.3 216.6L304.4 216.4L304.6 216.8L304.8 216.8L304.9 216.6L305.1 216.7L305.3 216.4L305.4 216.7L305.6 216.7L305.7 216.5L305.9 216.9L306.0 216.9L306.1 217.1L306.2 216.8L306.4 216.7L306.6 216.6L306.7 216.9L306.9 217.0L307.1 217.0L307.2 217.1L307.4 216.8L307.6 216.6L307.7 217.3L307.9 217.3L308.1 216.6L308.2 217.2L308.4 216.8L308.5 217.1L308.7 216.7L308.9 216.7L309.0 216.8L309.2 216.7L309.4 216.9L309.5 216.8L309.7 216.5L309.9 216.6L310.0 217.0L310.2 217.0L310.4 216.9L310.5 216.9L310.7 216.8L310.8 217.0L311.0 216.7L311.2 216.8L311.3 216.8L311.5 216.9L311.7 216.7L311.8 217.1L312.0 216.5L312.2 216.8L312.3 216.8L312.5 216.7L312.7 216.6L312.8 216.7L313.0 216.8L313.1 216.9L313.3 217.2L313.5 216.8L313.6 216.9L313.8 216.9L314.0 216.4L314.1 217.2L314.3 216.8L314.5 216.6L314.6 216.7L314.8 216.6L315.0 217.1L315.1 217.0L315.3 216.7L315.5 216.9L315.6 216.5L315.8 216.8L315.9 216.8L316.1 216.8L316.3 216.9L316.4 216.8L316.6 217.0L316.8 216.8L316.9 216.9L317.1 216.8L317.3 217.1L317.4 217.1L317.6 216.8L317.8 216.8L317.9 217.0L318.1 216.9L318.2 217.0L318.4 216.4L318.6 217.1L318.7 216.5L318.9 217.0L319.1 216.8L319.2 216.9L319.4 216.9L319.6 216.7L319.7 216.7L319.9 216.9L320.1 217.0L320.2 216.4L320.4 216.6L320.5 216.8L320.7 216.9L320.9 216.8L321.0 216.8L321.2 216.6L321.4 217.0L321.5 216.8L321.7 217.0L321.9 216.6L322.0 216.5L322.2 216.8L322.4 216.7L322.5 216.6L322.7 216.9L322.9 217.0L323.0 216.6L323.2 216.7L323.3 216.9L323.5 216.5L323.7 216.8L323.8 217.2L324.0 216.8L324.2 216.8L324.3 216.5L324.5 216.8L324.7 216.9L324.8 216.7L325.0 216.8L325.2 217.1L325.3 216.8L325.5 216.9L325.6 216.5L325.8 216.4L326.0 217.0L326.1 217.0L326.3 217.0L326.5 216.9L326.6 217.0L326.8 216.8L327.0 216.6L327.1 217.1L327.3 217.1L327.5 217.2L327.6 216.6L327.8 216.6L327.9 217.1L328.1 217.1L328.3 216.8L328.4 216.6L328.6 216.6L328.8 216.8L328.9 216.7L329.1 216.8L329.3 216.9L329.4 216.4L329.6 216.8L329.8 217.0L329.9 216.9L330.1 217.1L330.3 216.8L330.4 216.6L330.6 217.1L330.7 216.6L330.9 216.4L331.1 216.7L331.2 217.0L331.4 217.0L331.6 216.9L331.7 217.1L331.9 217.1L332.1 216.9L332.2 216.8L332.4 216.7L332.6 217.0L332.7 216.4L332.9 216.6L333.0 216.6L333.2 216.9L333.4 216.5L333.5 216.9L333.7 216.5L333.9 216.6L334.0 217.0L334.2 216.9L334.4 216.4L334.5 216.6L334.7 216.8L334.9 216.8L335.0 216.8L335.2 217.0L335.3 216.8L335.5 216.9L335.7 216.9L335.8 216.7L336.0 217.0L336.2 216.7L336.3 216.8L336.5 216.7L336.7 216.6L336.8 216.6L337.0 216.7L337.2 216.7L337.3 216.8L337.5 216.7L337.7 217.0L337.8 216.8L338.0 216.7L338.1 216.8L338.3 216.7L338.5 217.0L338.6 216.5L338.8 216.9L339.0 216.7L339.1 216.8L339.3 216.6L339.5 216.9L339.6 217.0L339.8 217.2L340.0 216.9L340.1 217.0L340.3 216.7L340.4 216.5L340.6 217.2L340.8 217.0L340.9 216.7L341.1 216.5L341.3 216.7L341.4 216.7L341.6 216.7L341.8 216.7L341.9 216.5L342.1 216.7L342.3 217.0L342.4 216.9L342.6 216.7L342.7 216.9L342.9 216.8L343.1 216.9L343.2 216.9L343.4 216.6L343.6 216.9L343.7 217.0L343.9 216.9L344.1 216.8L344.2 216.4L344.4 216.7L344.6 216.5L344.7 216.7L344.9 217.2L345.1 216.7L345.2 216.9L345.4 217.0L345.5 217.0L345.7 216.4L345.9 217.1L346.0 216.9L346.2 216.6L346.4 216.6L346.5 217.1L346.7 216.8L346.9 216.9L347.0 216.8L347.2 216.6L347.4 216.9L347.5 216.8L347.7 216.5L347.8 217.1L348.0 216.8L348.2 216.7L348.3 217.0L348.5 216.9L348.7 217.0L348.8 216.7L349.0 216.9L349.2 216.6L349.3 216.6L349.5 216.8L349.7 216.8L349.8 216.7L350.0 216.8L350.1 217.0L350.3 216.6L350.5 216.7L350.6 216.6L350.8 217.0L351.0 216.6L351.1 216.4L351.3 216.6L351.5 217.1L351.6 216.8L351.8 216.8L352.0 216.7L352.1 216.8L352.3 216.7L352.5 216.9L352.6 216.7L352.8 216.9L352.9 216.7L353.1 216.6L353.3 216.9L353.4 216.6L353.6 216.9L353.8 216.8L353.9 216.8L354.1 216.5L354.3 216.9L354.4 216.5L354.6 217.1L354.8 216.8L354.9 216.6L355.1 216.6L355.2 217.0L355.4 217.0L355.6 216.6L355.7 217.0L355.9 216.6L356.1 216.9L356.2 216.8L356.4 216.3L356.6 216.5L356.7 216.6L356.9 217.0L357.1 216.7L357.2 216.7L357.4 216.8L357.5 216.5L357.7 217.1L357.9 216.7L358.0 216.7L358.2 216.9L358.4 216.4L358.5 217.0L358.7 216.8L358.9 216.7L359.0 217.2L359.2 217.0L359.4 216.9L359.5 216.6L359.7 216.6L359.9 216.6L360.0 216.7L360.2 217.2L360.3 216.7L360.5 216.9L360.7 216.5L360.8 216.5L361.0 216.3L361.2 216.6L361.3 216.6L361.5 217.0L361.7 216.7L361.8 217.0L362.0 216.6L362.2 217.0L362.3 216.8L362.5 216.9L362.6 216.8L362.8 216.7L363.0 216.9L363.1 216.7L363.3 216.9L363.5 216.5L363.6 216.9L363.8 216.5L364.0 216.3L364.1 217.2L364.3 216.9L364.5 216.8L364.6 216.5L364.8 216.8L364.9 216.7L365.1 216.9L365.3 216.6L365.4 217.0L365.6 216.6L365.8 217.3L365.9 217.1L366.1 216.4L366.3 216.7L366.4 216.9L366.6 216.3L366.8 216.5L366.9 216.5L367.1 216.8L367.3 216.6L367.4 216.6L367.6 217.1L367.7 216.6L367.9 216.8L368.1 216.5L368.2 216.5L368.4 216.9L368.6 216.9L368.7 216.7L368.9 216.6L369.1 216.8L369.2 216.8L369.4 216.6L369.6 216.7L369.7 216.5L369.9 216.7L370.0 216.9L370.2 217.1L370.4 216.6L370.5 216.8L370.7 216.8L370.9 216.8L371.0 217.0L371.2 216.8L371.4 217.2L371.5 216.8L371.7 216.9L371.9 216.4L372.0 216.6L372.2 216.8L372.3 216.7L372.5 216.6L372.7 216.9L372.8 216.8L373.0 216.8L373.2 216.2L373.3 216.7L373.5 217.1L373.7 216.6L373.8 216.2L374.0 216.9L374.2 216.0L374.3 216.7L374.5 216.5L374.7 216.8L374.8 216.8L375.0 217.0L375.1 216.9L375.3 217.2L375.5 216.5L375.6 217.0L375.8 216.7L376.0 216.7L376.1 216.9L376.3 216.7L376.5 216.7L376.6 216.8L376.8 216.7L377.0 216.7L377.1 216.9L377.3 217.0L377.4 216.9L377.6 216.7L377.8 216.4L377.9 216.4L378.1 216.7L378.3 216.5L378.4 216.7L378.6 216.5L378.8 216.7L378.9 216.6L379.1 216.8L379.3 216.7L379.4 216.3L379.6 217.0L379.7 216.7L379.9 216.8L380.1 216.5L380.2 216.4L380.4 216.8L380.6 217.3L380.7 216.6L380.9 216.6L381.1 217.1L381.2 216.8L381.4 216.7L381.6 217.2L381.7 216.6L381.9 216.6L382.1 216.7L382.2 216.9L382.4 216.9L382.5 216.8L382.7 216.6L382.9 216.9L383.0 216.4L383.2 216.6L383.4 217.1L383.5 216.4L383.7 216.7L383.9 216.8L384.0 216.7L384.2 217.1L384.4 216.7L384.5 217.2L384.7 216.9L384.8 216.4L385.0 216.5L385.2 216.8L385.3 216.9L385.5 216.5L385.7 216.7L385.8 216.7L386.0 216.6L386.2 216.9L386.3 216.5L386.5 217.1L386.7 216.4L386.8 217.0L387.0 216.8L387.1 216.8L387.3 216.6L387.5 216.6L387.6 216.6L387.8 216.6L388.0 216.6L388.1 216.7L388.3 217.1L388.5 217.2L388.6 217.2L388.8 216.7L389.0 216.7L389.1 216.7L389.3 216.7L389.5 216.7L389.6 216.9L389.8 217.0L389.9 217.1L390.1 216.5L390.3 216.5L390.4 217.0L390.6 216.8L390.8 216.6L390.9 216.4L391.1 216.8L391.3 216.7L391.4 216.5L391.6 217.0L391.8 216.8L391.9 216.7L392.1 216.8L392.2 216.3L392.4 216.5L392.6 216.7L392.7 216.9L392.9 216.5L393.1 216.6L393.2 216.8L393.4 216.8L393.6 217.0L393.7 216.7L393.9 216.5L394.1 216.5L394.2 216.6L394.4 216.5L394.5 216.8L394.7 216.8L394.9 216.4L395.0 216.6L395.2 216.9L395.4 216.6L395.5 216.5L395.7 216.5L395.9 216.7L396.0 216.8L396.2 216.6L396.4 216.3L396.5 216.7L396.7 216.8L396.9 216.6L397.0 216.9L397.2 216.6L397.3 216.7L397.5 216.5L397.7 216.7L397.8 216.5L398.0 216.2L398.2 216.7L398.3 216.9L398.5 216.6L398.7 216.7L398.8 216.7L399.0 216.8L399.2 216.6L399.3 216.7L399.5 217.1L399.6 216.7L399.8 216.6L400.0 216.4L400.1 216.8L400.3 216.8L400.5 216.4L400.6 216.8L400.8 216.7L401.0 216.6L401.1 216.5L401.3 216.7L401.5 216.9L401.6 216.5L401.8 216.8L401.9 216.8L402.1 216.3L402.3 216.5L402.4 216.9L402.6 216.8L402.8 216.7L402.9 216.8L403.1 217.1L403.3 216.5L403.4 216.5L403.6 216.6L403.8 216.8L403.9 216.6L404.1 216.5L404.3 216.9L404.4 216.7L404.6 216.8L404.7 216.5L404.9 216.6L405.1 216.9L405.2 216.8L405.4 216.3L405.6 216.9L405.7 216.6L405.9 216.8L406.1 216.4L406.2 216.7L406.4 216.8L406.6 216.9L406.7 216.7L406.9 216.5L407.0 216.5L407.2 216.9L407.4 216.4L407.5 216.7L407.7 216.9L407.9 216.6L408.0 216.8L408.2 216.8L408.4 216.8L408.5 216.7L408.7 216.8L408.9 217.0L409.0 216.6L409.2 216.8L409.3 216.4L409.5 216.6L409.7 216.5L409.8 216.6L410.0 216.4L410.2 216.7L410.3 216.9L410.5 216.6L410.7 217.2L410.8 216.7L411.0 216.6L411.2 216.7L411.3 216.4L411.5 216.5L411.7 216.6L411.8 216.7L412.0 216.4L412.1 216.8L412.3 216.7L412.5 216.5L412.6 216.5L412.8 216.3L413.0 216.7L413.1 217.0L413.3 216.5L413.5 216.4L413.6 216.7L413.8 216.3L414.0 216.3L414.1 216.8L414.3 216.8L414.4 216.9L414.6 216.5L414.8 216.5L414.9 216.5L415.1 216.9L415.3 216.8L415.4 216.9L415.6 217.0L415.8 216.9L415.9 217.0L416.1 216.7L416.3 216.6L416.4 216.5L416.6 216.7L416.7 216.8L416.9 216.7L417.1 216.5L417.2 216.7L417.4 216.6L417.6 216.7L417.7 216.8L417.9 216.6L418.1 216.9L418.2 216.4L418.4 217.0L418.6 216.6L418.7 216.9L418.9 216.3L419.1 216.5L419.2 216.8L419.4 216.7L419.5 216.9L419.7 216.7L419.9 216.6L420.0 216.1L420.2 216.9L420.4 216.4L420.5 216.8L420.7 216.6L420.9 216.5L421.0 216.5L421.2 216.6L421.4 216.7L421.5 216.6L421.7 216.6L421.8 216.4L422.0 216.9L422.2 216.7L422.3 216.9L422.5 216.8L422.7 216.8L422.8 216.4L423.0 216.2L423.2 216.4L423.3 216.9L423.5 216.6L423.7 216.9L423.8 216.5L424.0 216.4L424.1 216.5L424.3 216.5L424.5 216.7L424.6 217.0L424.8 217.0L425.0 216.7L425.1 216.5L425.3 216.4L425.5 216.7L425.6 216.6L425.8 216.6L426.0 216.4L426.1 216.6L426.3 216.9L426.4 216.4L426.6 216.6L426.8 216.6L426.9 216.9L427.1 216.6L427.3 217.0L427.4 217.0L427.6 216.7L427.8 216.7L427.9 216.5L428.1 216.3L428.3 216.6L428.4 216.3L428.6 216.7L428.8 216.5L428.9 216.9L429.1 216.6L429.2 216.7L429.4 216.7L429.6 216.5L429.7 217.0L429.9 216.6L430.1 216.8L430.2 216.6L430.4 216.5L430.6 216.7L430.7 216.7L430.9 216.9L431.1 216.5L431.2 216.8L431.4 216.5L431.5 216.9L431.7 216.4L431.9 216.8L432.0 216.4L432.2 216.7L432.4 216.5L432.5 216.6L432.7 216.5L432.9 216.6L433.0 216.4L433.2 216.5L433.4 216.5L433.5 216.3L433.7 216.8L433.8 216.4L434.0 216.6L434.2 216.9L434.3 216.5L434.5 216.7L434.7 216.3L434.8 216.7L435.0 216.6L435.2 216.6L435.3 217.0L435.5 216.5L435.7 216.8L435.8 216.3L436.0 216.3L436.2 216.6L436.3 216.9L436.5 216.6L436.6 216.6L436.8 216.5L437.0 216.7L437.1 216.8L437.3 216.6L437.5 216.8L437.6 216.3L437.8 216.8L438.0 216.7L438.1 216.6L438.3 216.9L438.5 216.7L438.6 216.6L438.8 216.7L438.9 216.7L439.1 216.4L439.3 216.5L439.4 216.9L439.6 216.7L439.8 216.5L439.9 216.7L440.1 216.6L440.3 216.6L440.4 216.5L440.6 216.6L440.8 216.6L440.9 216.8L441.1 216.5L441.2 216.8L441.4 216.3L441.6 216.6L441.7 216.6L441.9 216.4L442.1 216.6L442.2 216.6L442.4 216.6L442.6 216.7L442.7 216.8L442.9 216.7L443.1 216.4L443.2 216.7L443.4 216.7L443.6 216.7L443.7 216.5L443.9 216.2L444.0 216.8L444.2 216.5L444.4 216.6L444.5 216.7L444.7 216.5L444.9 216.8L445.0 216.4L445.2 216.6L445.4 216.8L445.5 216.3L445.7 216.4L445.9 216.4L446.0 216.9L446.2 216.6L446.3 216.7L446.5 216.5L446.7 216.3L446.8 217.0L447.0 216.6L447.2 216.6L447.3 216.4L447.5 216.6L447.7 216.8L447.8 216.6L448.0 216.8L448.2 216.7L448.3 216.6L448.5 216.7L448.6 216.5L448.8 216.9L449.0 216.1L449.1 216.3L449.3 216.4L449.5 216.8L449.6 217.0L449.8 216.8L450.0 216.6L450.1 216.1L450.3 216.3L450.5 216.7L450.6 216.3L450.8 216.3L451.0 216.6L451.1 216.3L451.3 216.5L451.4 216.7L451.6 216.8L451.8 216.6L451.9 216.4L452.1 216.8L452.3 216.9L452.4 216.5L452.6 217.1L452.8 216.2L452.9 216.7L453.1 216.4L453.3 216.2L453.4 216.9L453.6 216.8L453.7 216.1L453.9 216.6L454.1 216.6L454.2 216.5L454.4 216.4L454.6 216.3L454.7 216.6L454.9 216.6L455.1 216.6L455.2 216.5L455.4 216.3L455.6 216.5L455.7 216.2L455.9 216.7L456.0 216.5L456.2 216.2L456.4 216.3L456.5 216.5L456.7 216.7L456.9 216.7L457.0 216.6L457.2 216.5L457.4 216.6L457.5 216.9L457.7 216.7L457.9 216.5L458.0 216.4L458.2 216.8L458.4 216.6L458.5 216.9L458.7 216.7L458.8 215.9L459.0 216.6L459.2 216.6L459.3 216.7L459.5 216.8L459.7 216.9L459.8 216.6L460.0 216.6L460.2 216.3L460.3 216.9L460.5 216.5L460.7 216.3L460.8 217.0L461.0 216.4L461.1 216.9L461.3 216.5L461.5 216.3L461.6 216.6L461.8 216.5L462.0 216.7L462.1 216.5L462.3 216.3L462.5 216.6L462.6 216.6L462.8 216.5L463.0 216.4L463.1 216.9L463.3 216.5L463.4 216.7L463.6 216.5L463.8 216.4L463.9 216.5L464.1 216.3L464.3 216.8L464.4 216.6L464.6 216.8L464.8 216.5L464.9 216.5L465.1 216.6L465.3 216.8L465.4 216.6L465.6 216.6L465.8 216.4L465.9 216.6L466.1 216.3L466.2 216.5L466.4 216.9L466.6 216.6L466.7 216.8L466.9 216.4L467.1 216.3L467.2 216.6L467.4 216.5L467.6 216.8L467.7 217.0L467.9 216.7L468.1 216.6L468.2 216.8L468.4 216.5L468.5 216.5L468.7 216.4L468.9 216.2L469.0 216.4L469.2 216.6L469.4 216.5L469.5 216.4L469.7 216.8L469.9 216.3L470.0 216.4L470.2 216.6L470.4 216.7L470.5 215.8L470.7 216.4L470.8 216.4L471.0 216.2L471.2 216.3L471.3 216.5L471.5 216.4L471.7 216.7L471.8 216.4L472.0 216.8L472.2 216.5L472.3 216.4L472.5 216.8L472.7 216.2L472.8 216.8L473.0 216.3L473.2 216.6L473.3 216.5L473.5 216.7L473.6 216.0L473.8 216.3L474.0 216.2L474.1 216.4L474.3 216.4L474.5 216.5L474.6 216.6L474.8 216.4L475.0 216.5L475.1 216.6L475.3 216.8L475.5 216.6L475.6 216.4L475.8 216.6L475.9 216.5L476.1 216.6L476.3 216.7L476.4 216.7L476.6 216.7L476.8 216.6L476.9 216.6L477.1 216.3L477.3 216.7L477.4 216.9L477.6 216.4L477.8 216.6L477.9 216.5L478.1 216.0L478.2 216.2L478.4 216.4L478.6 216.3L478.7 216.5L478.9 216.3L479.1 216.6L479.2 216.7L479.4 216.6L479.6 216.2L479.7 216.2L479.9 216.6L480.1 216.3L480.2 216.5L480.4 216.3L480.6 216.6L480.7 216.3L480.9 216.5L481.0 216.6L481.2 216.5L481.4 216.5L481.5 216.6L481.7 216.8L481.9 216.2L482.0 216.6L482.2 216.9L482.4 217.0L482.5 217.1L482.7 216.6L482.9 216.2L483.0 216.8L483.2 216.6L483.3 216.9L483.5 216.3L483.7 216.4L483.8 216.4L484.0 216.2L484.2 216.2L484.3 216.3L484.5 216.6L484.7 216.8L484.8 216.7L485.0 216.9L485.2 216.1L485.3 216.5L485.5 216.5L485.6 216.5L485.8 216.1L486.0 216.6L486.1 216.3L486.3 216.4L486.5 216.5L486.6 216.9L486.8 216.3L487.0 216.6L487.1 216.6L487.3 216.5L487.5 216.5L487.6 216.3L487.8 216.6L488.0 216.5L488.1 216.4L488.3 216.5L488.4 216.4L488.6 216.5L488.8 216.3L488.9 216.6L489.1 216.8L489.3 216.5L489.4 216.3L489.6 216.6L489.8 216.6L489.9 216.6L490.1 216.5L490.3 216.5L490.4 216.4L490.6 216.8L490.7 216.2L490.9 216.4L491.1 216.7L491.2 216.2L491.4 216.4L491.6 216.2L491.7 216.7L491.9 216.2L492.1 216.5L492.2 216.9L492.4 216.3L492.6 216.5L492.7 216.7L492.9 216.5L493.0 216.9L493.2 216.4L493.4 216.5L493.5 216.5L493.7 216.2L493.9 216.5L494.0 216.6L494.2 216.7L494.4 216.5L494.5 216.3L494.7 216.6L494.9 216.7L495.0 216.3L495.2 216.5L495.4 216.5L495.5 216.1L495.7 216.7L495.8 216.4L496.0 216.8L496.2 216.5L496.3 216.4L496.5 216.3L496.7 216.7L496.8 216.3L497.0 216.3L497.2 216.5L497.3 216.0L497.5 216.5L497.7 216.7L497.8 216.4L498.0 216.9L498.1 216.2L498.3 216.3L498.5 216.6L498.6 216.4L498.8 216.4L499.0 216.1L499.1 216.6L499.3 216.7L499.5 216.9L499.6 216.5L499.8 216.8L500.0 216.5L500.1 216.4L500.3 216.6L500.4 216.7L500.6 216.2L500.8 216.5L500.9 216.4L501.1 216.3L501.3 216.7L501.4 216.7L501.6 216.0L501.8 216.5L501.9 216.7L502.1 216.5L502.3 216.6L502.4 216.7L502.6 216.6L502.8 216.5L502.9 216.5L503.1 216.4L503.2 216.8L503.4 216.8L503.6 216.3L503.7 216.6L503.9 216.2L504.1 216.4L504.2 216.7L504.4 216.4L504.6 216.7L504.7 216.4L504.9 216.2L505.1 216.0L505.2 216.5L505.4 216.3L505.5 216.4L505.7 216.3L505.9 217.0L506.0 216.5L506.2 216.4L506.4 216.4L506.5 216.6L506.7 216.3L506.9 216.2L507.0 216.4L507.2 216.5L507.4 216.5L507.5 216.4L507.7 216.2L507.8 216.2L508.0 216.6L508.2 216.6L508.3 216.6L508.5 216.3L508.7 216.4L508.8 216.4L509.0 216.4L509.2 216.4L509.3 216.5L509.5 216.7L509.7 216.6L509.8 216.4L510.0 216.4L510.2 216.5L510.3 216.5L510.5 216.2L510.6 216.5L510.8 216.4L511.0 216.5L511.1 216.6L511.3 216.8L511.5 216.6L511.6 216.6L511.8 216.3L512.0 216.7L512.1 216.5L512.3 216.3L512.5 216.5L512.6 216.4L512.8 216.3L512.9 216.8L513.1 216.5L513.3 216.6L513.4 216.2L513.6 216.5L513.8 216.3L513.9 216.1L514.1 216.5L514.3 216.4L514.4 216.4L514.6 216.5L514.8 216.2L514.9 216.3L515.1 216.2L515.2 216.4L515.4 216.5L515.6 216.5L515.7 216.5L515.9 216.8L516.1 216.4L516.2 216.3L516.4 216.4L516.6 216.5L516.7 216.4L516.9 216.4L517.1 216.4L517.2 216.1L517.4 216.6L517.6 216.4L517.7 216.3L517.9 216.4L518.0 216.5L518.2 216.6L518.4 216.6L518.5 216.3L518.7 216.2L518.9 216.6L519.0 216.3L519.2 216.3L519.4 216.2L519.5 216.4L519.7 216.3L519.9 216.3L520.0 216.7L520.2 216.4L520.3 216.8L520.5 216.8L520.7 216.6L520.8 216.7L521.0 216.3L521.2 216.2L521.3 216.5L521.5 216.5L521.7 216.5L521.8 216.5L522.0 216.4L522.2 216.4L522.3 216.5L522.5 216.6L522.6 216.5L522.8 216.3L523.0 216.5L523.1 216.1L523.3 216.5L523.5 216.2L523.6 216.7L523.8 216.6L524.0 216.3L524.1 216.3L524.3 216.5L524.5 216.0L524.6 216.4L524.8 216.4L525.0 216.5L525.1 216.1L525.3 216.3L525.4 216.3L525.6 216.7L525.8 216.4L525.9 216.5L526.1 216.3L526.3 216.2L526.4 216.6L526.6 216.4L526.8 216.2L526.9 216.4L527.1 216.5L527.3 216.6L527.4 216.6L527.6 216.7L527.7 216.2L527.9 216.4L528.1 216.7L528.2 216.4L528.4 216.7L528.6 217.1L528.7 216.2L528.9 216.2L529.1 216.7L529.2 216.6L529.4 216.4L529.6 216.5L529.7 216.6L529.9 216.5L530.0 216.5L530.2 216.5L530.4 216.4L530.5 216.5L530.7 216.6L530.9 216.4L531.0 216.7L531.2 216.1L531.4 216.8L531.5 216.4L531.7 216.3L531.9 216.3L532.0 216.4L532.2 216.2L532.4 216.6L532.5 216.4L532.7 216.4L532.8 216.5L533.0 216.5L533.2 216.2L533.3 216.5L533.5 216.5L533.7 216.5L533.8 216.4L534.0 216.4L534.2 216.4L534.3 216.3L534.5 216.4L534.7 216.3L534.8 216.1L535.0 216.6L535.1 216.1L535.3 216.5L535.5 216.3L535.6 216.4L535.8 216.5L536.0 216.8L536.1 216.1L536.3 216.5L536.5 216.6L536.6 216.2L536.8 216.4L537.0 216.0L537.1 216.1L537.3 216.3L537.4 216.4L537.6 216.3L537.8 216.7L537.9 216.4L538.1 216.4L538.3 216.5L538.4 216.4L538.6 216.7L538.8 216.2L538.9 216.1L539.1 216.6L539.3 216.4L539.4 216.1L539.6 216.3L539.8 216.6L539.9 216.6L540.1 216.2L540.2 216.0L540.4 216.6L540.6 216.4L540.7 216.5L540.9 216.4L541.1 216.3L541.2 216.4L541.4 216.5L541.6 216.0L541.7 216.4L541.9 216.4L542.1 216.2L542.2 216.4L542.4 216.4L542.5 216.2L542.7 216.6" stroke="#ff00ff" stroke-width="1.4"/>
</g>
<g font-size="15.2">
<text transform="translate(49.55 419.60) scale(1 1.07)" text-anchor="middle">0</text><text transform="translate(98.87 419.60) scale(1 1.07)" text-anchor="middle">0.2</text><text transform="translate(148.18 419.60) scale(1 1.07)" text-anchor="middle">0.4</text><text transform="translate(197.50 419.60) scale(1 1.07)" text-anchor="middle">0.6</text><text transform="translate(246.81 419.60) scale(1 1.07)" text-anchor="middle">0.8</text><text transform="translate(296.13 419.60) scale(1 1.07)" text-anchor="middle">1</text><text transform="translate(345.45 419.60) scale(1 1.07)" text-anchor="middle">1.2</text><text transform="translate(394.76 419.60) scale(1 1.07)" text-anchor="middle">1.4</text><text transform="translate(444.08 419.60) scale(1 1.07)" text-anchor="middle">1.6</text><text transform="translate(493.39 419.60) scale(1 1.07)" text-anchor="middle">1.8</text><text transform="translate(542.71 419.60) scale(1 1.07)" text-anchor="middle">2</text>
<text transform="translate(42.60 404.10) scale(1 1.07)" text-anchor="end">-5</text><text transform="translate(42.60 354.60) scale(1 1.07)" text-anchor="end">0</text><text transform="translate(42.60 306.10) scale(1 1.07)" text-anchor="end">5</text><text transform="translate(42.60 257.60) scale(1 1.07)" text-anchor="end">10</text><text transform="translate(42.60 209.10) scale(1 1.07)" text-anchor="end">15</text><text transform="translate(42.60 160.60) scale(1 1.07)" text-anchor="end">20</text><text transform="translate(42.60 112.10) scale(1 1.07)" text-anchor="end">25</text><text transform="translate(42.60 63.60) scale(1 1.07)" text-anchor="end">30</text><text transform="translate(42.60 15.10) scale(1 1.07)" text-anchor="end">35</text>
</g>
<text x="296.7" y="440.8" text-anchor="middle" font-size="16.8">time(s)</text>
<text transform="translate(16.3 203.18) rotate(-90)" text-anchor="middle" font-size="16.8">q-axis stator current (A)</text>
<rect x="384.4" y="21.1" width="146.2" height="40.6" fill="#fff" stroke="#333333" stroke-width="1"/>
<path d="M388.4 31.8H433.8" stroke="#4646ff" stroke-width="1.7"/>
<path d="M388.4 51.0H433.8" stroke="#ff50ff" stroke-width="1.7"/>
<g font-size="13.7">
<text transform="translate(437.4 37.8) scale(1 1.07)">IP controller</text>
<text transform="translate(437.4 55.7) scale(1 1.07)">MVT controller</text>
</g>
</svg>
</body></html>
